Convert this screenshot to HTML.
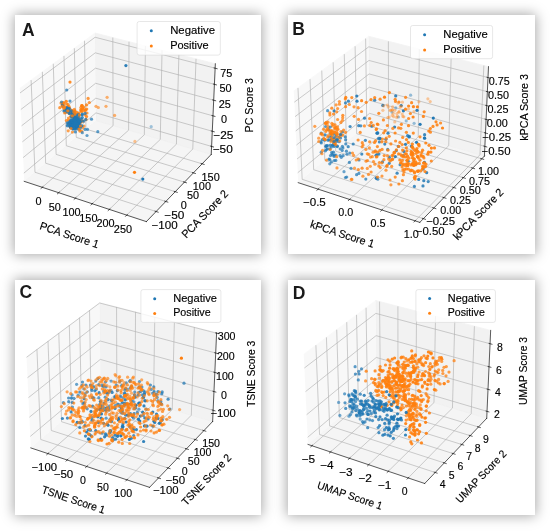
<!DOCTYPE html>
<html><head><meta charset="utf-8"><title>Figure</title><style>
html,body{margin:0;padding:0;background:#fff;width:550px;height:531px;overflow:hidden;font-family:"Liberation Sans",sans-serif}
.panel{position:absolute;background:#fff;box-shadow:0 0 12px 1px rgba(0,0,0,0.35);overflow:hidden}
.panel svg{position:absolute;left:0;top:0;filter:blur(0.3px)}
.lbl{position:absolute;font-weight:bold;font-size:17.5px;line-height:1;color:#1a1a1a;filter:blur(0.3px)}
</style></head><body>
<div class="panel" style="left:15px;top:15px;width:246px;height:239px"><svg width="246" height="239" viewBox="0 0 246 239" font-family="Liberation Sans, sans-serif"><g transform="translate(-91.40 -33.20) scale(0.81694 0.82472)"><g><g><path d="M 0 345.6  L 460.8 345.6  L 460.8 0  L 0 0  z " style="fill: #ffffff"/> </g> <g><path d="M 103.10 307.58  L 369.21 307.58  L 369.21 41.47  L 103.10 41.47  z " style="fill: #ffffff"/> </g> <g><g><path d="M 123.19 241.96  L 211.07 168.30  L 209.85 62.07  L 117.77 129.27  " style="fill: #f2f2f2; opacity: 0.5; stroke: #f2f2f2; stroke-linejoin: miter"/> </g> </g> <g><g><path d="M 211.07 168.30  L 352.09 209.29  L 357.12 99.40  L 209.85 62.07  " style="fill: #e6e6e6; opacity: 0.5; stroke: #e6e6e6; stroke-linejoin: miter"/> </g> </g> <g><g><path d="M 123.19 241.96  L 272.67 290.79  L 352.09 209.29  L 211.07 168.30  " style="fill: #ececec; opacity: 0.5; stroke: #ececec; stroke-linejoin: miter"/> </g> </g> <g><g><path d="M 145.26 249.17  L 231.97 174.38  L 231.63 67.59  " style="fill: none; stroke: #b0b0b0; stroke-width: 0.8"/> <path d="M 165.34 255.73  L 250.96 179.90  L 251.44 72.61  " style="fill: none; stroke: #b0b0b0; stroke-width: 0.8"/> <path d="M 185.71 262.38  L 270.20 185.49  L 271.52 77.70  " style="fill: none; stroke: #b0b0b0; stroke-width: 0.8"/> <path d="M 206.38 269.13  L 289.70 191.16  L 291.88 82.86  " style="fill: none; stroke: #b0b0b0; stroke-width: 0.8"/> <path d="M 227.35 275.98  L 309.46 196.90  L 312.53 88.10  " style="fill: none; stroke: #b0b0b0; stroke-width: 0.8"/> <path d="M 248.63 282.93  L 329.49 202.72  L 333.48 93.40  " style="fill: none; stroke: #b0b0b0; stroke-width: 0.8"/> </g> </g> <g><g><path d="M 131.59 119.18  L 136.34 230.94  L 284.60 278.54  " style="fill: none; stroke: #b0b0b0; stroke-width: 0.8"/> <path d="M 145.34 109.15  L 149.44 219.97  L 296.46 266.37  " style="fill: none; stroke: #b0b0b0; stroke-width: 0.8"/> <path d="M 158.74 99.37  L 162.21 209.26  L 308.02 254.51  " style="fill: none; stroke: #b0b0b0; stroke-width: 0.8"/> <path d="M 171.80 89.84  L 174.68 198.81  L 319.28 242.95  " style="fill: none; stroke: #b0b0b0; stroke-width: 0.8"/> <path d="M 184.53 80.54  L 186.85 188.61  L 330.26 231.68  " style="fill: none; stroke: #b0b0b0; stroke-width: 0.8"/> <path d="M 196.96 71.48  L 198.73 178.65  L 340.98 220.69  " style="fill: none; stroke: #b0b0b0; stroke-width: 0.8"/> </g> </g> <g><g><path d="M 352.53 199.61  L 210.96 158.93  L 122.72 232.05  " style="fill: none; stroke: #b0b0b0; stroke-width: 0.8"/> <path d="M 353.37 181.21  L 210.76 141.11  L 121.81 213.20  " style="fill: none; stroke: #b0b0b0; stroke-width: 0.8"/> <path d="M 354.23 162.53  L 210.55 123.04  L 120.89 194.06  " style="fill: none; stroke: #b0b0b0; stroke-width: 0.8"/> <path d="M 355.10 143.57  L 210.34 104.71  L 119.95 174.61  " style="fill: none; stroke: #b0b0b0; stroke-width: 0.8"/> <path d="M 355.98 124.32  L 210.13 86.12  L 119.00 154.86  " style="fill: none; stroke: #b0b0b0; stroke-width: 0.8"/> <path d="M 356.87 104.77  L 209.91 67.25  L 118.03 134.78  " style="fill: none; stroke: #b0b0b0; stroke-width: 0.8"/> </g> </g> <g><g><path d="M 123.19 241.96  L 272.67 290.79  " style="fill: none; stroke: #000000; stroke-width: 0.8; stroke-linecap: square"/> </g> <g><g><path d="M 146.02 248.52  L 143.75 250.48  " style="fill: none; stroke: #000000; stroke-width: 0.8; stroke-linecap: square"/> </g> </g> <g><g><path d="M 166.09 255.07  L 163.84 257.05  " style="fill: none; stroke: #000000; stroke-width: 0.8; stroke-linecap: square"/> </g> </g> <g><g><path d="M 186.45 261.71  L 184.23 263.73  " style="fill: none; stroke: #000000; stroke-width: 0.8; stroke-linecap: square"/> </g> </g> <g><g><path d="M 207.10 268.45  L 204.92 270.50  " style="fill: none; stroke: #000000; stroke-width: 0.8; stroke-linecap: square"/> </g> </g> <g><g><path d="M 228.06 275.29  L 225.91 277.37  " style="fill: none; stroke: #000000; stroke-width: 0.8; stroke-linecap: square"/> </g> </g> <g><g><path d="M 249.34 282.23  L 247.22 284.34  " style="fill: none; stroke: #000000; stroke-width: 0.8; stroke-linecap: square"/> </g> </g> </g> <g><g><path d="M 352.09 209.29  L 272.67 290.79  " style="fill: none; stroke: #000000; stroke-width: 0.8; stroke-linecap: square"/> </g> <g><g><path d="M 283.35 278.14  L 287.10 279.35  " style="fill: none; stroke: #000000; stroke-width: 0.8; stroke-linecap: square"/> </g> </g> <g><g><path d="M 295.22 265.98  L 298.94 267.15  " style="fill: none; stroke: #000000; stroke-width: 0.8; stroke-linecap: square"/> </g> </g> <g><g><path d="M 306.79 254.13  L 310.47 255.28  " style="fill: none; stroke: #000000; stroke-width: 0.8; stroke-linecap: square"/> </g> </g> <g><g><path d="M 318.07 242.58  L 321.72 243.70  " style="fill: none; stroke: #000000; stroke-width: 0.8; stroke-linecap: square"/> </g> </g> <g><g><path d="M 329.06 231.32  L 332.68 232.41  " style="fill: none; stroke: #000000; stroke-width: 0.8; stroke-linecap: square"/> </g> </g> <g><g><path d="M 339.78 220.34  L 343.37 221.40  " style="fill: none; stroke: #000000; stroke-width: 0.8; stroke-linecap: square"/> </g> </g> </g> <g><g><path d="M 352.09 209.29  L 357.12 99.40  " style="fill: none; stroke: #000000; stroke-width: 0.8; stroke-linecap: square"/> </g> <g><g><path d="M 351.34 199.27  L 354.91 200.29  " style="fill: none; stroke: #000000; stroke-width: 0.8; stroke-linecap: square"/> </g> </g> <g><g><path d="M 352.17 180.87  L 355.77 181.88  " style="fill: none; stroke: #000000; stroke-width: 0.8; stroke-linecap: square"/> </g> </g> <g><g><path d="M 353.02 162.20  L 356.64 163.19  " style="fill: none; stroke: #000000; stroke-width: 0.8; stroke-linecap: square"/> </g> </g> <g><g><path d="M 353.88 143.24  L 357.53 144.22  " style="fill: none; stroke: #000000; stroke-width: 0.8; stroke-linecap: square"/> </g> </g> <g><g><path d="M 354.75 123.99  L 358.43 124.96  " style="fill: none; stroke: #000000; stroke-width: 0.8; stroke-linecap: square"/> </g> </g> <g><g><path d="M 355.64 104.45  L 359.35 105.40  " style="fill: none; stroke: #000000; stroke-width: 0.8; stroke-linecap: square"/> </g> </g> </g> <g/> </g> </g><text x="23.48" y="190.30" font-size="11.17" textLength="6.06" lengthAdjust="spacingAndGlyphs" text-anchor="middle" fill="#000" stroke="#000" stroke-width="0.15">0</text><text x="39.88" y="195.71" font-size="11.17" textLength="12.11" lengthAdjust="spacingAndGlyphs" text-anchor="middle" fill="#000" stroke="#000" stroke-width="0.15">50</text><text x="56.52" y="201.19" font-size="11.17" textLength="18.17" lengthAdjust="spacingAndGlyphs" text-anchor="middle" fill="#000" stroke="#000" stroke-width="0.15">100</text><text x="73.41" y="206.76" font-size="11.17" textLength="18.17" lengthAdjust="spacingAndGlyphs" text-anchor="middle" fill="#000" stroke="#000" stroke-width="0.15">150</text><text x="90.54" y="212.41" font-size="11.17" textLength="18.17" lengthAdjust="spacingAndGlyphs" text-anchor="middle" fill="#000" stroke="#000" stroke-width="0.15">200</text><text x="107.93" y="218.14" font-size="11.17" textLength="18.17" lengthAdjust="spacingAndGlyphs" text-anchor="middle" fill="#000" stroke="#000" stroke-width="0.15">250</text><text x="149.61" y="213.84" font-size="11.17" textLength="26.15" lengthAdjust="spacingAndGlyphs" text-anchor="middle" fill="#000" stroke="#000" stroke-width="0.15">−100</text><text x="159.30" y="203.80" font-size="11.17" textLength="20.09" lengthAdjust="spacingAndGlyphs" text-anchor="middle" fill="#000" stroke="#000" stroke-width="0.15">−50</text><text x="168.74" y="194.02" font-size="11.17" textLength="6.06" lengthAdjust="spacingAndGlyphs" text-anchor="middle" fill="#000" stroke="#000" stroke-width="0.15">0</text><text x="177.94" y="184.49" font-size="11.17" textLength="12.11" lengthAdjust="spacingAndGlyphs" text-anchor="middle" fill="#000" stroke="#000" stroke-width="0.15">50</text><text x="186.91" y="175.19" font-size="11.17" textLength="18.17" lengthAdjust="spacingAndGlyphs" text-anchor="middle" fill="#000" stroke="#000" stroke-width="0.15">100</text><text x="195.66" y="166.13" font-size="11.17" textLength="18.17" lengthAdjust="spacingAndGlyphs" text-anchor="middle" fill="#000" stroke="#000" stroke-width="0.15">150</text><text x="207.70" y="138.49" font-size="11.17" textLength="20.09" lengthAdjust="spacingAndGlyphs" text-anchor="middle" fill="#000" stroke="#000" stroke-width="0.15">−50</text><text x="208.39" y="123.59" font-size="11.17" textLength="20.09" lengthAdjust="spacingAndGlyphs" text-anchor="middle" fill="#000" stroke="#000" stroke-width="0.15">−25</text><text x="209.09" y="108.46" font-size="11.17" textLength="6.06" lengthAdjust="spacingAndGlyphs" text-anchor="middle" fill="#000" stroke="#000" stroke-width="0.15">0</text><text x="209.80" y="93.09" font-size="11.17" textLength="12.11" lengthAdjust="spacingAndGlyphs" text-anchor="middle" fill="#000" stroke="#000" stroke-width="0.15">25</text><text x="210.52" y="77.49" font-size="11.17" textLength="12.11" lengthAdjust="spacingAndGlyphs" text-anchor="middle" fill="#000" stroke="#000" stroke-width="0.15">50</text><text x="211.25" y="61.65" font-size="11.17" textLength="12.11" lengthAdjust="spacingAndGlyphs" text-anchor="middle" fill="#000" stroke="#000" stroke-width="0.15">75</text><text x="53.14" y="223.73" font-size="11.17" textLength="61.47" lengthAdjust="spacingAndGlyphs" text-anchor="middle" fill="#000" stroke="#000" stroke-width="0.15" transform="rotate(18.2 53.14 223.73)">PCA Score 1</text><text x="192.57" y="201.68" font-size="11.17" textLength="61.47" lengthAdjust="spacingAndGlyphs" text-anchor="middle" fill="#000" stroke="#000" stroke-width="0.15" transform="rotate(-46.0 192.57 201.68)">PCA Score 2</text><text x="238.31" y="90.20" font-size="11.17" textLength="54.53" lengthAdjust="spacingAndGlyphs" text-anchor="middle" fill="#000" stroke="#000" stroke-width="0.15" transform="rotate(-90.0 238.31 90.20)">PC Score 3</text><circle cx="119.9" cy="126.4" r="1.6" fill="#ff7f0e" fill-opacity="0.45"/><circle cx="136.2" cy="111.7" r="1.6" fill="#1f77b4" fill-opacity="0.40"/><circle cx="99.6" cy="100.4" r="1.6" fill="#ff7f0e" fill-opacity="0.60"/><circle cx="81.0" cy="91.3" r="1.6" fill="#ff7f0e" fill-opacity="0.60"/><circle cx="83.3" cy="92.5" r="1.6" fill="#ff7f0e" fill-opacity="0.60"/><circle cx="91.0" cy="91.3" r="1.6" fill="#ff7f0e" fill-opacity="0.60"/><circle cx="92.1" cy="82.3" r="1.6" fill="#ff7f0e" fill-opacity="0.60"/><circle cx="57.4" cy="117.1" r="1.6" fill="#ff7f0e" fill-opacity="0.69"/><circle cx="65.0" cy="115.0" r="1.6" fill="#ff7f0e" fill-opacity="0.69"/><circle cx="66.8" cy="116.3" r="1.6" fill="#ff7f0e" fill-opacity="0.69"/><circle cx="47.2" cy="89.9" r="1.6" fill="#ff7f0e" fill-opacity="0.69"/><circle cx="57.5" cy="97.5" r="1.6" fill="#ff7f0e" fill-opacity="0.70"/><circle cx="46.0" cy="88.0" r="1.6" fill="#ff7f0e" fill-opacity="0.70"/><circle cx="48.0" cy="90.0" r="1.6" fill="#ff7f0e" fill-opacity="0.70"/><circle cx="68.0" cy="113.0" r="1.6" fill="#ff7f0e" fill-opacity="0.70"/><circle cx="48.6" cy="90.3" r="1.6" fill="#ff7f0e" fill-opacity="0.70"/><circle cx="69.0" cy="111.0" r="1.6" fill="#ff7f0e" fill-opacity="0.71"/><circle cx="57.0" cy="95.5" r="1.6" fill="#ff7f0e" fill-opacity="0.71"/><circle cx="53.2" cy="115.8" r="1.6" fill="#ff7f0e" fill-opacity="0.72"/><circle cx="59.8" cy="96.4" r="1.6" fill="#ff7f0e" fill-opacity="0.72"/><circle cx="54.4" cy="110.9" r="1.6" fill="#ff7f0e" fill-opacity="0.72"/><circle cx="53.1" cy="89.7" r="1.6" fill="#ff7f0e" fill-opacity="0.72"/><circle cx="57.0" cy="96.8" r="1.6" fill="#ff7f0e" fill-opacity="0.72"/><circle cx="47.6" cy="89.6" r="1.6" fill="#ff7f0e" fill-opacity="0.73"/><circle cx="54.4" cy="98.5" r="1.6" fill="#ff7f0e" fill-opacity="0.73"/><circle cx="57.2" cy="102.0" r="1.6" fill="#ff7f0e" fill-opacity="0.73"/><circle cx="59.1" cy="98.1" r="1.6" fill="#ff7f0e" fill-opacity="0.73"/><circle cx="56.6" cy="97.0" r="1.6" fill="#ff7f0e" fill-opacity="0.73"/><circle cx="71.1" cy="104.5" r="1.6" fill="#ff7f0e" fill-opacity="0.73"/><circle cx="56.4" cy="95.2" r="1.6" fill="#ff7f0e" fill-opacity="0.74"/><circle cx="57.2" cy="97.3" r="1.6" fill="#ff7f0e" fill-opacity="0.74"/><circle cx="64.8" cy="116.1" r="1.6" fill="#ff7f0e" fill-opacity="0.74"/><circle cx="55.3" cy="98.0" r="1.6" fill="#ff7f0e" fill-opacity="0.74"/><circle cx="54.1" cy="91.5" r="1.6" fill="#ff7f0e" fill-opacity="0.74"/><circle cx="52.1" cy="97.3" r="1.6" fill="#ff7f0e" fill-opacity="0.75"/><circle cx="65.9" cy="92.5" r="1.6" fill="#ff7f0e" fill-opacity="0.75"/><circle cx="52.0" cy="94.5" r="1.6" fill="#ff7f0e" fill-opacity="0.75"/><circle cx="66.0" cy="94.7" r="1.6" fill="#ff7f0e" fill-opacity="0.75"/><circle cx="69.0" cy="96.0" r="1.6" fill="#ff7f0e" fill-opacity="0.75"/><circle cx="56.1" cy="96.7" r="1.6" fill="#ff7f0e" fill-opacity="0.75"/><circle cx="72.0" cy="98.0" r="1.6" fill="#ff7f0e" fill-opacity="0.75"/><circle cx="62.5" cy="111.5" r="1.6" fill="#ff7f0e" fill-opacity="0.75"/><circle cx="66.0" cy="94.9" r="1.6" fill="#ff7f0e" fill-opacity="0.76"/><circle cx="59.4" cy="94.4" r="1.6" fill="#ff7f0e" fill-opacity="0.76"/><circle cx="55.6" cy="97.7" r="1.6" fill="#ff7f0e" fill-opacity="0.76"/><circle cx="48.3" cy="87.5" r="1.6" fill="#ff7f0e" fill-opacity="0.76"/><circle cx="54.5" cy="93.0" r="1.6" fill="#ff7f0e" fill-opacity="0.76"/><circle cx="62.9" cy="108.5" r="1.6" fill="#ff7f0e" fill-opacity="0.76"/><circle cx="62.5" cy="102.8" r="1.6" fill="#ff7f0e" fill-opacity="0.76"/><circle cx="53.5" cy="105.1" r="1.6" fill="#ff7f0e" fill-opacity="0.76"/><circle cx="52.4" cy="95.6" r="1.6" fill="#ff7f0e" fill-opacity="0.76"/><circle cx="55.2" cy="106.0" r="1.6" fill="#ff7f0e" fill-opacity="0.76"/><circle cx="58.7" cy="109.4" r="1.6" fill="#ff7f0e" fill-opacity="0.76"/><circle cx="62.3" cy="104.1" r="1.6" fill="#ff7f0e" fill-opacity="0.77"/><circle cx="70.1" cy="99.9" r="1.6" fill="#ff7f0e" fill-opacity="0.77"/><circle cx="53.7" cy="93.2" r="1.6" fill="#ff7f0e" fill-opacity="0.77"/><circle cx="53.4" cy="108.6" r="1.6" fill="#ff7f0e" fill-opacity="0.77"/><circle cx="70.2" cy="95.2" r="1.6" fill="#ff7f0e" fill-opacity="0.77"/><circle cx="58.6" cy="99.8" r="1.6" fill="#ff7f0e" fill-opacity="0.77"/><circle cx="51.4" cy="105.6" r="1.6" fill="#ff7f0e" fill-opacity="0.77"/><circle cx="68.7" cy="92.1" r="1.6" fill="#ff7f0e" fill-opacity="0.77"/><circle cx="66.6" cy="90.7" r="1.6" fill="#ff7f0e" fill-opacity="0.78"/><circle cx="54.9" cy="96.5" r="1.6" fill="#ff7f0e" fill-opacity="0.78"/><circle cx="59.7" cy="99.9" r="1.6" fill="#ff7f0e" fill-opacity="0.78"/><circle cx="67.1" cy="91.0" r="1.6" fill="#ff7f0e" fill-opacity="0.79"/><circle cx="57.5" cy="102.0" r="1.6" fill="#ff7f0e" fill-opacity="0.79"/><circle cx="74.3" cy="87.5" r="1.6" fill="#ff7f0e" fill-opacity="0.79"/><circle cx="62.0" cy="107.0" r="1.6" fill="#ff7f0e" fill-opacity="0.79"/><circle cx="55.7" cy="101.3" r="1.6" fill="#ff7f0e" fill-opacity="0.79"/><circle cx="63.9" cy="102.5" r="1.6" fill="#ff7f0e" fill-opacity="0.79"/><circle cx="66.1" cy="105.4" r="1.6" fill="#ff7f0e" fill-opacity="0.79"/><circle cx="60.0" cy="102.9" r="1.6" fill="#ff7f0e" fill-opacity="0.79"/><circle cx="67.5" cy="93.5" r="1.6" fill="#ff7f0e" fill-opacity="0.79"/><circle cx="70.7" cy="95.0" r="1.6" fill="#ff7f0e" fill-opacity="0.79"/><circle cx="73.1" cy="83.4" r="1.6" fill="#ff7f0e" fill-opacity="0.79"/><circle cx="66.4" cy="95.6" r="1.6" fill="#ff7f0e" fill-opacity="0.80"/><circle cx="50.8" cy="93.2" r="1.6" fill="#ff7f0e" fill-opacity="0.80"/><circle cx="52.9" cy="91.5" r="1.6" fill="#ff7f0e" fill-opacity="0.80"/><circle cx="57.7" cy="100.8" r="1.6" fill="#ff7f0e" fill-opacity="0.80"/><circle cx="63.8" cy="109.0" r="1.6" fill="#ff7f0e" fill-opacity="0.80"/><circle cx="63.7" cy="98.0" r="1.6" fill="#ff7f0e" fill-opacity="0.80"/><circle cx="59.4" cy="95.9" r="1.6" fill="#ff7f0e" fill-opacity="0.81"/><circle cx="61.1" cy="109.2" r="1.6" fill="#ff7f0e" fill-opacity="0.81"/><circle cx="62.1" cy="112.0" r="1.6" fill="#ff7f0e" fill-opacity="0.81"/><circle cx="58.3" cy="105.5" r="1.6" fill="#ff7f0e" fill-opacity="0.81"/><circle cx="68.1" cy="93.8" r="1.6" fill="#ff7f0e" fill-opacity="0.81"/><circle cx="62.6" cy="106.5" r="1.6" fill="#ff7f0e" fill-opacity="0.81"/><circle cx="63.3" cy="107.4" r="1.6" fill="#ff7f0e" fill-opacity="0.82"/><circle cx="58.5" cy="108.1" r="1.6" fill="#ff7f0e" fill-opacity="0.82"/><circle cx="71.5" cy="89.9" r="1.6" fill="#ff7f0e" fill-opacity="0.82"/><circle cx="71.7" cy="94.1" r="1.6" fill="#ff7f0e" fill-opacity="0.82"/><circle cx="65.1" cy="107.7" r="1.6" fill="#ff7f0e" fill-opacity="0.83"/><circle cx="58.8" cy="105.1" r="1.6" fill="#ff7f0e" fill-opacity="0.83"/><circle cx="71.6" cy="101.5" r="1.6" fill="#ff7f0e" fill-opacity="0.84"/><circle cx="65.7" cy="106.9" r="1.6" fill="#ff7f0e" fill-opacity="0.84"/><circle cx="67.1" cy="90.7" r="1.6" fill="#ff7f0e" fill-opacity="0.85"/><circle cx="57.3" cy="106.7" r="1.6" fill="#ff7f0e" fill-opacity="0.85"/><circle cx="66.5" cy="96.8" r="1.6" fill="#ff7f0e" fill-opacity="0.85"/><circle cx="55.0" cy="67.1" r="1.6" fill="#ff7f0e" fill-opacity="0.87"/><circle cx="67.6" cy="106.2" r="1.6" fill="#ff7f0e" fill-opacity="0.87"/><circle cx="119.5" cy="157.3" r="1.6" fill="#ff7f0e"/><circle cx="67.3" cy="117.7" r="1.6" fill="#1f77b4" fill-opacity="0.68"/><circle cx="72.0" cy="120.5" r="1.6" fill="#1f77b4" fill-opacity="0.69"/><circle cx="54.7" cy="107.1" r="1.6" fill="#1f77b4" fill-opacity="0.69"/><circle cx="70.1" cy="114.4" r="1.6" fill="#1f77b4" fill-opacity="0.70"/><circle cx="46.6" cy="87.0" r="1.6" fill="#1f77b4" fill-opacity="0.70"/><circle cx="72.5" cy="114.4" r="1.6" fill="#1f77b4" fill-opacity="0.70"/><circle cx="53.6" cy="108.2" r="1.6" fill="#1f77b4" fill-opacity="0.71"/><circle cx="59.7" cy="105.1" r="1.6" fill="#1f77b4" fill-opacity="0.71"/><circle cx="59.8" cy="110.9" r="1.6" fill="#1f77b4" fill-opacity="0.71"/><circle cx="60.8" cy="110.0" r="1.6" fill="#1f77b4" fill-opacity="0.71"/><circle cx="55.1" cy="106.0" r="1.6" fill="#1f77b4" fill-opacity="0.71"/><circle cx="56.1" cy="110.1" r="1.6" fill="#1f77b4" fill-opacity="0.71"/><circle cx="55.2" cy="111.5" r="1.6" fill="#1f77b4" fill-opacity="0.71"/><circle cx="57.6" cy="109.9" r="1.6" fill="#1f77b4" fill-opacity="0.71"/><circle cx="58.7" cy="109.0" r="1.6" fill="#1f77b4" fill-opacity="0.71"/><circle cx="47.3" cy="90.1" r="1.6" fill="#1f77b4" fill-opacity="0.71"/><circle cx="59.5" cy="111.7" r="1.6" fill="#1f77b4" fill-opacity="0.71"/><circle cx="55.2" cy="108.8" r="1.6" fill="#1f77b4" fill-opacity="0.72"/><circle cx="57.1" cy="108.4" r="1.6" fill="#1f77b4" fill-opacity="0.72"/><circle cx="60.6" cy="110.5" r="1.6" fill="#1f77b4" fill-opacity="0.72"/><circle cx="60.8" cy="110.3" r="1.6" fill="#1f77b4" fill-opacity="0.72"/><circle cx="57.9" cy="99.6" r="1.6" fill="#1f77b4" fill-opacity="0.72"/><circle cx="60.4" cy="116.9" r="1.6" fill="#1f77b4" fill-opacity="0.72"/><circle cx="55.0" cy="86.1" r="1.6" fill="#1f77b4" fill-opacity="0.72"/><circle cx="56.0" cy="106.6" r="1.6" fill="#1f77b4" fill-opacity="0.72"/><circle cx="50.1" cy="97.1" r="1.6" fill="#1f77b4" fill-opacity="0.72"/><circle cx="57.9" cy="110.4" r="1.6" fill="#1f77b4" fill-opacity="0.72"/><circle cx="59.5" cy="113.6" r="1.6" fill="#1f77b4" fill-opacity="0.72"/><circle cx="65.3" cy="113.1" r="1.6" fill="#1f77b4" fill-opacity="0.72"/><circle cx="58.3" cy="109.7" r="1.6" fill="#1f77b4" fill-opacity="0.72"/><circle cx="82.8" cy="116.7" r="1.6" fill="#1f77b4" fill-opacity="0.72"/><circle cx="62.1" cy="108.4" r="1.6" fill="#1f77b4" fill-opacity="0.72"/><circle cx="61.1" cy="107.1" r="1.6" fill="#1f77b4" fill-opacity="0.73"/><circle cx="48.1" cy="91.6" r="1.6" fill="#1f77b4" fill-opacity="0.73"/><circle cx="63.0" cy="111.2" r="1.6" fill="#1f77b4" fill-opacity="0.73"/><circle cx="58.5" cy="107.6" r="1.6" fill="#1f77b4" fill-opacity="0.73"/><circle cx="59.2" cy="111.8" r="1.6" fill="#1f77b4" fill-opacity="0.73"/><circle cx="57.6" cy="109.6" r="1.6" fill="#1f77b4" fill-opacity="0.73"/><circle cx="61.9" cy="111.9" r="1.6" fill="#1f77b4" fill-opacity="0.73"/><circle cx="61.9" cy="111.5" r="1.6" fill="#1f77b4" fill-opacity="0.73"/><circle cx="60.2" cy="107.9" r="1.6" fill="#1f77b4" fill-opacity="0.73"/><circle cx="57.7" cy="109.1" r="1.6" fill="#1f77b4" fill-opacity="0.73"/><circle cx="58.1" cy="113.4" r="1.6" fill="#1f77b4" fill-opacity="0.73"/><circle cx="70.1" cy="98.4" r="1.6" fill="#1f77b4" fill-opacity="0.73"/><circle cx="61.4" cy="113.7" r="1.6" fill="#1f77b4" fill-opacity="0.73"/><circle cx="64.1" cy="106.0" r="1.6" fill="#1f77b4" fill-opacity="0.73"/><circle cx="52.3" cy="110.8" r="1.6" fill="#1f77b4" fill-opacity="0.73"/><circle cx="59.7" cy="111.2" r="1.6" fill="#1f77b4" fill-opacity="0.73"/><circle cx="76.5" cy="104.2" r="1.6" fill="#1f77b4" fill-opacity="0.73"/><circle cx="55.5" cy="112.7" r="1.6" fill="#1f77b4" fill-opacity="0.74"/><circle cx="51.7" cy="75.0" r="1.6" fill="#1f77b4" fill-opacity="0.74"/><circle cx="57.7" cy="109.3" r="1.6" fill="#1f77b4" fill-opacity="0.74"/><circle cx="58.8" cy="111.5" r="1.6" fill="#1f77b4" fill-opacity="0.74"/><circle cx="55.1" cy="107.8" r="1.6" fill="#1f77b4" fill-opacity="0.74"/><circle cx="52.0" cy="92.7" r="1.6" fill="#1f77b4" fill-opacity="0.74"/><circle cx="61.7" cy="107.9" r="1.6" fill="#1f77b4" fill-opacity="0.74"/><circle cx="59.9" cy="110.0" r="1.6" fill="#1f77b4" fill-opacity="0.74"/><circle cx="51.9" cy="96.7" r="1.6" fill="#1f77b4" fill-opacity="0.74"/><circle cx="62.8" cy="107.2" r="1.6" fill="#1f77b4" fill-opacity="0.74"/><circle cx="57.6" cy="108.9" r="1.6" fill="#1f77b4" fill-opacity="0.74"/><circle cx="63.3" cy="110.8" r="1.6" fill="#1f77b4" fill-opacity="0.74"/><circle cx="58.0" cy="114.1" r="1.6" fill="#1f77b4" fill-opacity="0.74"/><circle cx="56.3" cy="110.4" r="1.6" fill="#1f77b4" fill-opacity="0.74"/><circle cx="67.4" cy="99.2" r="1.6" fill="#1f77b4" fill-opacity="0.74"/><circle cx="58.3" cy="107.9" r="1.6" fill="#1f77b4" fill-opacity="0.74"/><circle cx="56.2" cy="104.5" r="1.6" fill="#1f77b4" fill-opacity="0.74"/><circle cx="63.4" cy="109.2" r="1.6" fill="#1f77b4" fill-opacity="0.74"/><circle cx="61.2" cy="108.4" r="1.6" fill="#1f77b4" fill-opacity="0.74"/><circle cx="57.4" cy="106.7" r="1.6" fill="#1f77b4" fill-opacity="0.74"/><circle cx="52.4" cy="107.8" r="1.6" fill="#1f77b4" fill-opacity="0.74"/><circle cx="55.4" cy="108.4" r="1.6" fill="#1f77b4" fill-opacity="0.74"/><circle cx="58.6" cy="110.9" r="1.6" fill="#1f77b4" fill-opacity="0.74"/><circle cx="54.0" cy="98.1" r="1.6" fill="#1f77b4" fill-opacity="0.74"/><circle cx="60.2" cy="108.2" r="1.6" fill="#1f77b4" fill-opacity="0.74"/><circle cx="56.4" cy="109.8" r="1.6" fill="#1f77b4" fill-opacity="0.74"/><circle cx="58.1" cy="109.0" r="1.6" fill="#1f77b4" fill-opacity="0.74"/><circle cx="54.8" cy="110.9" r="1.6" fill="#1f77b4" fill-opacity="0.75"/><circle cx="61.5" cy="108.6" r="1.6" fill="#1f77b4" fill-opacity="0.75"/><circle cx="55.6" cy="109.0" r="1.6" fill="#1f77b4" fill-opacity="0.75"/><circle cx="56.3" cy="110.0" r="1.6" fill="#1f77b4" fill-opacity="0.75"/><circle cx="58.8" cy="109.3" r="1.6" fill="#1f77b4" fill-opacity="0.75"/><circle cx="51.6" cy="93.0" r="1.6" fill="#1f77b4" fill-opacity="0.75"/><circle cx="65.0" cy="107.2" r="1.6" fill="#1f77b4" fill-opacity="0.75"/><circle cx="59.3" cy="99.0" r="1.6" fill="#1f77b4" fill-opacity="0.75"/><circle cx="63.7" cy="110.2" r="1.6" fill="#1f77b4" fill-opacity="0.75"/><circle cx="59.7" cy="110.1" r="1.6" fill="#1f77b4" fill-opacity="0.75"/><circle cx="57.5" cy="97.4" r="1.6" fill="#1f77b4" fill-opacity="0.75"/><circle cx="63.6" cy="99.6" r="1.6" fill="#1f77b4" fill-opacity="0.75"/><circle cx="57.2" cy="110.1" r="1.6" fill="#1f77b4" fill-opacity="0.75"/><circle cx="58.5" cy="102.4" r="1.6" fill="#1f77b4" fill-opacity="0.75"/><circle cx="61.1" cy="109.7" r="1.6" fill="#1f77b4" fill-opacity="0.75"/><circle cx="54.6" cy="98.5" r="1.6" fill="#1f77b4" fill-opacity="0.75"/><circle cx="61.1" cy="109.7" r="1.6" fill="#1f77b4" fill-opacity="0.75"/><circle cx="60.8" cy="107.5" r="1.6" fill="#1f77b4" fill-opacity="0.75"/><circle cx="62.1" cy="99.4" r="1.6" fill="#1f77b4" fill-opacity="0.75"/><circle cx="48.9" cy="96.0" r="1.6" fill="#1f77b4" fill-opacity="0.75"/><circle cx="60.3" cy="111.8" r="1.6" fill="#1f77b4" fill-opacity="0.75"/><circle cx="62.5" cy="109.1" r="1.6" fill="#1f77b4" fill-opacity="0.75"/><circle cx="61.7" cy="109.0" r="1.6" fill="#1f77b4" fill-opacity="0.75"/><circle cx="62.7" cy="108.1" r="1.6" fill="#1f77b4" fill-opacity="0.75"/><circle cx="62.8" cy="112.6" r="1.6" fill="#1f77b4" fill-opacity="0.75"/><circle cx="58.7" cy="111.7" r="1.6" fill="#1f77b4" fill-opacity="0.76"/><circle cx="54.1" cy="95.9" r="1.6" fill="#1f77b4" fill-opacity="0.76"/><circle cx="61.0" cy="106.7" r="1.6" fill="#1f77b4" fill-opacity="0.76"/><circle cx="60.7" cy="106.1" r="1.6" fill="#1f77b4" fill-opacity="0.76"/><circle cx="57.7" cy="113.4" r="1.6" fill="#1f77b4" fill-opacity="0.76"/><circle cx="60.2" cy="111.9" r="1.6" fill="#1f77b4" fill-opacity="0.76"/><circle cx="63.9" cy="109.2" r="1.6" fill="#1f77b4" fill-opacity="0.76"/><circle cx="67.0" cy="110.8" r="1.6" fill="#1f77b4" fill-opacity="0.76"/><circle cx="57.3" cy="99.2" r="1.6" fill="#1f77b4" fill-opacity="0.76"/><circle cx="61.3" cy="106.7" r="1.6" fill="#1f77b4" fill-opacity="0.76"/><circle cx="56.9" cy="109.5" r="1.6" fill="#1f77b4" fill-opacity="0.76"/><circle cx="58.4" cy="105.5" r="1.6" fill="#1f77b4" fill-opacity="0.76"/><circle cx="58.9" cy="108.1" r="1.6" fill="#1f77b4" fill-opacity="0.76"/><circle cx="63.8" cy="107.0" r="1.6" fill="#1f77b4" fill-opacity="0.76"/><circle cx="56.3" cy="111.9" r="1.6" fill="#1f77b4" fill-opacity="0.76"/><circle cx="58.2" cy="113.2" r="1.6" fill="#1f77b4" fill-opacity="0.76"/><circle cx="51.7" cy="94.1" r="1.6" fill="#1f77b4" fill-opacity="0.76"/><circle cx="59.2" cy="105.9" r="1.6" fill="#1f77b4" fill-opacity="0.76"/><circle cx="61.4" cy="105.1" r="1.6" fill="#1f77b4" fill-opacity="0.76"/><circle cx="51.1" cy="94.0" r="1.6" fill="#1f77b4" fill-opacity="0.76"/><circle cx="56.7" cy="105.3" r="1.6" fill="#1f77b4" fill-opacity="0.76"/><circle cx="52.7" cy="109.9" r="1.6" fill="#1f77b4" fill-opacity="0.76"/><circle cx="49.6" cy="95.3" r="1.6" fill="#1f77b4" fill-opacity="0.76"/><circle cx="59.0" cy="103.6" r="1.6" fill="#1f77b4" fill-opacity="0.76"/><circle cx="59.7" cy="113.7" r="1.6" fill="#1f77b4" fill-opacity="0.76"/><circle cx="61.6" cy="108.1" r="1.6" fill="#1f77b4" fill-opacity="0.76"/><circle cx="63.0" cy="104.2" r="1.6" fill="#1f77b4" fill-opacity="0.76"/><circle cx="70.7" cy="104.4" r="1.6" fill="#1f77b4" fill-opacity="0.76"/><circle cx="57.3" cy="109.6" r="1.6" fill="#1f77b4" fill-opacity="0.76"/><circle cx="57.3" cy="98.5" r="1.6" fill="#1f77b4" fill-opacity="0.77"/><circle cx="56.1" cy="95.8" r="1.6" fill="#1f77b4" fill-opacity="0.77"/><circle cx="57.5" cy="110.2" r="1.6" fill="#1f77b4" fill-opacity="0.77"/><circle cx="58.5" cy="97.6" r="1.6" fill="#1f77b4" fill-opacity="0.77"/><circle cx="56.9" cy="105.6" r="1.6" fill="#1f77b4" fill-opacity="0.77"/><circle cx="65.9" cy="111.1" r="1.6" fill="#1f77b4" fill-opacity="0.77"/><circle cx="63.6" cy="109.7" r="1.6" fill="#1f77b4" fill-opacity="0.77"/><circle cx="59.3" cy="104.1" r="1.6" fill="#1f77b4" fill-opacity="0.77"/><circle cx="59.8" cy="104.7" r="1.6" fill="#1f77b4" fill-opacity="0.77"/><circle cx="62.9" cy="110.3" r="1.6" fill="#1f77b4" fill-opacity="0.77"/><circle cx="60.6" cy="103.5" r="1.6" fill="#1f77b4" fill-opacity="0.77"/><circle cx="59.4" cy="109.5" r="1.6" fill="#1f77b4" fill-opacity="0.77"/><circle cx="60.2" cy="109.4" r="1.6" fill="#1f77b4" fill-opacity="0.77"/><circle cx="53.5" cy="93.7" r="1.6" fill="#1f77b4" fill-opacity="0.77"/><circle cx="63.5" cy="109.6" r="1.6" fill="#1f77b4" fill-opacity="0.77"/><circle cx="61.6" cy="112.6" r="1.6" fill="#1f77b4" fill-opacity="0.77"/><circle cx="61.5" cy="102.5" r="1.6" fill="#1f77b4" fill-opacity="0.77"/><circle cx="58.0" cy="107.5" r="1.6" fill="#1f77b4" fill-opacity="0.78"/><circle cx="59.6" cy="111.0" r="1.6" fill="#1f77b4" fill-opacity="0.78"/><circle cx="66.3" cy="103.8" r="1.6" fill="#1f77b4" fill-opacity="0.78"/><circle cx="64.1" cy="100.5" r="1.6" fill="#1f77b4" fill-opacity="0.78"/><circle cx="59.4" cy="105.7" r="1.6" fill="#1f77b4" fill-opacity="0.78"/><circle cx="61.3" cy="106.1" r="1.6" fill="#1f77b4" fill-opacity="0.78"/><circle cx="59.2" cy="112.3" r="1.6" fill="#1f77b4" fill-opacity="0.78"/><circle cx="54.3" cy="93.6" r="1.6" fill="#1f77b4" fill-opacity="0.78"/><circle cx="63.2" cy="109.1" r="1.6" fill="#1f77b4" fill-opacity="0.78"/><circle cx="60.6" cy="106.4" r="1.6" fill="#1f77b4" fill-opacity="0.78"/><circle cx="58.2" cy="109.9" r="1.6" fill="#1f77b4" fill-opacity="0.78"/><circle cx="58.7" cy="112.6" r="1.6" fill="#1f77b4" fill-opacity="0.78"/><circle cx="65.3" cy="106.3" r="1.6" fill="#1f77b4" fill-opacity="0.78"/><circle cx="60.1" cy="102.5" r="1.6" fill="#1f77b4" fill-opacity="0.78"/><circle cx="59.1" cy="107.8" r="1.6" fill="#1f77b4" fill-opacity="0.78"/><circle cx="59.7" cy="107.8" r="1.6" fill="#1f77b4" fill-opacity="0.78"/><circle cx="60.6" cy="107.9" r="1.6" fill="#1f77b4" fill-opacity="0.78"/><circle cx="64.5" cy="109.6" r="1.6" fill="#1f77b4" fill-opacity="0.78"/><circle cx="60.1" cy="102.3" r="1.6" fill="#1f77b4" fill-opacity="0.79"/><circle cx="58.6" cy="104.5" r="1.6" fill="#1f77b4" fill-opacity="0.79"/><circle cx="60.8" cy="107.0" r="1.6" fill="#1f77b4" fill-opacity="0.79"/><circle cx="59.7" cy="109.6" r="1.6" fill="#1f77b4" fill-opacity="0.79"/><circle cx="56.3" cy="101.5" r="1.6" fill="#1f77b4" fill-opacity="0.79"/><circle cx="60.8" cy="107.6" r="1.6" fill="#1f77b4" fill-opacity="0.79"/><circle cx="63.0" cy="113.9" r="1.6" fill="#1f77b4" fill-opacity="0.79"/><circle cx="57.7" cy="101.5" r="1.6" fill="#1f77b4" fill-opacity="0.79"/><circle cx="62.2" cy="103.3" r="1.6" fill="#1f77b4" fill-opacity="0.79"/><circle cx="63.8" cy="106.9" r="1.6" fill="#1f77b4" fill-opacity="0.79"/><circle cx="62.6" cy="108.9" r="1.6" fill="#1f77b4" fill-opacity="0.79"/><circle cx="60.4" cy="102.7" r="1.6" fill="#1f77b4" fill-opacity="0.79"/><circle cx="62.0" cy="111.0" r="1.6" fill="#1f77b4" fill-opacity="0.80"/><circle cx="62.2" cy="104.5" r="1.6" fill="#1f77b4" fill-opacity="0.80"/><circle cx="60.5" cy="103.7" r="1.6" fill="#1f77b4" fill-opacity="0.80"/><circle cx="58.7" cy="107.5" r="1.6" fill="#1f77b4" fill-opacity="0.80"/><circle cx="62.0" cy="100.6" r="1.6" fill="#1f77b4" fill-opacity="0.80"/><circle cx="65.6" cy="111.5" r="1.6" fill="#1f77b4" fill-opacity="0.80"/><circle cx="64.0" cy="103.7" r="1.6" fill="#1f77b4" fill-opacity="0.80"/><circle cx="60.2" cy="106.1" r="1.6" fill="#1f77b4" fill-opacity="0.81"/><circle cx="63.0" cy="104.5" r="1.6" fill="#1f77b4" fill-opacity="0.81"/><circle cx="61.9" cy="110.8" r="1.6" fill="#1f77b4" fill-opacity="0.81"/><circle cx="68.5" cy="106.1" r="1.6" fill="#1f77b4" fill-opacity="0.81"/><circle cx="60.4" cy="108.3" r="1.6" fill="#1f77b4" fill-opacity="0.81"/><circle cx="67.3" cy="102.6" r="1.6" fill="#1f77b4" fill-opacity="0.82"/><circle cx="64.7" cy="106.2" r="1.6" fill="#1f77b4" fill-opacity="0.83"/><circle cx="67.0" cy="99.8" r="1.6" fill="#1f77b4" fill-opacity="0.84"/><circle cx="110.9" cy="50.6" r="1.6" fill="#1f77b4" fill-opacity="0.94"/><circle cx="127.8" cy="164.1" r="1.6" fill="#1f77b4"/><circle cx="56.0" cy="113.5" r="1.6" fill="#ff7f0e" fill-opacity="0.75"/><circle cx="49.6" cy="92.0" r="1.6" fill="#ff7f0e" fill-opacity="0.77"/><circle cx="49.7" cy="98.0" r="1.6" fill="#ff7f0e" fill-opacity="0.77"/><circle cx="53.5" cy="103.0" r="1.6" fill="#ff7f0e" fill-opacity="0.77"/><circle cx="52.8" cy="95.8" r="1.6" fill="#ff7f0e" fill-opacity="0.77"/><circle cx="64.0" cy="114.0" r="1.6" fill="#ff7f0e" fill-opacity="0.77"/><circle cx="47.3" cy="91.4" r="1.6" fill="#ff7f0e" fill-opacity="0.77"/><circle cx="44.8" cy="92.7" r="1.6" fill="#ff7f0e" fill-opacity="0.78"/><circle cx="65.5" cy="111.0" r="1.6" fill="#ff7f0e" fill-opacity="0.78"/><circle cx="58.8" cy="97.1" r="1.6" fill="#ff7f0e" fill-opacity="0.79"/><circle cx="60.0" cy="98.8" r="1.6" fill="#ff7f0e" fill-opacity="0.79"/><circle cx="57.4" cy="100.8" r="1.6" fill="#ff7f0e" fill-opacity="0.80"/><circle cx="64.5" cy="99.9" r="1.6" fill="#ff7f0e" fill-opacity="0.80"/><circle cx="49.1" cy="88.0" r="1.6" fill="#ff7f0e" fill-opacity="0.81"/><circle cx="48.9" cy="93.2" r="1.6" fill="#ff7f0e" fill-opacity="0.81"/><circle cx="61.5" cy="97.2" r="1.6" fill="#ff7f0e" fill-opacity="0.82"/><circle cx="51.8" cy="89.0" r="1.6" fill="#ff7f0e" fill-opacity="0.83"/><circle cx="51.3" cy="86.3" r="1.6" fill="#ff7f0e" fill-opacity="0.86"/><rect x="122.1" y="6.5" width="83.2" height="33.6" rx="2.2" fill="#fff" fill-opacity="0.8" stroke="#d6d6d6" stroke-width="0.6"/><circle cx="136.3" cy="15.8" r="1.5" fill="#1f77b4"/><circle cx="136.3" cy="31.1" r="1.5" fill="#ff7f0e"/><text x="177.58" y="18.90" font-size="11.17" textLength="44.84" lengthAdjust="spacingAndGlyphs" text-anchor="middle" fill="#000" stroke="#000" stroke-width="0.15">Negative</text><text x="174.41" y="33.78" font-size="11.17" textLength="38.51" lengthAdjust="spacingAndGlyphs" text-anchor="middle" fill="#000" stroke="#000" stroke-width="0.15">Positive</text></svg><div class="lbl" style="left:7px;top:6.5px">A</div></div>
<div class="panel" style="left:288px;top:15px;width:247px;height:239px"><svg width="247" height="239" viewBox="0 0 247 239" font-family="Liberation Sans, sans-serif"><g transform="translate(-90.00 -29.20) scale(0.81347 0.81361)"><g><g><path d="M 0 345.6  L 460.8 345.6  L 460.8 0  L 0 0  z " style="fill: #ffffff"/> </g> <g><path d="M 103.10 307.58  L 369.21 307.58  L 369.21 41.47  L 103.10 41.47  z " style="fill: #ffffff"/> </g> <g><g><path d="M 123.19 241.96  L 211.07 168.30  L 209.85 62.07  L 117.77 129.27  " style="fill: #f2f2f2; opacity: 0.5; stroke: #f2f2f2; stroke-linejoin: miter"/> </g> </g> <g><g><path d="M 211.07 168.30  L 352.09 209.29  L 357.12 99.40  L 209.85 62.07  " style="fill: #e6e6e6; opacity: 0.5; stroke: #e6e6e6; stroke-linejoin: miter"/> </g> </g> <g><g><path d="M 123.19 241.96  L 272.67 290.79  L 352.09 209.29  L 211.07 168.30  " style="fill: #ececec; opacity: 0.5; stroke: #ececec; stroke-linejoin: miter"/> </g> </g> <g><g><path d="M 147.67 249.96  L 234.24 175.04  L 234.01 68.19  " style="fill: none; stroke: #b0b0b0; stroke-width: 0.8"/> <path d="M 186.30 262.57  L 270.75 185.65  L 272.10 77.85  " style="fill: none; stroke: #b0b0b0; stroke-width: 0.8"/> <path d="M 226.01 275.55  L 308.20 196.53  L 311.22 87.76  " style="fill: none; stroke: #b0b0b0; stroke-width: 0.8"/> <path d="M 266.86 288.89  L 346.63 207.70  L 351.40 97.95  " style="fill: none; stroke: #b0b0b0; stroke-width: 0.8"/> </g> </g> <g><g><path d="M 122.90 125.52  L 128.07 237.87  L 277.10 286.24  " style="fill: none; stroke: #b0b0b0; stroke-width: 0.8"/> <path d="M 137.72 114.71  L 142.18 226.05  L 289.89 273.12  " style="fill: none; stroke: #b0b0b0; stroke-width: 0.8"/> <path d="M 152.13 104.19  L 155.91 214.54  L 302.32 260.36  " style="fill: none; stroke: #b0b0b0; stroke-width: 0.8"/> <path d="M 166.16 93.95  L 169.29 203.32  L 314.42 247.94  " style="fill: none; stroke: #b0b0b0; stroke-width: 0.8"/> <path d="M 179.82 83.98  L 182.34 192.39  L 326.20 235.86  " style="fill: none; stroke: #b0b0b0; stroke-width: 0.8"/> <path d="M 193.12 74.28  L 195.06 181.73  L 337.66 224.09  " style="fill: none; stroke: #b0b0b0; stroke-width: 0.8"/> <path d="M 206.08 64.82  L 207.46 171.33  L 348.83 212.63  " style="fill: none; stroke: #b0b0b0; stroke-width: 0.8"/> </g> </g> <g><g><path d="M 352.63 197.37  L 210.94 156.76  L 122.60 229.76  " style="fill: none; stroke: #b0b0b0; stroke-width: 0.8"/> <path d="M 353.39 180.90  L 210.76 140.82  L 121.79 212.89  " style="fill: none; stroke: #b0b0b0; stroke-width: 0.8"/> <path d="M 354.15 164.21  L 210.57 124.67  L 120.97 195.78  " style="fill: none; stroke: #b0b0b0; stroke-width: 0.8"/> <path d="M 354.92 147.30  L 210.38 108.32  L 120.13 178.44  " style="fill: none; stroke: #b0b0b0; stroke-width: 0.8"/> <path d="M 355.71 130.15  L 210.19 91.75  L 119.29 160.84  " style="fill: none; stroke: #b0b0b0; stroke-width: 0.8"/> <path d="M 356.51 112.77  L 210.00 74.97  L 118.43 143.00  " style="fill: none; stroke: #b0b0b0; stroke-width: 0.8"/> </g> </g> <g><g><path d="M 123.19 241.96  L 272.67 290.79  " style="fill: none; stroke: #000000; stroke-width: 0.8; stroke-linecap: square"/> </g> <g><g><path d="M 148.42 249.30  L 146.15 251.27  " style="fill: none; stroke: #000000; stroke-width: 0.8; stroke-linecap: square"/> </g> </g> <g><g><path d="M 187.03 261.90  L 184.82 263.92  " style="fill: none; stroke: #000000; stroke-width: 0.8; stroke-linecap: square"/> </g> </g> <g><g><path d="M 226.73 274.86  L 224.57 276.93  " style="fill: none; stroke: #000000; stroke-width: 0.8; stroke-linecap: square"/> </g> </g> <g><g><path d="M 267.56 288.18  L 265.46 290.31  " style="fill: none; stroke: #000000; stroke-width: 0.8; stroke-linecap: square"/> </g> </g> </g> <g><g><path d="M 352.09 209.29  L 272.67 290.79  " style="fill: none; stroke: #000000; stroke-width: 0.8; stroke-linecap: square"/> </g> <g><g><path d="M 275.85 285.83  L 279.62 287.06  " style="fill: none; stroke: #000000; stroke-width: 0.8; stroke-linecap: square"/> </g> </g> <g><g><path d="M 288.64 272.72  L 292.38 273.91  " style="fill: none; stroke: #000000; stroke-width: 0.8; stroke-linecap: square"/> </g> </g> <g><g><path d="M 301.09 259.97  L 304.79 261.13  " style="fill: none; stroke: #000000; stroke-width: 0.8; stroke-linecap: square"/> </g> </g> <g><g><path d="M 313.20 247.57  L 316.87 248.69  " style="fill: none; stroke: #000000; stroke-width: 0.8; stroke-linecap: square"/> </g> </g> <g><g><path d="M 324.99 235.49  L 328.62 236.59  " style="fill: none; stroke: #000000; stroke-width: 0.8; stroke-linecap: square"/> </g> </g> <g><g><path d="M 336.47 223.73  L 340.06 224.80  " style="fill: none; stroke: #000000; stroke-width: 0.8; stroke-linecap: square"/> </g> </g> <g><g><path d="M 347.65 212.28  L 351.21 213.32  " style="fill: none; stroke: #000000; stroke-width: 0.8; stroke-linecap: square"/> </g> </g> </g> <g><g><path d="M 352.09 209.29  L 357.12 99.40  " style="fill: none; stroke: #000000; stroke-width: 0.8; stroke-linecap: square"/> </g> <g><g><path d="M 351.44 197.03  L 355.01 198.06  " style="fill: none; stroke: #000000; stroke-width: 0.8; stroke-linecap: square"/> </g> </g> <g><g><path d="M 352.19 180.57  L 355.78 181.58  " style="fill: none; stroke: #000000; stroke-width: 0.8; stroke-linecap: square"/> </g> </g> <g><g><path d="M 352.94 163.88  L 356.56 164.88  " style="fill: none; stroke: #000000; stroke-width: 0.8; stroke-linecap: square"/> </g> </g> <g><g><path d="M 353.71 146.97  L 357.36 147.95  " style="fill: none; stroke: #000000; stroke-width: 0.8; stroke-linecap: square"/> </g> </g> <g><g><path d="M 354.49 129.83  L 358.16 130.80  " style="fill: none; stroke: #000000; stroke-width: 0.8; stroke-linecap: square"/> </g> </g> <g><g><path d="M 355.27 112.45  L 358.97 113.40  " style="fill: none; stroke: #000000; stroke-width: 0.8; stroke-linecap: square"/> </g> </g> </g> <g/> </g> </g><text x="26.38" y="191.15" font-size="11.07" textLength="22.91" lengthAdjust="spacingAndGlyphs" text-anchor="middle" fill="#000" stroke="#000" stroke-width="0.15">−0.5</text><text x="57.80" y="201.42" font-size="11.07" textLength="15.00" lengthAdjust="spacingAndGlyphs" text-anchor="middle" fill="#000" stroke="#000" stroke-width="0.15">0.0</text><text x="90.11" y="211.97" font-size="11.07" textLength="15.00" lengthAdjust="spacingAndGlyphs" text-anchor="middle" fill="#000" stroke="#000" stroke-width="0.15">0.5</text><text x="123.34" y="222.83" font-size="11.07" textLength="15.00" lengthAdjust="spacingAndGlyphs" text-anchor="middle" fill="#000" stroke="#000" stroke-width="0.15">1.0</text><text x="142.22" y="220.27" font-size="11.07" textLength="28.91" lengthAdjust="spacingAndGlyphs" text-anchor="middle" fill="#000" stroke="#000" stroke-width="0.15">−0.50</text><text x="152.62" y="209.60" font-size="11.07" textLength="28.91" lengthAdjust="spacingAndGlyphs" text-anchor="middle" fill="#000" stroke="#000" stroke-width="0.15">−0.25</text><text x="162.73" y="199.22" font-size="11.07" textLength="21.01" lengthAdjust="spacingAndGlyphs" text-anchor="middle" fill="#000" stroke="#000" stroke-width="0.15">0.00</text><text x="172.58" y="189.11" font-size="11.07" textLength="21.01" lengthAdjust="spacingAndGlyphs" text-anchor="middle" fill="#000" stroke="#000" stroke-width="0.15">0.25</text><text x="182.16" y="179.28" font-size="11.07" textLength="21.01" lengthAdjust="spacingAndGlyphs" text-anchor="middle" fill="#000" stroke="#000" stroke-width="0.15">0.50</text><text x="191.49" y="169.71" font-size="11.07" textLength="21.01" lengthAdjust="spacingAndGlyphs" text-anchor="middle" fill="#000" stroke="#000" stroke-width="0.15">0.75</text><text x="200.57" y="160.38" font-size="11.07" textLength="21.01" lengthAdjust="spacingAndGlyphs" text-anchor="middle" fill="#000" stroke="#000" stroke-width="0.15">1.00</text><text x="208.06" y="139.56" font-size="11.07" textLength="28.91" lengthAdjust="spacingAndGlyphs" text-anchor="middle" fill="#000" stroke="#000" stroke-width="0.15">−0.50</text><text x="208.67" y="126.00" font-size="11.07" textLength="28.91" lengthAdjust="spacingAndGlyphs" text-anchor="middle" fill="#000" stroke="#000" stroke-width="0.15">−0.25</text><text x="209.29" y="112.27" font-size="11.07" textLength="21.01" lengthAdjust="spacingAndGlyphs" text-anchor="middle" fill="#000" stroke="#000" stroke-width="0.15">0.00</text><text x="209.93" y="98.35" font-size="11.07" textLength="21.01" lengthAdjust="spacingAndGlyphs" text-anchor="middle" fill="#000" stroke="#000" stroke-width="0.15">0.25</text><text x="210.56" y="84.25" font-size="11.07" textLength="21.01" lengthAdjust="spacingAndGlyphs" text-anchor="middle" fill="#000" stroke="#000" stroke-width="0.15">0.50</text><text x="211.21" y="69.95" font-size="11.07" textLength="21.01" lengthAdjust="spacingAndGlyphs" text-anchor="middle" fill="#000" stroke="#000" stroke-width="0.15">0.75</text><text x="53.16" y="222.60" font-size="11.07" textLength="66.74" lengthAdjust="spacingAndGlyphs" text-anchor="middle" fill="#000" stroke="#000" stroke-width="0.15" transform="rotate(18.1 53.16 222.60)">kPCA Score 1</text><text x="192.94" y="201.97" font-size="11.07" textLength="66.74" lengthAdjust="spacingAndGlyphs" text-anchor="middle" fill="#000" stroke="#000" stroke-width="0.15" transform="rotate(-45.7 192.94 201.97)">kPCA Score 2</text><text x="239.98" y="92.50" font-size="11.07" textLength="66.74" lengthAdjust="spacingAndGlyphs" text-anchor="middle" fill="#000" stroke="#000" stroke-width="0.15" transform="rotate(-90.0 239.98 92.50)">kPCA Score 3</text><circle cx="33.2" cy="137.2" r="1.6" fill="#1f77b4" fill-opacity="0.65"/><circle cx="47.9" cy="140.0" r="1.6" fill="#1f77b4" fill-opacity="0.66"/><circle cx="56.0" cy="156.7" r="1.6" fill="#1f77b4" fill-opacity="0.66"/><circle cx="44.8" cy="140.1" r="1.6" fill="#1f77b4" fill-opacity="0.67"/><circle cx="41.8" cy="148.8" r="1.6" fill="#1f77b4" fill-opacity="0.68"/><circle cx="63.0" cy="153.3" r="1.6" fill="#1f77b4" fill-opacity="0.68"/><circle cx="43.4" cy="146.9" r="1.6" fill="#1f77b4" fill-opacity="0.68"/><circle cx="41.8" cy="144.6" r="1.6" fill="#1f77b4" fill-opacity="0.68"/><circle cx="38.4" cy="134.5" r="1.6" fill="#1f77b4" fill-opacity="0.68"/><circle cx="46.2" cy="141.4" r="1.6" fill="#1f77b4" fill-opacity="0.69"/><circle cx="36.7" cy="125.2" r="1.6" fill="#1f77b4" fill-opacity="0.69"/><circle cx="33.3" cy="127.9" r="1.6" fill="#1f77b4" fill-opacity="0.70"/><circle cx="58.7" cy="162.0" r="1.6" fill="#1f77b4" fill-opacity="0.70"/><circle cx="43.7" cy="137.3" r="1.6" fill="#1f77b4" fill-opacity="0.70"/><circle cx="47.8" cy="145.4" r="1.6" fill="#1f77b4" fill-opacity="0.71"/><circle cx="42.5" cy="140.6" r="1.6" fill="#1f77b4" fill-opacity="0.71"/><circle cx="59.0" cy="139.2" r="1.6" fill="#1f77b4" fill-opacity="0.71"/><circle cx="53.3" cy="142.3" r="1.6" fill="#1f77b4" fill-opacity="0.71"/><circle cx="41.2" cy="122.0" r="1.6" fill="#1f77b4" fill-opacity="0.71"/><circle cx="43.9" cy="139.0" r="1.6" fill="#1f77b4" fill-opacity="0.71"/><circle cx="68.6" cy="159.7" r="1.6" fill="#1f77b4" fill-opacity="0.72"/><circle cx="49.2" cy="124.8" r="1.6" fill="#1f77b4" fill-opacity="0.72"/><circle cx="52.1" cy="140.6" r="1.6" fill="#1f77b4" fill-opacity="0.72"/><circle cx="42.8" cy="118.7" r="1.6" fill="#1f77b4" fill-opacity="0.72"/><circle cx="46.1" cy="127.8" r="1.6" fill="#1f77b4" fill-opacity="0.72"/><circle cx="33.2" cy="118.1" r="1.6" fill="#1f77b4" fill-opacity="0.72"/><circle cx="52.2" cy="133.8" r="1.6" fill="#1f77b4" fill-opacity="0.72"/><circle cx="54.9" cy="133.0" r="1.6" fill="#1f77b4" fill-opacity="0.72"/><circle cx="39.6" cy="95.7" r="1.6" fill="#1f77b4" fill-opacity="0.72"/><circle cx="77.8" cy="164.1" r="1.6" fill="#1f77b4" fill-opacity="0.73"/><circle cx="49.4" cy="131.1" r="1.6" fill="#1f77b4" fill-opacity="0.73"/><circle cx="37.6" cy="111.5" r="1.6" fill="#1f77b4" fill-opacity="0.73"/><circle cx="46.0" cy="126.4" r="1.6" fill="#1f77b4" fill-opacity="0.73"/><circle cx="37.5" cy="135.8" r="1.6" fill="#1f77b4" fill-opacity="0.73"/><circle cx="58.4" cy="136.2" r="1.6" fill="#1f77b4" fill-opacity="0.73"/><circle cx="51.1" cy="126.7" r="1.6" fill="#1f77b4" fill-opacity="0.73"/><circle cx="70.9" cy="158.4" r="1.6" fill="#1f77b4" fill-opacity="0.73"/><circle cx="61.8" cy="138.1" r="1.6" fill="#1f77b4" fill-opacity="0.73"/><circle cx="40.7" cy="114.7" r="1.6" fill="#1f77b4" fill-opacity="0.73"/><circle cx="57.5" cy="162.5" r="1.6" fill="#1f77b4" fill-opacity="0.73"/><circle cx="89.8" cy="164.2" r="1.6" fill="#1f77b4" fill-opacity="0.73"/><circle cx="55.1" cy="140.7" r="1.6" fill="#1f77b4" fill-opacity="0.73"/><circle cx="52.6" cy="123.0" r="1.6" fill="#1f77b4" fill-opacity="0.73"/><circle cx="46.2" cy="145.5" r="1.6" fill="#1f77b4" fill-opacity="0.73"/><circle cx="46.7" cy="126.8" r="1.6" fill="#1f77b4" fill-opacity="0.73"/><circle cx="32.9" cy="126.9" r="1.6" fill="#1f77b4" fill-opacity="0.74"/><circle cx="46.4" cy="140.1" r="1.6" fill="#1f77b4" fill-opacity="0.74"/><circle cx="44.7" cy="130.2" r="1.6" fill="#1f77b4" fill-opacity="0.74"/><circle cx="61.4" cy="147.4" r="1.6" fill="#1f77b4" fill-opacity="0.74"/><circle cx="48.6" cy="126.5" r="1.6" fill="#1f77b4" fill-opacity="0.74"/><circle cx="39.7" cy="130.5" r="1.6" fill="#1f77b4" fill-opacity="0.74"/><circle cx="49.2" cy="131.6" r="1.6" fill="#1f77b4" fill-opacity="0.74"/><circle cx="46.1" cy="119.2" r="1.6" fill="#1f77b4" fill-opacity="0.74"/><circle cx="38.0" cy="131.2" r="1.6" fill="#1f77b4" fill-opacity="0.74"/><circle cx="72.8" cy="110.8" r="1.6" fill="#1f77b4" fill-opacity="0.74"/><circle cx="42.0" cy="133.9" r="1.6" fill="#1f77b4" fill-opacity="0.74"/><circle cx="38.1" cy="131.5" r="1.6" fill="#1f77b4" fill-opacity="0.74"/><circle cx="39.9" cy="125.2" r="1.6" fill="#1f77b4" fill-opacity="0.74"/><circle cx="71.0" cy="145.0" r="1.6" fill="#1f77b4" fill-opacity="0.75"/><circle cx="42.4" cy="130.2" r="1.6" fill="#1f77b4" fill-opacity="0.75"/><circle cx="54.2" cy="135.5" r="1.6" fill="#1f77b4" fill-opacity="0.75"/><circle cx="38.4" cy="130.6" r="1.6" fill="#1f77b4" fill-opacity="0.75"/><circle cx="45.3" cy="129.9" r="1.6" fill="#1f77b4" fill-opacity="0.75"/><circle cx="57.8" cy="128.9" r="1.6" fill="#1f77b4" fill-opacity="0.75"/><circle cx="34.5" cy="124.7" r="1.6" fill="#1f77b4" fill-opacity="0.76"/><circle cx="45.5" cy="137.2" r="1.6" fill="#1f77b4" fill-opacity="0.76"/><circle cx="42.9" cy="125.3" r="1.6" fill="#1f77b4" fill-opacity="0.76"/><circle cx="40.9" cy="124.8" r="1.6" fill="#1f77b4" fill-opacity="0.76"/><circle cx="39.4" cy="134.0" r="1.6" fill="#1f77b4" fill-opacity="0.77"/><circle cx="48.3" cy="121.1" r="1.6" fill="#1f77b4" fill-opacity="0.77"/><circle cx="43.5" cy="124.2" r="1.6" fill="#1f77b4" fill-opacity="0.77"/><circle cx="43.2" cy="121.5" r="1.6" fill="#1f77b4" fill-opacity="0.77"/><circle cx="47.0" cy="129.1" r="1.6" fill="#1f77b4" fill-opacity="0.77"/><circle cx="88.3" cy="162.8" r="1.6" fill="#1f77b4" fill-opacity="0.77"/><circle cx="46.1" cy="131.4" r="1.6" fill="#1f77b4" fill-opacity="0.77"/><circle cx="37.1" cy="119.8" r="1.6" fill="#1f77b4" fill-opacity="0.78"/><circle cx="57.5" cy="87.9" r="1.6" fill="#1f77b4" fill-opacity="0.78"/><circle cx="112.1" cy="149.7" r="1.6" fill="#1f77b4" fill-opacity="0.78"/><circle cx="54.5" cy="116.9" r="1.6" fill="#1f77b4" fill-opacity="0.78"/><circle cx="89.8" cy="117.9" r="1.6" fill="#1f77b4" fill-opacity="0.78"/><circle cx="41.0" cy="144.2" r="1.6" fill="#1f77b4" fill-opacity="0.78"/><circle cx="101.2" cy="148.3" r="1.6" fill="#1f77b4" fill-opacity="0.79"/><circle cx="60.2" cy="131.7" r="1.6" fill="#1f77b4" fill-opacity="0.79"/><circle cx="99.7" cy="134.4" r="1.6" fill="#1f77b4" fill-opacity="0.79"/><circle cx="65.2" cy="129.0" r="1.6" fill="#1f77b4" fill-opacity="0.79"/><circle cx="89.1" cy="118.0" r="1.6" fill="#1f77b4" fill-opacity="0.79"/><circle cx="88.0" cy="140.3" r="1.6" fill="#1f77b4" fill-opacity="0.79"/><circle cx="94.5" cy="146.9" r="1.6" fill="#1f77b4" fill-opacity="0.80"/><circle cx="51.1" cy="122.0" r="1.6" fill="#1f77b4" fill-opacity="0.80"/><circle cx="77.4" cy="125.3" r="1.6" fill="#1f77b4" fill-opacity="0.80"/><circle cx="91.4" cy="127.0" r="1.6" fill="#1f77b4" fill-opacity="0.80"/><circle cx="90.9" cy="139.1" r="1.6" fill="#1f77b4" fill-opacity="0.81"/><circle cx="73.8" cy="139.1" r="1.6" fill="#1f77b4" fill-opacity="0.81"/><circle cx="140.2" cy="166.6" r="1.6" fill="#1f77b4" fill-opacity="0.81"/><circle cx="110.3" cy="131.4" r="1.6" fill="#1f77b4" fill-opacity="0.81"/><circle cx="70.7" cy="110.7" r="1.6" fill="#1f77b4" fill-opacity="0.82"/><circle cx="62.1" cy="111.5" r="1.6" fill="#1f77b4" fill-opacity="0.82"/><circle cx="115.2" cy="140.5" r="1.6" fill="#1f77b4" fill-opacity="0.82"/><circle cx="90.5" cy="123.5" r="1.6" fill="#1f77b4" fill-opacity="0.82"/><circle cx="120.2" cy="146.1" r="1.6" fill="#1f77b4" fill-opacity="0.82"/><circle cx="89.0" cy="139.7" r="1.6" fill="#1f77b4" fill-opacity="0.82"/><circle cx="76.5" cy="103.2" r="1.6" fill="#1f77b4" fill-opacity="0.83"/><circle cx="92.1" cy="123.3" r="1.6" fill="#1f77b4" fill-opacity="0.83"/><circle cx="126.4" cy="171.4" r="1.6" fill="#1f77b4" fill-opacity="0.83"/><circle cx="97.9" cy="124.3" r="1.6" fill="#1f77b4" fill-opacity="0.83"/><circle cx="86.7" cy="85.2" r="1.6" fill="#1f77b4" fill-opacity="0.83"/><circle cx="135.1" cy="154.0" r="1.6" fill="#1f77b4" fill-opacity="0.83"/><circle cx="108.2" cy="135.7" r="1.6" fill="#1f77b4" fill-opacity="0.83"/><circle cx="109.1" cy="158.2" r="1.6" fill="#1f77b4" fill-opacity="0.83"/><circle cx="121.4" cy="121.4" r="1.6" fill="#1f77b4" fill-opacity="0.84"/><circle cx="101.4" cy="142.4" r="1.6" fill="#1f77b4" fill-opacity="0.84"/><circle cx="96.8" cy="129.1" r="1.6" fill="#1f77b4" fill-opacity="0.84"/><circle cx="60.4" cy="86.2" r="1.6" fill="#1f77b4" fill-opacity="0.84"/><circle cx="119.6" cy="120.5" r="1.6" fill="#1f77b4" fill-opacity="0.84"/><circle cx="135.0" cy="170.9" r="1.6" fill="#1f77b4" fill-opacity="0.84"/><circle cx="135.8" cy="165.7" r="1.6" fill="#1f77b4" fill-opacity="0.85"/><circle cx="46.1" cy="95.9" r="1.6" fill="#1f77b4" fill-opacity="0.86"/><circle cx="138.7" cy="157.7" r="1.6" fill="#1f77b4" fill-opacity="0.86"/><circle cx="88.3" cy="163.3" r="1.6" fill="#1f77b4" fill-opacity="0.86"/><circle cx="116.0" cy="136.7" r="1.6" fill="#1f77b4" fill-opacity="0.86"/><circle cx="91.9" cy="123.5" r="1.6" fill="#1f77b4" fill-opacity="0.87"/><circle cx="83.7" cy="111.2" r="1.6" fill="#1f77b4" fill-opacity="0.87"/><circle cx="136.6" cy="119.7" r="1.6" fill="#1f77b4" fill-opacity="0.87"/><circle cx="130.7" cy="164.4" r="1.6" fill="#1f77b4" fill-opacity="0.87"/><circle cx="100.0" cy="118.2" r="1.6" fill="#1f77b4" fill-opacity="0.88"/><circle cx="107.3" cy="141.6" r="1.6" fill="#1f77b4" fill-opacity="0.89"/><circle cx="94.8" cy="90.4" r="1.6" fill="#1f77b4" fill-opacity="0.89"/><circle cx="107.7" cy="80.9" r="1.6" fill="#1f77b4" fill-opacity="0.89"/><circle cx="106.6" cy="112.0" r="1.6" fill="#1f77b4" fill-opacity="0.89"/><circle cx="117.5" cy="129.3" r="1.6" fill="#1f77b4" fill-opacity="0.90"/><circle cx="68.8" cy="81.0" r="1.6" fill="#1f77b4" fill-opacity="0.90"/><circle cx="123.5" cy="131.2" r="1.6" fill="#1f77b4" fill-opacity="0.90"/><circle cx="69.0" cy="86.2" r="1.6" fill="#1f77b4" fill-opacity="0.91"/><circle cx="136.7" cy="123.2" r="1.6" fill="#1f77b4" fill-opacity="0.91"/><circle cx="89.1" cy="118.2" r="1.6" fill="#1f77b4" fill-opacity="0.92"/><circle cx="136.4" cy="123.0" r="1.6" fill="#1f77b4" fill-opacity="0.92"/><circle cx="136.4" cy="147.3" r="1.6" fill="#1f77b4" fill-opacity="0.93"/><circle cx="121.0" cy="122.0" r="1.6" fill="#1f77b4" fill-opacity="0.93"/><circle cx="113.2" cy="90.5" r="1.6" fill="#1f77b4" fill-opacity="0.94"/><circle cx="115.4" cy="95.8" r="1.6" fill="#1f77b4" fill-opacity="0.95"/><circle cx="129.0" cy="95.3" r="1.6" fill="#1f77b4" fill-opacity="0.95"/><circle cx="128.5" cy="127.3" r="1.6" fill="#1f77b4" fill-opacity="0.95"/><circle cx="132.1" cy="109.3" r="1.6" fill="#1f77b4" fill-opacity="0.97"/><circle cx="145.3" cy="103.1" r="1.6" fill="#1f77b4"/><circle cx="118.2" cy="105.9" r="1.6" fill="#1f77b4" fill-opacity="0.45"/><circle cx="126.1" cy="108.3" r="1.6" fill="#1f77b4" fill-opacity="0.45"/><circle cx="104.0" cy="97.1" r="1.6" fill="#1f77b4" fill-opacity="0.45"/><circle cx="107.8" cy="92.9" r="1.6" fill="#1f77b4" fill-opacity="0.45"/><circle cx="110.4" cy="102.0" r="1.6" fill="#1f77b4" fill-opacity="0.45"/><circle cx="122.6" cy="80.2" r="1.6" fill="#1f77b4" fill-opacity="0.45"/><circle cx="101.1" cy="102.1" r="1.6" fill="#ff7f0e" fill-opacity="0.40"/><circle cx="99.8" cy="102.6" r="1.6" fill="#ff7f0e" fill-opacity="0.40"/><circle cx="108.7" cy="102.4" r="1.6" fill="#ff7f0e" fill-opacity="0.40"/><circle cx="105.4" cy="98.3" r="1.6" fill="#ff7f0e" fill-opacity="0.40"/><circle cx="105.7" cy="101.7" r="1.6" fill="#ff7f0e" fill-opacity="0.40"/><circle cx="94.9" cy="95.3" r="1.6" fill="#ff7f0e" fill-opacity="0.40"/><circle cx="100.2" cy="92.1" r="1.6" fill="#ff7f0e" fill-opacity="0.40"/><circle cx="109.3" cy="101.1" r="1.6" fill="#ff7f0e" fill-opacity="0.40"/><circle cx="106.8" cy="106.9" r="1.6" fill="#ff7f0e" fill-opacity="0.40"/><circle cx="102.1" cy="95.5" r="1.6" fill="#ff7f0e" fill-opacity="0.40"/><circle cx="114.2" cy="99.1" r="1.6" fill="#ff7f0e" fill-opacity="0.40"/><circle cx="106.8" cy="95.3" r="1.6" fill="#ff7f0e" fill-opacity="0.40"/><circle cx="102.8" cy="95.0" r="1.6" fill="#ff7f0e" fill-opacity="0.40"/><circle cx="104.6" cy="91.8" r="1.6" fill="#ff7f0e" fill-opacity="0.40"/><circle cx="104.6" cy="94.6" r="1.6" fill="#ff7f0e" fill-opacity="0.40"/><circle cx="115.8" cy="101.8" r="1.6" fill="#ff7f0e" fill-opacity="0.40"/><circle cx="95.6" cy="90.9" r="1.6" fill="#ff7f0e" fill-opacity="0.40"/><circle cx="104.3" cy="95.3" r="1.6" fill="#ff7f0e" fill-opacity="0.40"/><circle cx="108.9" cy="98.5" r="1.6" fill="#ff7f0e" fill-opacity="0.40"/><circle cx="104.2" cy="100.4" r="1.6" fill="#ff7f0e" fill-opacity="0.40"/><circle cx="111.1" cy="96.7" r="1.6" fill="#ff7f0e" fill-opacity="0.40"/><circle cx="114.9" cy="101.4" r="1.6" fill="#ff7f0e" fill-opacity="0.40"/><circle cx="110.2" cy="88.2" r="1.6" fill="#ff7f0e" fill-opacity="0.40"/><circle cx="120.5" cy="93.9" r="1.6" fill="#ff7f0e" fill-opacity="0.40"/><circle cx="126.0" cy="96.6" r="1.6" fill="#ff7f0e" fill-opacity="0.40"/><circle cx="99.3" cy="90.0" r="1.6" fill="#ff7f0e" fill-opacity="0.40"/><circle cx="110.8" cy="97.2" r="1.6" fill="#ff7f0e" fill-opacity="0.40"/><circle cx="113.3" cy="91.3" r="1.6" fill="#ff7f0e" fill-opacity="0.40"/><circle cx="114.4" cy="87.2" r="1.6" fill="#ff7f0e" fill-opacity="0.40"/><circle cx="112.2" cy="92.0" r="1.6" fill="#ff7f0e" fill-opacity="0.40"/><circle cx="130.9" cy="86.8" r="1.6" fill="#ff7f0e" fill-opacity="0.40"/><circle cx="139.9" cy="83.8" r="1.6" fill="#ff7f0e" fill-opacity="0.40"/><circle cx="142.2" cy="86.6" r="1.6" fill="#ff7f0e" fill-opacity="0.40"/><circle cx="63.9" cy="164.4" r="1.6" fill="#ff7f0e" fill-opacity="0.68"/><circle cx="63.4" cy="164.3" r="1.6" fill="#ff7f0e" fill-opacity="0.68"/><circle cx="66.5" cy="153.2" r="1.6" fill="#ff7f0e" fill-opacity="0.69"/><circle cx="30.7" cy="123.2" r="1.6" fill="#ff7f0e" fill-opacity="0.70"/><circle cx="49.0" cy="152.9" r="1.6" fill="#ff7f0e" fill-opacity="0.70"/><circle cx="32.8" cy="119.0" r="1.6" fill="#ff7f0e" fill-opacity="0.70"/><circle cx="46.3" cy="127.8" r="1.6" fill="#ff7f0e" fill-opacity="0.70"/><circle cx="48.0" cy="122.3" r="1.6" fill="#ff7f0e" fill-opacity="0.70"/><circle cx="33.9" cy="138.7" r="1.6" fill="#ff7f0e" fill-opacity="0.70"/><circle cx="51.8" cy="125.9" r="1.6" fill="#ff7f0e" fill-opacity="0.70"/><circle cx="38.6" cy="114.8" r="1.6" fill="#ff7f0e" fill-opacity="0.71"/><circle cx="43.0" cy="118.5" r="1.6" fill="#ff7f0e" fill-opacity="0.71"/><circle cx="38.5" cy="145.1" r="1.6" fill="#ff7f0e" fill-opacity="0.71"/><circle cx="42.2" cy="134.4" r="1.6" fill="#ff7f0e" fill-opacity="0.71"/><circle cx="47.5" cy="125.9" r="1.6" fill="#ff7f0e" fill-opacity="0.71"/><circle cx="45.9" cy="116.9" r="1.6" fill="#ff7f0e" fill-opacity="0.71"/><circle cx="34.5" cy="135.4" r="1.6" fill="#ff7f0e" fill-opacity="0.72"/><circle cx="47.8" cy="129.7" r="1.6" fill="#ff7f0e" fill-opacity="0.72"/><circle cx="40.6" cy="120.5" r="1.6" fill="#ff7f0e" fill-opacity="0.72"/><circle cx="50.0" cy="114.2" r="1.6" fill="#ff7f0e" fill-opacity="0.72"/><circle cx="26.8" cy="111.3" r="1.6" fill="#ff7f0e" fill-opacity="0.72"/><circle cx="37.0" cy="124.6" r="1.6" fill="#ff7f0e" fill-opacity="0.72"/><circle cx="50.9" cy="122.6" r="1.6" fill="#ff7f0e" fill-opacity="0.72"/><circle cx="35.7" cy="123.4" r="1.6" fill="#ff7f0e" fill-opacity="0.72"/><circle cx="65.6" cy="140.3" r="1.6" fill="#ff7f0e" fill-opacity="0.72"/><circle cx="53.1" cy="120.1" r="1.6" fill="#ff7f0e" fill-opacity="0.72"/><circle cx="41.9" cy="116.7" r="1.6" fill="#ff7f0e" fill-opacity="0.72"/><circle cx="39.4" cy="113.5" r="1.6" fill="#ff7f0e" fill-opacity="0.72"/><circle cx="45.7" cy="127.1" r="1.6" fill="#ff7f0e" fill-opacity="0.72"/><circle cx="48.5" cy="116.6" r="1.6" fill="#ff7f0e" fill-opacity="0.72"/><circle cx="45.5" cy="125.9" r="1.6" fill="#ff7f0e" fill-opacity="0.72"/><circle cx="42.9" cy="126.5" r="1.6" fill="#ff7f0e" fill-opacity="0.72"/><circle cx="37.5" cy="108.6" r="1.6" fill="#ff7f0e" fill-opacity="0.72"/><circle cx="46.3" cy="127.9" r="1.6" fill="#ff7f0e" fill-opacity="0.72"/><circle cx="30.7" cy="126.5" r="1.6" fill="#ff7f0e" fill-opacity="0.72"/><circle cx="102.0" cy="165.0" r="1.6" fill="#ff7f0e" fill-opacity="0.72"/><circle cx="33.6" cy="118.5" r="1.6" fill="#ff7f0e" fill-opacity="0.73"/><circle cx="37.2" cy="124.4" r="1.6" fill="#ff7f0e" fill-opacity="0.73"/><circle cx="44.5" cy="117.6" r="1.6" fill="#ff7f0e" fill-opacity="0.73"/><circle cx="44.1" cy="124.1" r="1.6" fill="#ff7f0e" fill-opacity="0.73"/><circle cx="48.0" cy="112.4" r="1.6" fill="#ff7f0e" fill-opacity="0.73"/><circle cx="82.3" cy="151.3" r="1.6" fill="#ff7f0e" fill-opacity="0.73"/><circle cx="48.1" cy="89.9" r="1.6" fill="#ff7f0e" fill-opacity="0.73"/><circle cx="43.0" cy="115.9" r="1.6" fill="#ff7f0e" fill-opacity="0.73"/><circle cx="44.2" cy="115.8" r="1.6" fill="#ff7f0e" fill-opacity="0.73"/><circle cx="47.1" cy="113.7" r="1.6" fill="#ff7f0e" fill-opacity="0.73"/><circle cx="64.5" cy="138.0" r="1.6" fill="#ff7f0e" fill-opacity="0.73"/><circle cx="43.8" cy="108.4" r="1.6" fill="#ff7f0e" fill-opacity="0.73"/><circle cx="46.8" cy="127.9" r="1.6" fill="#ff7f0e" fill-opacity="0.73"/><circle cx="52.3" cy="119.8" r="1.6" fill="#ff7f0e" fill-opacity="0.73"/><circle cx="45.6" cy="123.8" r="1.6" fill="#ff7f0e" fill-opacity="0.73"/><circle cx="80.5" cy="159.4" r="1.6" fill="#ff7f0e" fill-opacity="0.74"/><circle cx="38.4" cy="107.3" r="1.6" fill="#ff7f0e" fill-opacity="0.74"/><circle cx="43.1" cy="119.0" r="1.6" fill="#ff7f0e" fill-opacity="0.74"/><circle cx="40.3" cy="111.6" r="1.6" fill="#ff7f0e" fill-opacity="0.74"/><circle cx="80.8" cy="139.4" r="1.6" fill="#ff7f0e" fill-opacity="0.74"/><circle cx="94.0" cy="161.1" r="1.6" fill="#ff7f0e" fill-opacity="0.74"/><circle cx="53.0" cy="116.5" r="1.6" fill="#ff7f0e" fill-opacity="0.74"/><circle cx="43.3" cy="118.3" r="1.6" fill="#ff7f0e" fill-opacity="0.74"/><circle cx="79.3" cy="153.4" r="1.6" fill="#ff7f0e" fill-opacity="0.74"/><circle cx="43.3" cy="123.0" r="1.6" fill="#ff7f0e" fill-opacity="0.74"/><circle cx="81.4" cy="132.8" r="1.6" fill="#ff7f0e" fill-opacity="0.74"/><circle cx="51.4" cy="86.5" r="1.6" fill="#ff7f0e" fill-opacity="0.74"/><circle cx="39.0" cy="109.3" r="1.6" fill="#ff7f0e" fill-opacity="0.74"/><circle cx="89.0" cy="141.5" r="1.6" fill="#ff7f0e" fill-opacity="0.75"/><circle cx="90.0" cy="109.5" r="1.6" fill="#ff7f0e" fill-opacity="0.75"/><circle cx="40.0" cy="107.2" r="1.6" fill="#ff7f0e" fill-opacity="0.75"/><circle cx="44.3" cy="120.3" r="1.6" fill="#ff7f0e" fill-opacity="0.75"/><circle cx="35.5" cy="114.2" r="1.6" fill="#ff7f0e" fill-opacity="0.75"/><circle cx="84.3" cy="141.7" r="1.6" fill="#ff7f0e" fill-opacity="0.75"/><circle cx="46.6" cy="112.6" r="1.6" fill="#ff7f0e" fill-opacity="0.75"/><circle cx="48.7" cy="141.7" r="1.6" fill="#ff7f0e" fill-opacity="0.75"/><circle cx="74.9" cy="161.2" r="1.6" fill="#ff7f0e" fill-opacity="0.75"/><circle cx="82.6" cy="142.1" r="1.6" fill="#ff7f0e" fill-opacity="0.75"/><circle cx="79.3" cy="138.8" r="1.6" fill="#ff7f0e" fill-opacity="0.75"/><circle cx="34.5" cy="119.9" r="1.6" fill="#ff7f0e" fill-opacity="0.75"/><circle cx="40.3" cy="114.8" r="1.6" fill="#ff7f0e" fill-opacity="0.75"/><circle cx="48.7" cy="96.8" r="1.6" fill="#ff7f0e" fill-opacity="0.75"/><circle cx="39.6" cy="121.8" r="1.6" fill="#ff7f0e" fill-opacity="0.75"/><circle cx="57.5" cy="117.3" r="1.6" fill="#ff7f0e" fill-opacity="0.75"/><circle cx="49.3" cy="114.3" r="1.6" fill="#ff7f0e" fill-opacity="0.75"/><circle cx="85.1" cy="137.2" r="1.6" fill="#ff7f0e" fill-opacity="0.75"/><circle cx="48.7" cy="119.2" r="1.6" fill="#ff7f0e" fill-opacity="0.75"/><circle cx="46.6" cy="117.4" r="1.6" fill="#ff7f0e" fill-opacity="0.75"/><circle cx="78.1" cy="146.2" r="1.6" fill="#ff7f0e" fill-opacity="0.75"/><circle cx="68.2" cy="145.0" r="1.6" fill="#ff7f0e" fill-opacity="0.75"/><circle cx="79.5" cy="145.5" r="1.6" fill="#ff7f0e" fill-opacity="0.75"/><circle cx="66.0" cy="91.8" r="1.6" fill="#ff7f0e" fill-opacity="0.75"/><circle cx="70.2" cy="144.0" r="1.6" fill="#ff7f0e" fill-opacity="0.76"/><circle cx="49.5" cy="111.8" r="1.6" fill="#ff7f0e" fill-opacity="0.76"/><circle cx="47.1" cy="109.9" r="1.6" fill="#ff7f0e" fill-opacity="0.76"/><circle cx="44.3" cy="111.0" r="1.6" fill="#ff7f0e" fill-opacity="0.76"/><circle cx="87.4" cy="135.9" r="1.6" fill="#ff7f0e" fill-opacity="0.76"/><circle cx="102.9" cy="169.8" r="1.6" fill="#ff7f0e" fill-opacity="0.76"/><circle cx="49.1" cy="118.1" r="1.6" fill="#ff7f0e" fill-opacity="0.76"/><circle cx="54.5" cy="105.3" r="1.6" fill="#ff7f0e" fill-opacity="0.76"/><circle cx="49.6" cy="104.5" r="1.6" fill="#ff7f0e" fill-opacity="0.76"/><circle cx="54.7" cy="120.2" r="1.6" fill="#ff7f0e" fill-opacity="0.76"/><circle cx="37.8" cy="116.4" r="1.6" fill="#ff7f0e" fill-opacity="0.76"/><circle cx="45.1" cy="109.4" r="1.6" fill="#ff7f0e" fill-opacity="0.76"/><circle cx="49.4" cy="119.6" r="1.6" fill="#ff7f0e" fill-opacity="0.76"/><circle cx="43.0" cy="115.8" r="1.6" fill="#ff7f0e" fill-opacity="0.76"/><circle cx="86.9" cy="149.2" r="1.6" fill="#ff7f0e" fill-opacity="0.76"/><circle cx="98.0" cy="155.2" r="1.6" fill="#ff7f0e" fill-opacity="0.76"/><circle cx="100.6" cy="144.1" r="1.6" fill="#ff7f0e" fill-opacity="0.76"/><circle cx="37.4" cy="108.0" r="1.6" fill="#ff7f0e" fill-opacity="0.77"/><circle cx="54.7" cy="102.7" r="1.6" fill="#ff7f0e" fill-opacity="0.77"/><circle cx="49.6" cy="93.6" r="1.6" fill="#ff7f0e" fill-opacity="0.77"/><circle cx="87.1" cy="136.8" r="1.6" fill="#ff7f0e" fill-opacity="0.77"/><circle cx="99.5" cy="140.8" r="1.6" fill="#ff7f0e" fill-opacity="0.77"/><circle cx="102.8" cy="145.0" r="1.6" fill="#ff7f0e" fill-opacity="0.77"/><circle cx="74.1" cy="131.8" r="1.6" fill="#ff7f0e" fill-opacity="0.77"/><circle cx="41.8" cy="97.8" r="1.6" fill="#ff7f0e" fill-opacity="0.77"/><circle cx="51.4" cy="89.2" r="1.6" fill="#ff7f0e" fill-opacity="0.77"/><circle cx="85.5" cy="146.6" r="1.6" fill="#ff7f0e" fill-opacity="0.77"/><circle cx="41.9" cy="99.9" r="1.6" fill="#ff7f0e" fill-opacity="0.77"/><circle cx="92.2" cy="152.6" r="1.6" fill="#ff7f0e" fill-opacity="0.77"/><circle cx="55.6" cy="115.1" r="1.6" fill="#ff7f0e" fill-opacity="0.78"/><circle cx="81.7" cy="126.8" r="1.6" fill="#ff7f0e" fill-opacity="0.78"/><circle cx="94.5" cy="124.0" r="1.6" fill="#ff7f0e" fill-opacity="0.78"/><circle cx="116.0" cy="156.9" r="1.6" fill="#ff7f0e" fill-opacity="0.78"/><circle cx="113.8" cy="141.1" r="1.6" fill="#ff7f0e" fill-opacity="0.78"/><circle cx="76.4" cy="110.9" r="1.6" fill="#ff7f0e" fill-opacity="0.78"/><circle cx="52.9" cy="107.4" r="1.6" fill="#ff7f0e" fill-opacity="0.78"/><circle cx="73.5" cy="96.5" r="1.6" fill="#ff7f0e" fill-opacity="0.78"/><circle cx="102.0" cy="146.0" r="1.6" fill="#ff7f0e" fill-opacity="0.78"/><circle cx="70.3" cy="154.6" r="1.6" fill="#ff7f0e" fill-opacity="0.78"/><circle cx="81.6" cy="103.5" r="1.6" fill="#ff7f0e" fill-opacity="0.78"/><circle cx="83.1" cy="157.0" r="1.6" fill="#ff7f0e" fill-opacity="0.78"/><circle cx="61.4" cy="89.5" r="1.6" fill="#ff7f0e" fill-opacity="0.78"/><circle cx="126.5" cy="162.3" r="1.6" fill="#ff7f0e" fill-opacity="0.78"/><circle cx="106.6" cy="137.7" r="1.6" fill="#ff7f0e" fill-opacity="0.78"/><circle cx="57.6" cy="91.7" r="1.6" fill="#ff7f0e" fill-opacity="0.79"/><circle cx="115.1" cy="140.9" r="1.6" fill="#ff7f0e" fill-opacity="0.79"/><circle cx="95.9" cy="144.7" r="1.6" fill="#ff7f0e" fill-opacity="0.79"/><circle cx="124.2" cy="149.1" r="1.6" fill="#ff7f0e" fill-opacity="0.79"/><circle cx="66.2" cy="101.3" r="1.6" fill="#ff7f0e" fill-opacity="0.79"/><circle cx="97.8" cy="126.6" r="1.6" fill="#ff7f0e" fill-opacity="0.79"/><circle cx="103.7" cy="151.4" r="1.6" fill="#ff7f0e" fill-opacity="0.79"/><circle cx="89.5" cy="162.1" r="1.6" fill="#ff7f0e" fill-opacity="0.79"/><circle cx="81.8" cy="110.4" r="1.6" fill="#ff7f0e" fill-opacity="0.79"/><circle cx="77.9" cy="134.5" r="1.6" fill="#ff7f0e" fill-opacity="0.79"/><circle cx="72.2" cy="117.4" r="1.6" fill="#ff7f0e" fill-opacity="0.79"/><circle cx="85.3" cy="110.4" r="1.6" fill="#ff7f0e" fill-opacity="0.79"/><circle cx="90.8" cy="151.0" r="1.6" fill="#ff7f0e" fill-opacity="0.80"/><circle cx="104.8" cy="113.4" r="1.6" fill="#ff7f0e" fill-opacity="0.80"/><circle cx="89.6" cy="137.0" r="1.6" fill="#ff7f0e" fill-opacity="0.80"/><circle cx="74.3" cy="127.7" r="1.6" fill="#ff7f0e" fill-opacity="0.80"/><circle cx="57.3" cy="83.9" r="1.6" fill="#ff7f0e" fill-opacity="0.80"/><circle cx="87.6" cy="125.9" r="1.6" fill="#ff7f0e" fill-opacity="0.80"/><circle cx="75.0" cy="130.0" r="1.6" fill="#ff7f0e" fill-opacity="0.80"/><circle cx="91.4" cy="147.5" r="1.6" fill="#ff7f0e" fill-opacity="0.80"/><circle cx="101.2" cy="121.3" r="1.6" fill="#ff7f0e" fill-opacity="0.80"/><circle cx="70.1" cy="92.7" r="1.6" fill="#ff7f0e" fill-opacity="0.80"/><circle cx="114.4" cy="165.7" r="1.6" fill="#ff7f0e" fill-opacity="0.80"/><circle cx="70.5" cy="104.4" r="1.6" fill="#ff7f0e" fill-opacity="0.80"/><circle cx="93.9" cy="147.8" r="1.6" fill="#ff7f0e" fill-opacity="0.80"/><circle cx="107.6" cy="126.0" r="1.6" fill="#ff7f0e" fill-opacity="0.80"/><circle cx="94.1" cy="134.4" r="1.6" fill="#ff7f0e" fill-opacity="0.80"/><circle cx="96.2" cy="140.6" r="1.6" fill="#ff7f0e" fill-opacity="0.81"/><circle cx="95.7" cy="117.8" r="1.6" fill="#ff7f0e" fill-opacity="0.81"/><circle cx="99.1" cy="150.3" r="1.6" fill="#ff7f0e" fill-opacity="0.81"/><circle cx="104.5" cy="144.6" r="1.6" fill="#ff7f0e" fill-opacity="0.81"/><circle cx="110.6" cy="112.9" r="1.6" fill="#ff7f0e" fill-opacity="0.81"/><circle cx="122.5" cy="155.8" r="1.6" fill="#ff7f0e" fill-opacity="0.81"/><circle cx="111.9" cy="127.4" r="1.6" fill="#ff7f0e" fill-opacity="0.81"/><circle cx="88.5" cy="113.8" r="1.6" fill="#ff7f0e" fill-opacity="0.81"/><circle cx="63.8" cy="82.6" r="1.6" fill="#ff7f0e" fill-opacity="0.81"/><circle cx="54.8" cy="100.3" r="1.6" fill="#ff7f0e" fill-opacity="0.81"/><circle cx="70.1" cy="125.0" r="1.6" fill="#ff7f0e" fill-opacity="0.81"/><circle cx="115.4" cy="159.7" r="1.6" fill="#ff7f0e" fill-opacity="0.81"/><circle cx="112.8" cy="113.3" r="1.6" fill="#ff7f0e" fill-opacity="0.81"/><circle cx="74.1" cy="153.2" r="1.6" fill="#ff7f0e" fill-opacity="0.81"/><circle cx="45.5" cy="99.0" r="1.6" fill="#ff7f0e" fill-opacity="0.81"/><circle cx="104.4" cy="143.8" r="1.6" fill="#ff7f0e" fill-opacity="0.81"/><circle cx="88.2" cy="114.6" r="1.6" fill="#ff7f0e" fill-opacity="0.81"/><circle cx="114.7" cy="122.4" r="1.6" fill="#ff7f0e" fill-opacity="0.82"/><circle cx="135.1" cy="152.4" r="1.6" fill="#ff7f0e" fill-opacity="0.82"/><circle cx="113.1" cy="147.6" r="1.6" fill="#ff7f0e" fill-opacity="0.82"/><circle cx="124.9" cy="140.3" r="1.6" fill="#ff7f0e" fill-opacity="0.82"/><circle cx="107.2" cy="162.1" r="1.6" fill="#ff7f0e" fill-opacity="0.82"/><circle cx="120.4" cy="154.1" r="1.6" fill="#ff7f0e" fill-opacity="0.82"/><circle cx="115.7" cy="141.9" r="1.6" fill="#ff7f0e" fill-opacity="0.82"/><circle cx="98.7" cy="151.3" r="1.6" fill="#ff7f0e" fill-opacity="0.82"/><circle cx="120.6" cy="148.5" r="1.6" fill="#ff7f0e" fill-opacity="0.82"/><circle cx="132.0" cy="121.8" r="1.6" fill="#ff7f0e" fill-opacity="0.82"/><circle cx="97.1" cy="115.7" r="1.6" fill="#ff7f0e" fill-opacity="0.82"/><circle cx="123.1" cy="155.1" r="1.6" fill="#ff7f0e" fill-opacity="0.82"/><circle cx="114.1" cy="151.9" r="1.6" fill="#ff7f0e" fill-opacity="0.82"/><circle cx="99.4" cy="110.5" r="1.6" fill="#ff7f0e" fill-opacity="0.82"/><circle cx="91.9" cy="135.4" r="1.6" fill="#ff7f0e" fill-opacity="0.82"/><circle cx="43.8" cy="93.2" r="1.6" fill="#ff7f0e" fill-opacity="0.82"/><circle cx="99.9" cy="135.2" r="1.6" fill="#ff7f0e" fill-opacity="0.82"/><circle cx="119.5" cy="148.4" r="1.6" fill="#ff7f0e" fill-opacity="0.82"/><circle cx="116.5" cy="154.4" r="1.6" fill="#ff7f0e" fill-opacity="0.83"/><circle cx="93.8" cy="126.8" r="1.6" fill="#ff7f0e" fill-opacity="0.83"/><circle cx="110.9" cy="87.0" r="1.6" fill="#ff7f0e" fill-opacity="0.83"/><circle cx="127.2" cy="164.1" r="1.6" fill="#ff7f0e" fill-opacity="0.83"/><circle cx="110.9" cy="169.0" r="1.6" fill="#ff7f0e" fill-opacity="0.83"/><circle cx="98.2" cy="123.2" r="1.6" fill="#ff7f0e" fill-opacity="0.83"/><circle cx="135.9" cy="142.9" r="1.6" fill="#ff7f0e" fill-opacity="0.83"/><circle cx="152.6" cy="108.0" r="1.6" fill="#ff7f0e" fill-opacity="0.83"/><circle cx="129.4" cy="136.2" r="1.6" fill="#ff7f0e" fill-opacity="0.83"/><circle cx="131.3" cy="148.3" r="1.6" fill="#ff7f0e" fill-opacity="0.83"/><circle cx="104.2" cy="140.6" r="1.6" fill="#ff7f0e" fill-opacity="0.83"/><circle cx="123.0" cy="149.9" r="1.6" fill="#ff7f0e" fill-opacity="0.83"/><circle cx="126.4" cy="156.9" r="1.6" fill="#ff7f0e" fill-opacity="0.83"/><circle cx="126.6" cy="163.1" r="1.6" fill="#ff7f0e" fill-opacity="0.83"/><circle cx="126.1" cy="147.0" r="1.6" fill="#ff7f0e" fill-opacity="0.83"/><circle cx="117.2" cy="138.8" r="1.6" fill="#ff7f0e" fill-opacity="0.83"/><circle cx="124.5" cy="155.7" r="1.6" fill="#ff7f0e" fill-opacity="0.83"/><circle cx="132.7" cy="155.8" r="1.6" fill="#ff7f0e" fill-opacity="0.83"/><circle cx="114.4" cy="145.4" r="1.6" fill="#ff7f0e" fill-opacity="0.83"/><circle cx="117.6" cy="82.3" r="1.6" fill="#ff7f0e" fill-opacity="0.83"/><circle cx="115.4" cy="149.1" r="1.6" fill="#ff7f0e" fill-opacity="0.83"/><circle cx="119.7" cy="150.4" r="1.6" fill="#ff7f0e" fill-opacity="0.83"/><circle cx="118.4" cy="117.3" r="1.6" fill="#ff7f0e" fill-opacity="0.83"/><circle cx="114.1" cy="129.5" r="1.6" fill="#ff7f0e" fill-opacity="0.83"/><circle cx="92.1" cy="84.2" r="1.6" fill="#ff7f0e" fill-opacity="0.83"/><circle cx="78.2" cy="87.3" r="1.6" fill="#ff7f0e" fill-opacity="0.83"/><circle cx="102.9" cy="128.9" r="1.6" fill="#ff7f0e" fill-opacity="0.84"/><circle cx="105.1" cy="139.8" r="1.6" fill="#ff7f0e" fill-opacity="0.84"/><circle cx="123.5" cy="140.0" r="1.6" fill="#ff7f0e" fill-opacity="0.84"/><circle cx="142.4" cy="117.2" r="1.6" fill="#ff7f0e" fill-opacity="0.84"/><circle cx="126.1" cy="150.1" r="1.6" fill="#ff7f0e" fill-opacity="0.84"/><circle cx="89.4" cy="131.6" r="1.6" fill="#ff7f0e" fill-opacity="0.84"/><circle cx="112.7" cy="148.0" r="1.6" fill="#ff7f0e" fill-opacity="0.84"/><circle cx="127.0" cy="149.4" r="1.6" fill="#ff7f0e" fill-opacity="0.84"/><circle cx="120.8" cy="143.2" r="1.6" fill="#ff7f0e" fill-opacity="0.84"/><circle cx="129.0" cy="148.5" r="1.6" fill="#ff7f0e" fill-opacity="0.84"/><circle cx="95.4" cy="104.9" r="1.6" fill="#ff7f0e" fill-opacity="0.84"/><circle cx="107.2" cy="84.3" r="1.6" fill="#ff7f0e" fill-opacity="0.84"/><circle cx="88.4" cy="142.0" r="1.6" fill="#ff7f0e" fill-opacity="0.84"/><circle cx="118.3" cy="132.8" r="1.6" fill="#ff7f0e" fill-opacity="0.84"/><circle cx="123.6" cy="137.6" r="1.6" fill="#ff7f0e" fill-opacity="0.84"/><circle cx="136.5" cy="151.8" r="1.6" fill="#ff7f0e" fill-opacity="0.84"/><circle cx="114.9" cy="150.0" r="1.6" fill="#ff7f0e" fill-opacity="0.85"/><circle cx="127.8" cy="149.8" r="1.6" fill="#ff7f0e" fill-opacity="0.85"/><circle cx="126.8" cy="135.4" r="1.6" fill="#ff7f0e" fill-opacity="0.85"/><circle cx="125.3" cy="118.1" r="1.6" fill="#ff7f0e" fill-opacity="0.85"/><circle cx="128.2" cy="138.3" r="1.6" fill="#ff7f0e" fill-opacity="0.85"/><circle cx="83.2" cy="107.5" r="1.6" fill="#ff7f0e" fill-opacity="0.85"/><circle cx="106.1" cy="137.3" r="1.6" fill="#ff7f0e" fill-opacity="0.85"/><circle cx="118.9" cy="135.8" r="1.6" fill="#ff7f0e" fill-opacity="0.85"/><circle cx="124.3" cy="142.7" r="1.6" fill="#ff7f0e" fill-opacity="0.85"/><circle cx="111.8" cy="145.0" r="1.6" fill="#ff7f0e" fill-opacity="0.85"/><circle cx="86.7" cy="82.7" r="1.6" fill="#ff7f0e" fill-opacity="0.85"/><circle cx="143.3" cy="146.0" r="1.6" fill="#ff7f0e" fill-opacity="0.85"/><circle cx="114.9" cy="154.9" r="1.6" fill="#ff7f0e" fill-opacity="0.85"/><circle cx="129.3" cy="156.1" r="1.6" fill="#ff7f0e" fill-opacity="0.85"/><circle cx="107.5" cy="86.4" r="1.6" fill="#ff7f0e" fill-opacity="0.85"/><circle cx="120.6" cy="103.5" r="1.6" fill="#ff7f0e" fill-opacity="0.85"/><circle cx="117.6" cy="150.7" r="1.6" fill="#ff7f0e" fill-opacity="0.85"/><circle cx="126.6" cy="157.8" r="1.6" fill="#ff7f0e" fill-opacity="0.85"/><circle cx="124.0" cy="132.0" r="1.6" fill="#ff7f0e" fill-opacity="0.85"/><circle cx="118.9" cy="145.6" r="1.6" fill="#ff7f0e" fill-opacity="0.85"/><circle cx="125.5" cy="145.6" r="1.6" fill="#ff7f0e" fill-opacity="0.85"/><circle cx="130.0" cy="156.4" r="1.6" fill="#ff7f0e" fill-opacity="0.85"/><circle cx="113.4" cy="109.3" r="1.6" fill="#ff7f0e" fill-opacity="0.86"/><circle cx="110.6" cy="131.4" r="1.6" fill="#ff7f0e" fill-opacity="0.86"/><circle cx="119.3" cy="145.2" r="1.6" fill="#ff7f0e" fill-opacity="0.86"/><circle cx="132.0" cy="145.2" r="1.6" fill="#ff7f0e" fill-opacity="0.86"/><circle cx="142.4" cy="113.5" r="1.6" fill="#ff7f0e" fill-opacity="0.86"/><circle cx="133.8" cy="137.1" r="1.6" fill="#ff7f0e" fill-opacity="0.86"/><circle cx="137.0" cy="156.5" r="1.6" fill="#ff7f0e" fill-opacity="0.86"/><circle cx="118.4" cy="139.0" r="1.6" fill="#ff7f0e" fill-opacity="0.86"/><circle cx="130.7" cy="155.8" r="1.6" fill="#ff7f0e" fill-opacity="0.86"/><circle cx="90.8" cy="98.3" r="1.6" fill="#ff7f0e" fill-opacity="0.86"/><circle cx="86.5" cy="127.5" r="1.6" fill="#ff7f0e" fill-opacity="0.86"/><circle cx="125.6" cy="143.7" r="1.6" fill="#ff7f0e" fill-opacity="0.86"/><circle cx="118.3" cy="153.9" r="1.6" fill="#ff7f0e" fill-opacity="0.86"/><circle cx="125.2" cy="138.8" r="1.6" fill="#ff7f0e" fill-opacity="0.86"/><circle cx="133.0" cy="141.1" r="1.6" fill="#ff7f0e" fill-opacity="0.86"/><circle cx="127.4" cy="161.3" r="1.6" fill="#ff7f0e" fill-opacity="0.86"/><circle cx="134.6" cy="135.2" r="1.6" fill="#ff7f0e" fill-opacity="0.87"/><circle cx="133.1" cy="139.7" r="1.6" fill="#ff7f0e" fill-opacity="0.87"/><circle cx="128.5" cy="135.2" r="1.6" fill="#ff7f0e" fill-opacity="0.87"/><circle cx="73.6" cy="85.7" r="1.6" fill="#ff7f0e" fill-opacity="0.87"/><circle cx="137.9" cy="149.2" r="1.6" fill="#ff7f0e" fill-opacity="0.87"/><circle cx="137.5" cy="151.4" r="1.6" fill="#ff7f0e" fill-opacity="0.87"/><circle cx="134.4" cy="154.0" r="1.6" fill="#ff7f0e" fill-opacity="0.87"/><circle cx="119.7" cy="150.6" r="1.6" fill="#ff7f0e" fill-opacity="0.87"/><circle cx="89.3" cy="109.1" r="1.6" fill="#ff7f0e" fill-opacity="0.87"/><circle cx="107.1" cy="118.0" r="1.6" fill="#ff7f0e" fill-opacity="0.87"/><circle cx="123.1" cy="136.4" r="1.6" fill="#ff7f0e" fill-opacity="0.87"/><circle cx="117.9" cy="149.0" r="1.6" fill="#ff7f0e" fill-opacity="0.87"/><circle cx="122.4" cy="98.5" r="1.6" fill="#ff7f0e" fill-opacity="0.87"/><circle cx="124.5" cy="137.8" r="1.6" fill="#ff7f0e" fill-opacity="0.87"/><circle cx="108.4" cy="134.9" r="1.6" fill="#ff7f0e" fill-opacity="0.87"/><circle cx="120.3" cy="127.4" r="1.6" fill="#ff7f0e" fill-opacity="0.87"/><circle cx="136.2" cy="96.8" r="1.6" fill="#ff7f0e" fill-opacity="0.87"/><circle cx="141.0" cy="130.3" r="1.6" fill="#ff7f0e" fill-opacity="0.87"/><circle cx="145.0" cy="111.4" r="1.6" fill="#ff7f0e" fill-opacity="0.87"/><circle cx="134.7" cy="151.3" r="1.6" fill="#ff7f0e" fill-opacity="0.87"/><circle cx="110.6" cy="138.8" r="1.6" fill="#ff7f0e" fill-opacity="0.87"/><circle cx="123.6" cy="87.7" r="1.6" fill="#ff7f0e" fill-opacity="0.87"/><circle cx="83.0" cy="84.5" r="1.6" fill="#ff7f0e" fill-opacity="0.88"/><circle cx="120.5" cy="110.7" r="1.6" fill="#ff7f0e" fill-opacity="0.88"/><circle cx="149.1" cy="109.9" r="1.6" fill="#ff7f0e" fill-opacity="0.88"/><circle cx="124.4" cy="129.1" r="1.6" fill="#ff7f0e" fill-opacity="0.88"/><circle cx="125.6" cy="150.4" r="1.6" fill="#ff7f0e" fill-opacity="0.88"/><circle cx="124.7" cy="148.5" r="1.6" fill="#ff7f0e" fill-opacity="0.88"/><circle cx="114.6" cy="135.1" r="1.6" fill="#ff7f0e" fill-opacity="0.88"/><circle cx="130.4" cy="137.1" r="1.6" fill="#ff7f0e" fill-opacity="0.88"/><circle cx="118.0" cy="142.0" r="1.6" fill="#ff7f0e" fill-opacity="0.88"/><circle cx="124.4" cy="131.8" r="1.6" fill="#ff7f0e" fill-opacity="0.88"/><circle cx="127.8" cy="146.9" r="1.6" fill="#ff7f0e" fill-opacity="0.88"/><circle cx="57.8" cy="82.4" r="1.6" fill="#ff7f0e" fill-opacity="0.88"/><circle cx="118.5" cy="124.6" r="1.6" fill="#ff7f0e" fill-opacity="0.88"/><circle cx="128.9" cy="133.5" r="1.6" fill="#ff7f0e" fill-opacity="0.88"/><circle cx="148.0" cy="106.8" r="1.6" fill="#ff7f0e" fill-opacity="0.88"/><circle cx="136.2" cy="147.9" r="1.6" fill="#ff7f0e" fill-opacity="0.89"/><circle cx="126.4" cy="144.1" r="1.6" fill="#ff7f0e" fill-opacity="0.89"/><circle cx="140.8" cy="116.0" r="1.6" fill="#ff7f0e" fill-opacity="0.89"/><circle cx="129.8" cy="141.3" r="1.6" fill="#ff7f0e" fill-opacity="0.89"/><circle cx="130.9" cy="129.5" r="1.6" fill="#ff7f0e" fill-opacity="0.89"/><circle cx="129.3" cy="141.7" r="1.6" fill="#ff7f0e" fill-opacity="0.89"/><circle cx="130.5" cy="143.1" r="1.6" fill="#ff7f0e" fill-opacity="0.89"/><circle cx="125.2" cy="133.3" r="1.6" fill="#ff7f0e" fill-opacity="0.89"/><circle cx="137.8" cy="128.0" r="1.6" fill="#ff7f0e" fill-opacity="0.89"/><circle cx="112.9" cy="139.8" r="1.6" fill="#ff7f0e" fill-opacity="0.89"/><circle cx="120.6" cy="91.0" r="1.6" fill="#ff7f0e" fill-opacity="0.90"/><circle cx="123.0" cy="139.0" r="1.6" fill="#ff7f0e" fill-opacity="0.90"/><circle cx="101.4" cy="77.6" r="1.6" fill="#ff7f0e" fill-opacity="0.90"/><circle cx="119.6" cy="141.2" r="1.6" fill="#ff7f0e" fill-opacity="0.90"/><circle cx="146.5" cy="132.9" r="1.6" fill="#ff7f0e" fill-opacity="0.90"/><circle cx="135.4" cy="101.4" r="1.6" fill="#ff7f0e" fill-opacity="0.90"/><circle cx="130.4" cy="129.3" r="1.6" fill="#ff7f0e" fill-opacity="0.90"/><circle cx="139.8" cy="139.2" r="1.6" fill="#ff7f0e" fill-opacity="0.90"/><circle cx="135.1" cy="141.4" r="1.6" fill="#ff7f0e" fill-opacity="0.91"/><circle cx="135.6" cy="148.1" r="1.6" fill="#ff7f0e" fill-opacity="0.91"/><circle cx="131.1" cy="131.0" r="1.6" fill="#ff7f0e" fill-opacity="0.91"/><circle cx="142.9" cy="137.1" r="1.6" fill="#ff7f0e" fill-opacity="0.91"/><circle cx="117.5" cy="94.2" r="1.6" fill="#ff7f0e" fill-opacity="0.91"/><circle cx="125.4" cy="91.7" r="1.6" fill="#ff7f0e" fill-opacity="0.92"/><circle cx="140.5" cy="137.2" r="1.6" fill="#ff7f0e" fill-opacity="0.93"/><circle cx="125.1" cy="102.0" r="1.6" fill="#ff7f0e" fill-opacity="0.93"/><circle cx="143.4" cy="133.1" r="1.6" fill="#ff7f0e" fill-opacity="0.94"/><circle cx="154.5" cy="113.0" r="1.6" fill="#ff7f0e" fill-opacity="0.94"/><circle cx="96.5" cy="82.2" r="1.6" fill="#ff7f0e" fill-opacity="0.95"/><circle cx="129.4" cy="91.8" r="1.6" fill="#ff7f0e" fill-opacity="0.95"/><circle cx="42.2" cy="112.1" r="1.6" fill="#1f77b4" fill-opacity="0.71"/><circle cx="43.4" cy="132.0" r="1.6" fill="#1f77b4" fill-opacity="0.73"/><circle cx="54.4" cy="131.3" r="1.6" fill="#1f77b4" fill-opacity="0.73"/><circle cx="46.1" cy="122.7" r="1.6" fill="#1f77b4" fill-opacity="0.74"/><circle cx="48.4" cy="125.0" r="1.6" fill="#1f77b4" fill-opacity="0.76"/><circle cx="57.6" cy="124.8" r="1.6" fill="#1f77b4" fill-opacity="0.76"/><circle cx="46.0" cy="126.5" r="1.6" fill="#1f77b4" fill-opacity="0.76"/><circle cx="49.2" cy="124.5" r="1.6" fill="#1f77b4" fill-opacity="0.78"/><circle cx="57.3" cy="121.9" r="1.6" fill="#1f77b4" fill-opacity="0.78"/><circle cx="52.6" cy="119.4" r="1.6" fill="#1f77b4" fill-opacity="0.80"/><rect x="122.5" y="10.5" width="82.1" height="33.2" rx="2.2" fill="#fff" fill-opacity="0.8" stroke="#d6d6d6" stroke-width="0.6"/><circle cx="136.6" cy="19.7" r="1.5" fill="#1f77b4"/><circle cx="136.6" cy="34.9" r="1.5" fill="#ff7f0e"/><text x="177.49" y="22.79" font-size="11.07" textLength="44.44" lengthAdjust="spacingAndGlyphs" text-anchor="middle" fill="#000" stroke="#000" stroke-width="0.15">Negative</text><text x="174.35" y="37.53" font-size="11.07" textLength="38.16" lengthAdjust="spacingAndGlyphs" text-anchor="middle" fill="#000" stroke="#000" stroke-width="0.15">Positive</text></svg><div class="lbl" style="left:4.300000000000011px;top:6.100000000000001px">B</div></div>
<div class="panel" style="left:15px;top:280px;width:246px;height:235px"><svg width="246" height="235" viewBox="0 0 246 235" font-family="Liberation Sans, sans-serif"><g transform="translate(-82.00 -27.50) scale(0.79417 0.80764)"><g><g><path d="M 0 345.6  L 460.8 345.6  L 460.8 0  L 0 0  z " style="fill: #ffffff"/> </g> <g><path d="M 103.10 307.58  L 369.21 307.58  L 369.21 41.47  L 103.10 41.47  z " style="fill: #ffffff"/> </g> <g><g><path d="M 123.19 241.96  L 211.07 168.30  L 209.85 62.07  L 117.77 129.27  " style="fill: #f2f2f2; opacity: 0.5; stroke: #f2f2f2; stroke-linejoin: miter"/> </g> </g> <g><g><path d="M 211.07 168.30  L 352.09 209.29  L 357.12 99.40  L 209.85 62.07  " style="fill: #e6e6e6; opacity: 0.5; stroke: #e6e6e6; stroke-linejoin: miter"/> </g> </g> <g><g><path d="M 123.19 241.96  L 272.67 290.79  L 352.09 209.29  L 211.07 168.30  " style="fill: #ececec; opacity: 0.5; stroke: #ececec; stroke-linejoin: miter"/> </g> </g> <g><g><path d="M 144.76 249.01  L 231.49 174.24  L 231.14 67.46  " style="fill: none; stroke: #b0b0b0; stroke-width: 0.8"/> <path d="M 168.95 256.91  L 254.37 180.89  L 255.01 73.51  " style="fill: none; stroke: #b0b0b0; stroke-width: 0.8"/> <path d="M 193.58 264.95  L 277.62 187.65  L 279.28 79.67  " style="fill: none; stroke: #b0b0b0; stroke-width: 0.8"/> <path d="M 218.63 273.14  L 301.25 194.51  L 303.96 85.92  " style="fill: none; stroke: #b0b0b0; stroke-width: 0.8"/> <path d="M 244.14 281.47  L 325.26 201.49  L 329.06 92.28  " style="fill: none; stroke: #b0b0b0; stroke-width: 0.8"/> </g> </g> <g><g><path d="M 130.86 119.71  L 135.65 231.52  L 283.98 279.19  " style="fill: none; stroke: #b0b0b0; stroke-width: 0.8"/> <path d="M 144.81 109.54  L 148.93 220.39  L 296.00 266.84  " style="fill: none; stroke: #b0b0b0; stroke-width: 0.8"/> <path d="M 158.39 99.62  L 161.88 209.54  L 307.72 254.82  " style="fill: none; stroke: #b0b0b0; stroke-width: 0.8"/> <path d="M 171.63 89.96  L 174.51 198.95  L 319.13 243.11  " style="fill: none; stroke: #b0b0b0; stroke-width: 0.8"/> <path d="M 184.53 80.55  L 186.84 188.61  L 330.26 231.69  " style="fill: none; stroke: #b0b0b0; stroke-width: 0.8"/> <path d="M 197.11 71.36  L 198.88 178.52  L 341.11 220.56  " style="fill: none; stroke: #b0b0b0; stroke-width: 0.8"/> </g> </g> <g><g><path d="M 352.72 195.35  L 210.92 154.81  L 122.51 227.69  " style="fill: none; stroke: #b0b0b0; stroke-width: 0.8"/> <path d="M 353.79 172.16  L 210.66 132.36  L 121.36 203.93  " style="fill: none; stroke: #b0b0b0; stroke-width: 0.8"/> <path d="M 354.87 148.53  L 210.40 109.51  L 120.19 179.70  " style="fill: none; stroke: #b0b0b0; stroke-width: 0.8"/> <path d="M 355.97 124.44  L 210.13 86.24  L 119.00 154.99  " style="fill: none; stroke: #b0b0b0; stroke-width: 0.8"/> <path d="M 357.09 99.89  L 209.86 62.55  L 117.79 129.78  " style="fill: none; stroke: #b0b0b0; stroke-width: 0.8"/> </g> </g> <g><g><path d="M 123.19 241.96  L 272.67 290.79  " style="fill: none; stroke: #000000; stroke-width: 0.8; stroke-linecap: square"/> </g> <g><g><path d="M 145.51 248.36  L 143.24 250.31  " style="fill: none; stroke: #000000; stroke-width: 0.8; stroke-linecap: square"/> </g> </g> <g><g><path d="M 169.70 256.25  L 167.46 258.24  " style="fill: none; stroke: #000000; stroke-width: 0.8; stroke-linecap: square"/> </g> </g> <g><g><path d="M 194.31 264.28  L 192.11 266.30  " style="fill: none; stroke: #000000; stroke-width: 0.8; stroke-linecap: square"/> </g> </g> <g><g><path d="M 219.36 272.45  L 217.19 274.51  " style="fill: none; stroke: #000000; stroke-width: 0.8; stroke-linecap: square"/> </g> </g> <g><g><path d="M 244.85 280.77  L 242.72 282.87  " style="fill: none; stroke: #000000; stroke-width: 0.8; stroke-linecap: square"/> </g> </g> </g> <g><g><path d="M 352.09 209.29  L 272.67 290.79  " style="fill: none; stroke: #000000; stroke-width: 0.8; stroke-linecap: square"/> </g> <g><g><path d="M 282.73 278.79  L 286.48 279.99  " style="fill: none; stroke: #000000; stroke-width: 0.8; stroke-linecap: square"/> </g> </g> <g><g><path d="M 294.77 266.45  L 298.48 267.63  " style="fill: none; stroke: #000000; stroke-width: 0.8; stroke-linecap: square"/> </g> </g> <g><g><path d="M 306.49 254.44  L 310.18 255.58  " style="fill: none; stroke: #000000; stroke-width: 0.8; stroke-linecap: square"/> </g> </g> <g><g><path d="M 317.92 242.74  L 321.57 243.85  " style="fill: none; stroke: #000000; stroke-width: 0.8; stroke-linecap: square"/> </g> </g> <g><g><path d="M 329.05 231.33  L 332.67 232.41  " style="fill: none; stroke: #000000; stroke-width: 0.8; stroke-linecap: square"/> </g> </g> <g><g><path d="M 339.91 220.20  L 343.50 221.26  " style="fill: none; stroke: #000000; stroke-width: 0.8; stroke-linecap: square"/> </g> </g> </g> <g><g><path d="M 352.09 209.29  L 357.12 99.40  " style="fill: none; stroke: #000000; stroke-width: 0.8; stroke-linecap: square"/> </g> <g><g><path d="M 351.53 195.01  L 355.11 196.04  " style="fill: none; stroke: #000000; stroke-width: 0.8; stroke-linecap: square"/> </g> </g> <g><g><path d="M 352.58 171.83  L 356.19 172.83  " style="fill: none; stroke: #000000; stroke-width: 0.8; stroke-linecap: square"/> </g> </g> <g><g><path d="M 353.65 148.20  L 357.30 149.19  " style="fill: none; stroke: #000000; stroke-width: 0.8; stroke-linecap: square"/> </g> </g> <g><g><path d="M 354.74 124.12  L 358.43 125.09  " style="fill: none; stroke: #000000; stroke-width: 0.8; stroke-linecap: square"/> </g> </g> <g><g><path d="M 355.86 99.58  L 359.57 100.52  " style="fill: none; stroke: #000000; stroke-width: 0.8; stroke-linecap: square"/> </g> </g> </g> <g/> </g> </g><text x="29.26" y="191.17" font-size="10.90" textLength="25.51" lengthAdjust="spacingAndGlyphs" text-anchor="middle" fill="#000" stroke="#000" stroke-width="0.15">−100</text><text x="48.48" y="197.55" font-size="10.90" textLength="19.60" lengthAdjust="spacingAndGlyphs" text-anchor="middle" fill="#000" stroke="#000" stroke-width="0.15">−50</text><text x="68.03" y="204.05" font-size="10.90" textLength="5.91" lengthAdjust="spacingAndGlyphs" text-anchor="middle" fill="#000" stroke="#000" stroke-width="0.15">0</text><text x="87.93" y="210.66" font-size="10.90" textLength="11.82" lengthAdjust="spacingAndGlyphs" text-anchor="middle" fill="#000" stroke="#000" stroke-width="0.15">50</text><text x="108.19" y="217.39" font-size="10.90" textLength="17.73" lengthAdjust="spacingAndGlyphs" text-anchor="middle" fill="#000" stroke="#000" stroke-width="0.15">100</text><text x="150.76" y="214.31" font-size="10.90" textLength="25.51" lengthAdjust="spacingAndGlyphs" text-anchor="middle" fill="#000" stroke="#000" stroke-width="0.15">−100</text><text x="160.31" y="204.34" font-size="10.90" textLength="19.60" lengthAdjust="spacingAndGlyphs" text-anchor="middle" fill="#000" stroke="#000" stroke-width="0.15">−50</text><text x="169.61" y="194.63" font-size="10.90" textLength="5.91" lengthAdjust="spacingAndGlyphs" text-anchor="middle" fill="#000" stroke="#000" stroke-width="0.15">0</text><text x="178.68" y="185.17" font-size="10.90" textLength="11.82" lengthAdjust="spacingAndGlyphs" text-anchor="middle" fill="#000" stroke="#000" stroke-width="0.15">50</text><text x="187.52" y="175.95" font-size="10.90" textLength="17.73" lengthAdjust="spacingAndGlyphs" text-anchor="middle" fill="#000" stroke="#000" stroke-width="0.15">100</text><text x="196.13" y="166.96" font-size="10.90" textLength="17.73" lengthAdjust="spacingAndGlyphs" text-anchor="middle" fill="#000" stroke="#000" stroke-width="0.15">150</text><text x="208.16" y="137.31" font-size="10.90" textLength="25.51" lengthAdjust="spacingAndGlyphs" text-anchor="middle" fill="#000" stroke="#000" stroke-width="0.15">−100</text><text x="209.01" y="118.58" font-size="10.90" textLength="5.91" lengthAdjust="spacingAndGlyphs" text-anchor="middle" fill="#000" stroke="#000" stroke-width="0.15">0</text><text x="209.87" y="99.50" font-size="10.90" textLength="17.73" lengthAdjust="spacingAndGlyphs" text-anchor="middle" fill="#000" stroke="#000" stroke-width="0.15">100</text><text x="210.74" y="80.04" font-size="10.90" textLength="17.73" lengthAdjust="spacingAndGlyphs" text-anchor="middle" fill="#000" stroke="#000" stroke-width="0.15">200</text><text x="211.63" y="60.22" font-size="10.90" textLength="17.73" lengthAdjust="spacingAndGlyphs" text-anchor="middle" fill="#000" stroke="#000" stroke-width="0.15">300</text><text x="57.36" y="223.34" font-size="10.90" textLength="66.31" lengthAdjust="spacingAndGlyphs" text-anchor="middle" fill="#000" stroke="#000" stroke-width="0.15" transform="rotate(18.4 57.36 223.34)">TSNE Score 1</text><text x="194.12" y="202.21" font-size="10.90" textLength="66.31" lengthAdjust="spacingAndGlyphs" text-anchor="middle" fill="#000" stroke="#000" stroke-width="0.15" transform="rotate(-46.2 194.12 202.21)">TSNE Score 2</text><text x="240.32" y="93.80" font-size="10.90" textLength="66.31" lengthAdjust="spacingAndGlyphs" text-anchor="middle" fill="#000" stroke="#000" stroke-width="0.15" transform="rotate(-90.0 240.32 93.80)">TSNE Score 3</text><circle cx="112.8" cy="109.4" r="1.6" fill="#1f77b4" fill-opacity="0.58"/><circle cx="109.2" cy="114.4" r="1.6" fill="#1f77b4" fill-opacity="0.58"/><circle cx="93.4" cy="113.0" r="1.6" fill="#1f77b4" fill-opacity="0.59"/><circle cx="88.6" cy="111.2" r="1.6" fill="#1f77b4" fill-opacity="0.60"/><circle cx="96.1" cy="101.1" r="1.6" fill="#1f77b4" fill-opacity="0.60"/><circle cx="88.8" cy="106.2" r="1.6" fill="#1f77b4" fill-opacity="0.60"/><circle cx="77.2" cy="106.0" r="1.6" fill="#1f77b4" fill-opacity="0.61"/><circle cx="87.8" cy="125.9" r="1.6" fill="#1f77b4" fill-opacity="0.61"/><circle cx="105.1" cy="124.7" r="1.6" fill="#1f77b4" fill-opacity="0.61"/><circle cx="93.9" cy="126.1" r="1.6" fill="#1f77b4" fill-opacity="0.62"/><circle cx="106.1" cy="130.0" r="1.6" fill="#1f77b4" fill-opacity="0.62"/><circle cx="86.7" cy="128.6" r="1.6" fill="#1f77b4" fill-opacity="0.63"/><circle cx="84.5" cy="124.5" r="1.6" fill="#1f77b4" fill-opacity="0.63"/><circle cx="105.2" cy="115.8" r="1.6" fill="#1f77b4" fill-opacity="0.63"/><circle cx="118.9" cy="121.8" r="1.6" fill="#1f77b4" fill-opacity="0.63"/><circle cx="69.9" cy="116.1" r="1.6" fill="#1f77b4" fill-opacity="0.63"/><circle cx="105.8" cy="116.9" r="1.6" fill="#1f77b4" fill-opacity="0.63"/><circle cx="88.2" cy="130.3" r="1.6" fill="#1f77b4" fill-opacity="0.63"/><circle cx="108.3" cy="117.6" r="1.6" fill="#1f77b4" fill-opacity="0.64"/><circle cx="85.7" cy="126.9" r="1.6" fill="#1f77b4" fill-opacity="0.64"/><circle cx="78.8" cy="117.9" r="1.6" fill="#1f77b4" fill-opacity="0.64"/><circle cx="90.8" cy="112.8" r="1.6" fill="#1f77b4" fill-opacity="0.64"/><circle cx="96.1" cy="110.5" r="1.6" fill="#1f77b4" fill-opacity="0.65"/><circle cx="123.9" cy="129.2" r="1.6" fill="#1f77b4" fill-opacity="0.65"/><circle cx="119.7" cy="112.0" r="1.6" fill="#1f77b4" fill-opacity="0.65"/><circle cx="129.0" cy="114.7" r="1.6" fill="#1f77b4" fill-opacity="0.65"/><circle cx="115.3" cy="100.3" r="1.6" fill="#1f77b4" fill-opacity="0.65"/><circle cx="137.7" cy="113.3" r="1.6" fill="#1f77b4" fill-opacity="0.65"/><circle cx="93.7" cy="127.8" r="1.6" fill="#1f77b4" fill-opacity="0.65"/><circle cx="141.3" cy="114.1" r="1.6" fill="#1f77b4" fill-opacity="0.65"/><circle cx="101.2" cy="105.1" r="1.6" fill="#1f77b4" fill-opacity="0.66"/><circle cx="119.4" cy="128.4" r="1.6" fill="#1f77b4" fill-opacity="0.66"/><circle cx="106.0" cy="132.8" r="1.6" fill="#1f77b4" fill-opacity="0.66"/><circle cx="76.7" cy="108.9" r="1.6" fill="#1f77b4" fill-opacity="0.66"/><circle cx="96.7" cy="120.4" r="1.6" fill="#1f77b4" fill-opacity="0.66"/><circle cx="85.4" cy="124.9" r="1.6" fill="#1f77b4" fill-opacity="0.66"/><circle cx="110.5" cy="119.8" r="1.6" fill="#1f77b4" fill-opacity="0.66"/><circle cx="127.2" cy="114.8" r="1.6" fill="#1f77b4" fill-opacity="0.67"/><circle cx="80.8" cy="101.1" r="1.6" fill="#1f77b4" fill-opacity="0.67"/><circle cx="142.8" cy="120.6" r="1.6" fill="#1f77b4" fill-opacity="0.67"/><circle cx="128.5" cy="110.8" r="1.6" fill="#1f77b4" fill-opacity="0.67"/><circle cx="57.1" cy="114.9" r="1.6" fill="#1f77b4" fill-opacity="0.67"/><circle cx="118.6" cy="138.2" r="1.6" fill="#1f77b4" fill-opacity="0.67"/><circle cx="81.2" cy="109.4" r="1.6" fill="#1f77b4" fill-opacity="0.67"/><circle cx="111.3" cy="114.7" r="1.6" fill="#1f77b4" fill-opacity="0.67"/><circle cx="68.8" cy="108.9" r="1.6" fill="#1f77b4" fill-opacity="0.67"/><circle cx="110.0" cy="110.2" r="1.6" fill="#1f77b4" fill-opacity="0.67"/><circle cx="124.0" cy="112.3" r="1.6" fill="#1f77b4" fill-opacity="0.67"/><circle cx="95.1" cy="139.2" r="1.6" fill="#1f77b4" fill-opacity="0.68"/><circle cx="141.0" cy="114.8" r="1.6" fill="#1f77b4" fill-opacity="0.68"/><circle cx="124.5" cy="101.6" r="1.6" fill="#1f77b4" fill-opacity="0.68"/><circle cx="136.3" cy="109.4" r="1.6" fill="#1f77b4" fill-opacity="0.68"/><circle cx="83.0" cy="98.6" r="1.6" fill="#1f77b4" fill-opacity="0.68"/><circle cx="100.3" cy="125.6" r="1.6" fill="#1f77b4" fill-opacity="0.68"/><circle cx="63.1" cy="115.2" r="1.6" fill="#1f77b4" fill-opacity="0.68"/><circle cx="61.6" cy="104.3" r="1.6" fill="#1f77b4" fill-opacity="0.68"/><circle cx="109.9" cy="119.9" r="1.6" fill="#1f77b4" fill-opacity="0.68"/><circle cx="96.6" cy="120.3" r="1.6" fill="#1f77b4" fill-opacity="0.69"/><circle cx="87.1" cy="105.2" r="1.6" fill="#1f77b4" fill-opacity="0.69"/><circle cx="90.5" cy="101.9" r="1.6" fill="#1f77b4" fill-opacity="0.69"/><circle cx="70.2" cy="113.6" r="1.6" fill="#1f77b4" fill-opacity="0.69"/><circle cx="131.3" cy="129.2" r="1.6" fill="#1f77b4" fill-opacity="0.69"/><circle cx="70.0" cy="127.2" r="1.6" fill="#1f77b4" fill-opacity="0.69"/><circle cx="57.5" cy="127.0" r="1.6" fill="#1f77b4" fill-opacity="0.69"/><circle cx="111.2" cy="102.9" r="1.6" fill="#1f77b4" fill-opacity="0.69"/><circle cx="146.4" cy="124.1" r="1.6" fill="#1f77b4" fill-opacity="0.69"/><circle cx="115.3" cy="107.8" r="1.6" fill="#1f77b4" fill-opacity="0.70"/><circle cx="59.0" cy="118.4" r="1.6" fill="#1f77b4" fill-opacity="0.70"/><circle cx="115.1" cy="124.2" r="1.6" fill="#1f77b4" fill-opacity="0.70"/><circle cx="123.6" cy="139.1" r="1.6" fill="#1f77b4" fill-opacity="0.70"/><circle cx="67.0" cy="105.4" r="1.6" fill="#1f77b4" fill-opacity="0.70"/><circle cx="104.8" cy="126.5" r="1.6" fill="#1f77b4" fill-opacity="0.70"/><circle cx="116.6" cy="106.5" r="1.6" fill="#1f77b4" fill-opacity="0.70"/><circle cx="83.8" cy="117.7" r="1.6" fill="#1f77b4" fill-opacity="0.70"/><circle cx="77.0" cy="137.6" r="1.6" fill="#1f77b4" fill-opacity="0.70"/><circle cx="142.2" cy="117.4" r="1.6" fill="#1f77b4" fill-opacity="0.70"/><circle cx="90.2" cy="117.2" r="1.6" fill="#1f77b4" fill-opacity="0.70"/><circle cx="125.8" cy="111.5" r="1.6" fill="#1f77b4" fill-opacity="0.70"/><circle cx="91.1" cy="138.2" r="1.6" fill="#1f77b4" fill-opacity="0.70"/><circle cx="129.5" cy="114.0" r="1.6" fill="#1f77b4" fill-opacity="0.70"/><circle cx="89.5" cy="128.2" r="1.6" fill="#1f77b4" fill-opacity="0.71"/><circle cx="126.9" cy="107.1" r="1.6" fill="#1f77b4" fill-opacity="0.71"/><circle cx="72.2" cy="128.8" r="1.6" fill="#1f77b4" fill-opacity="0.71"/><circle cx="96.5" cy="141.7" r="1.6" fill="#1f77b4" fill-opacity="0.71"/><circle cx="113.3" cy="135.2" r="1.6" fill="#1f77b4" fill-opacity="0.71"/><circle cx="81.8" cy="129.5" r="1.6" fill="#1f77b4" fill-opacity="0.72"/><circle cx="128.2" cy="135.5" r="1.6" fill="#1f77b4" fill-opacity="0.72"/><circle cx="117.0" cy="120.9" r="1.6" fill="#1f77b4" fill-opacity="0.72"/><circle cx="141.3" cy="138.1" r="1.6" fill="#1f77b4" fill-opacity="0.72"/><circle cx="67.5" cy="102.1" r="1.6" fill="#1f77b4" fill-opacity="0.72"/><circle cx="48.4" cy="122.7" r="1.6" fill="#1f77b4" fill-opacity="0.72"/><circle cx="135.4" cy="105.0" r="1.6" fill="#1f77b4" fill-opacity="0.72"/><circle cx="76.9" cy="110.4" r="1.6" fill="#1f77b4" fill-opacity="0.73"/><circle cx="53.6" cy="118.0" r="1.6" fill="#1f77b4" fill-opacity="0.73"/><circle cx="129.7" cy="120.7" r="1.6" fill="#1f77b4" fill-opacity="0.73"/><circle cx="70.9" cy="105.0" r="1.6" fill="#1f77b4" fill-opacity="0.73"/><circle cx="68.2" cy="123.4" r="1.6" fill="#1f77b4" fill-opacity="0.73"/><circle cx="138.8" cy="106.9" r="1.6" fill="#1f77b4" fill-opacity="0.74"/><circle cx="95.8" cy="150.5" r="1.6" fill="#1f77b4" fill-opacity="0.74"/><circle cx="169.0" cy="103.2" r="1.6" fill="#1f77b4" fill-opacity="0.74"/><circle cx="124.1" cy="106.9" r="1.6" fill="#1f77b4" fill-opacity="0.74"/><circle cx="147.2" cy="111.9" r="1.6" fill="#1f77b4" fill-opacity="0.74"/><circle cx="123.0" cy="115.2" r="1.6" fill="#1f77b4" fill-opacity="0.74"/><circle cx="91.0" cy="106.9" r="1.6" fill="#1f77b4" fill-opacity="0.74"/><circle cx="104.9" cy="101.3" r="1.6" fill="#1f77b4" fill-opacity="0.74"/><circle cx="53.7" cy="121.7" r="1.6" fill="#1f77b4" fill-opacity="0.75"/><circle cx="107.8" cy="133.2" r="1.6" fill="#1f77b4" fill-opacity="0.75"/><circle cx="128.5" cy="117.4" r="1.6" fill="#1f77b4" fill-opacity="0.75"/><circle cx="145.8" cy="121.6" r="1.6" fill="#1f77b4" fill-opacity="0.75"/><circle cx="64.8" cy="112.1" r="1.6" fill="#1f77b4" fill-opacity="0.75"/><circle cx="120.8" cy="125.0" r="1.6" fill="#1f77b4" fill-opacity="0.75"/><circle cx="87.1" cy="153.0" r="1.6" fill="#1f77b4" fill-opacity="0.76"/><circle cx="72.3" cy="111.8" r="1.6" fill="#1f77b4" fill-opacity="0.76"/><circle cx="122.3" cy="132.4" r="1.6" fill="#1f77b4" fill-opacity="0.76"/><circle cx="88.1" cy="106.2" r="1.6" fill="#1f77b4" fill-opacity="0.76"/><circle cx="83.8" cy="104.6" r="1.6" fill="#1f77b4" fill-opacity="0.76"/><circle cx="146.8" cy="113.7" r="1.6" fill="#1f77b4" fill-opacity="0.76"/><circle cx="118.0" cy="148.5" r="1.6" fill="#1f77b4" fill-opacity="0.77"/><circle cx="75.4" cy="105.1" r="1.6" fill="#1f77b4" fill-opacity="0.77"/><circle cx="86.5" cy="134.0" r="1.6" fill="#1f77b4" fill-opacity="0.77"/><circle cx="85.5" cy="126.8" r="1.6" fill="#1f77b4" fill-opacity="0.77"/><circle cx="153.1" cy="119.2" r="1.6" fill="#1f77b4" fill-opacity="0.78"/><circle cx="107.3" cy="130.9" r="1.6" fill="#1f77b4" fill-opacity="0.78"/><circle cx="154.9" cy="129.0" r="1.6" fill="#1f77b4" fill-opacity="0.78"/><circle cx="102.4" cy="110.6" r="1.6" fill="#1f77b4" fill-opacity="0.78"/><circle cx="118.7" cy="155.5" r="1.6" fill="#1f77b4" fill-opacity="0.78"/><circle cx="114.8" cy="101.3" r="1.6" fill="#1f77b4" fill-opacity="0.78"/><circle cx="143.0" cy="111.5" r="1.6" fill="#1f77b4" fill-opacity="0.78"/><circle cx="79.0" cy="106.9" r="1.6" fill="#1f77b4" fill-opacity="0.79"/><circle cx="77.5" cy="117.7" r="1.6" fill="#1f77b4" fill-opacity="0.79"/><circle cx="129.7" cy="112.4" r="1.6" fill="#1f77b4" fill-opacity="0.79"/><circle cx="91.4" cy="155.2" r="1.6" fill="#1f77b4" fill-opacity="0.79"/><circle cx="86.1" cy="133.6" r="1.6" fill="#1f77b4" fill-opacity="0.79"/><circle cx="93.1" cy="145.3" r="1.6" fill="#1f77b4" fill-opacity="0.79"/><circle cx="57.4" cy="122.5" r="1.6" fill="#1f77b4" fill-opacity="0.79"/><circle cx="106.7" cy="105.7" r="1.6" fill="#1f77b4" fill-opacity="0.80"/><circle cx="99.9" cy="116.7" r="1.6" fill="#1f77b4" fill-opacity="0.80"/><circle cx="52.4" cy="138.1" r="1.6" fill="#1f77b4" fill-opacity="0.80"/><circle cx="124.1" cy="123.0" r="1.6" fill="#1f77b4" fill-opacity="0.80"/><circle cx="79.9" cy="110.8" r="1.6" fill="#1f77b4" fill-opacity="0.80"/><circle cx="145.4" cy="142.9" r="1.6" fill="#1f77b4" fill-opacity="0.80"/><circle cx="141.2" cy="138.1" r="1.6" fill="#1f77b4" fill-opacity="0.80"/><circle cx="74.7" cy="154.7" r="1.6" fill="#1f77b4" fill-opacity="0.80"/><circle cx="92.4" cy="144.4" r="1.6" fill="#1f77b4" fill-opacity="0.81"/><circle cx="139.1" cy="111.7" r="1.6" fill="#1f77b4" fill-opacity="0.81"/><circle cx="77.6" cy="126.2" r="1.6" fill="#1f77b4" fill-opacity="0.81"/><circle cx="120.7" cy="127.9" r="1.6" fill="#1f77b4" fill-opacity="0.81"/><circle cx="76.3" cy="155.8" r="1.6" fill="#1f77b4" fill-opacity="0.81"/><circle cx="110.8" cy="135.2" r="1.6" fill="#1f77b4" fill-opacity="0.81"/><circle cx="88.6" cy="143.3" r="1.6" fill="#1f77b4" fill-opacity="0.81"/><circle cx="115.5" cy="133.6" r="1.6" fill="#1f77b4" fill-opacity="0.81"/><circle cx="56.1" cy="131.9" r="1.6" fill="#1f77b4" fill-opacity="0.81"/><circle cx="110.6" cy="108.6" r="1.6" fill="#1f77b4" fill-opacity="0.81"/><circle cx="96.0" cy="141.1" r="1.6" fill="#1f77b4" fill-opacity="0.82"/><circle cx="114.8" cy="146.4" r="1.6" fill="#1f77b4" fill-opacity="0.82"/><circle cx="100.5" cy="159.2" r="1.6" fill="#1f77b4" fill-opacity="0.82"/><circle cx="75.4" cy="150.2" r="1.6" fill="#1f77b4" fill-opacity="0.82"/><circle cx="89.0" cy="123.0" r="1.6" fill="#1f77b4" fill-opacity="0.82"/><circle cx="128.2" cy="117.6" r="1.6" fill="#1f77b4" fill-opacity="0.82"/><circle cx="133.1" cy="138.9" r="1.6" fill="#1f77b4" fill-opacity="0.82"/><circle cx="124.6" cy="123.2" r="1.6" fill="#1f77b4" fill-opacity="0.83"/><circle cx="109.1" cy="125.2" r="1.6" fill="#1f77b4" fill-opacity="0.83"/><circle cx="113.1" cy="135.0" r="1.6" fill="#1f77b4" fill-opacity="0.83"/><circle cx="64.8" cy="147.5" r="1.6" fill="#1f77b4" fill-opacity="0.83"/><circle cx="56.5" cy="118.1" r="1.6" fill="#1f77b4" fill-opacity="0.83"/><circle cx="147.3" cy="139.8" r="1.6" fill="#1f77b4" fill-opacity="0.83"/><circle cx="69.1" cy="122.9" r="1.6" fill="#1f77b4" fill-opacity="0.83"/><circle cx="102.8" cy="124.1" r="1.6" fill="#1f77b4" fill-opacity="0.83"/><circle cx="111.3" cy="123.9" r="1.6" fill="#1f77b4" fill-opacity="0.83"/><circle cx="73.4" cy="149.8" r="1.6" fill="#1f77b4" fill-opacity="0.84"/><circle cx="97.1" cy="112.4" r="1.6" fill="#1f77b4" fill-opacity="0.84"/><circle cx="94.0" cy="129.9" r="1.6" fill="#1f77b4" fill-opacity="0.84"/><circle cx="70.5" cy="156.1" r="1.6" fill="#1f77b4" fill-opacity="0.84"/><circle cx="90.5" cy="153.9" r="1.6" fill="#1f77b4" fill-opacity="0.84"/><circle cx="84.1" cy="112.7" r="1.6" fill="#1f77b4" fill-opacity="0.85"/><circle cx="94.4" cy="111.0" r="1.6" fill="#1f77b4" fill-opacity="0.85"/><circle cx="97.7" cy="157.5" r="1.6" fill="#1f77b4" fill-opacity="0.85"/><circle cx="100.0" cy="128.4" r="1.6" fill="#1f77b4" fill-opacity="0.85"/><circle cx="107.9" cy="144.0" r="1.6" fill="#1f77b4" fill-opacity="0.85"/><circle cx="47.4" cy="138.5" r="1.6" fill="#1f77b4" fill-opacity="0.85"/><circle cx="69.1" cy="118.8" r="1.6" fill="#1f77b4" fill-opacity="0.86"/><circle cx="146.0" cy="123.8" r="1.6" fill="#1f77b4" fill-opacity="0.86"/><circle cx="119.4" cy="114.8" r="1.6" fill="#1f77b4" fill-opacity="0.86"/><circle cx="77.1" cy="140.2" r="1.6" fill="#1f77b4" fill-opacity="0.86"/><circle cx="93.1" cy="119.5" r="1.6" fill="#1f77b4" fill-opacity="0.86"/><circle cx="102.8" cy="154.4" r="1.6" fill="#1f77b4" fill-opacity="0.86"/><circle cx="92.3" cy="113.1" r="1.6" fill="#1f77b4" fill-opacity="0.86"/><circle cx="100.0" cy="155.2" r="1.6" fill="#1f77b4" fill-opacity="0.86"/><circle cx="97.9" cy="160.0" r="1.6" fill="#1f77b4" fill-opacity="0.87"/><circle cx="123.8" cy="123.4" r="1.6" fill="#1f77b4" fill-opacity="0.87"/><circle cx="116.3" cy="158.3" r="1.6" fill="#1f77b4" fill-opacity="0.87"/><circle cx="109.6" cy="113.1" r="1.6" fill="#1f77b4" fill-opacity="0.87"/><circle cx="123.4" cy="139.3" r="1.6" fill="#1f77b4" fill-opacity="0.87"/><circle cx="94.9" cy="150.8" r="1.6" fill="#1f77b4" fill-opacity="0.87"/><circle cx="130.4" cy="120.8" r="1.6" fill="#1f77b4" fill-opacity="0.87"/><circle cx="143.0" cy="138.6" r="1.6" fill="#1f77b4" fill-opacity="0.87"/><circle cx="95.4" cy="151.4" r="1.6" fill="#1f77b4" fill-opacity="0.87"/><circle cx="119.1" cy="133.7" r="1.6" fill="#1f77b4" fill-opacity="0.87"/><circle cx="85.3" cy="129.1" r="1.6" fill="#1f77b4" fill-opacity="0.87"/><circle cx="73.3" cy="158.9" r="1.6" fill="#1f77b4" fill-opacity="0.87"/><circle cx="109.7" cy="138.5" r="1.6" fill="#1f77b4" fill-opacity="0.87"/><circle cx="83.3" cy="142.5" r="1.6" fill="#1f77b4" fill-opacity="0.88"/><circle cx="107.4" cy="122.5" r="1.6" fill="#1f77b4" fill-opacity="0.88"/><circle cx="69.9" cy="145.7" r="1.6" fill="#1f77b4" fill-opacity="0.88"/><circle cx="120.1" cy="117.2" r="1.6" fill="#1f77b4" fill-opacity="0.88"/><circle cx="121.4" cy="149.6" r="1.6" fill="#1f77b4" fill-opacity="0.88"/><circle cx="141.5" cy="134.0" r="1.6" fill="#1f77b4" fill-opacity="0.88"/><circle cx="100.1" cy="117.5" r="1.6" fill="#1f77b4" fill-opacity="0.88"/><circle cx="120.9" cy="125.3" r="1.6" fill="#1f77b4" fill-opacity="0.88"/><circle cx="67.3" cy="141.7" r="1.6" fill="#1f77b4" fill-opacity="0.88"/><circle cx="129.8" cy="137.9" r="1.6" fill="#1f77b4" fill-opacity="0.89"/><circle cx="89.6" cy="156.8" r="1.6" fill="#1f77b4" fill-opacity="0.89"/><circle cx="85.4" cy="121.6" r="1.6" fill="#1f77b4" fill-opacity="0.89"/><circle cx="139.7" cy="142.4" r="1.6" fill="#1f77b4" fill-opacity="0.89"/><circle cx="144.3" cy="143.3" r="1.6" fill="#1f77b4" fill-opacity="0.89"/><circle cx="80.7" cy="150.5" r="1.6" fill="#1f77b4" fill-opacity="0.90"/><circle cx="84.8" cy="129.4" r="1.6" fill="#1f77b4" fill-opacity="0.90"/><circle cx="82.9" cy="136.8" r="1.6" fill="#1f77b4" fill-opacity="0.90"/><circle cx="111.1" cy="142.0" r="1.6" fill="#1f77b4" fill-opacity="0.90"/><circle cx="76.0" cy="131.4" r="1.6" fill="#1f77b4" fill-opacity="0.90"/><circle cx="137.8" cy="132.1" r="1.6" fill="#1f77b4" fill-opacity="0.90"/><circle cx="106.5" cy="128.2" r="1.6" fill="#1f77b4" fill-opacity="0.90"/><circle cx="94.8" cy="152.7" r="1.6" fill="#1f77b4" fill-opacity="0.90"/><circle cx="71.6" cy="152.0" r="1.6" fill="#1f77b4" fill-opacity="0.91"/><circle cx="128.6" cy="161.5" r="1.6" fill="#1f77b4" fill-opacity="0.91"/><circle cx="129.0" cy="125.9" r="1.6" fill="#1f77b4" fill-opacity="0.91"/><circle cx="102.5" cy="156.3" r="1.6" fill="#1f77b4" fill-opacity="0.92"/><circle cx="137.8" cy="146.1" r="1.6" fill="#1f77b4" fill-opacity="0.92"/><circle cx="86.2" cy="138.2" r="1.6" fill="#1f77b4" fill-opacity="0.92"/><circle cx="131.9" cy="146.2" r="1.6" fill="#1f77b4" fill-opacity="0.92"/><circle cx="91.7" cy="127.8" r="1.6" fill="#1f77b4" fill-opacity="0.93"/><circle cx="127.7" cy="132.2" r="1.6" fill="#1f77b4" fill-opacity="0.93"/><circle cx="91.0" cy="130.3" r="1.6" fill="#1f77b4" fill-opacity="0.93"/><circle cx="125.3" cy="136.1" r="1.6" fill="#1f77b4" fill-opacity="0.93"/><circle cx="109.7" cy="123.5" r="1.6" fill="#1f77b4" fill-opacity="0.93"/><circle cx="65.0" cy="142.7" r="1.6" fill="#1f77b4" fill-opacity="0.94"/><circle cx="118.4" cy="149.9" r="1.6" fill="#1f77b4" fill-opacity="0.94"/><circle cx="139.0" cy="141.2" r="1.6" fill="#1f77b4" fill-opacity="0.94"/><circle cx="124.8" cy="141.0" r="1.6" fill="#1f77b4" fill-opacity="0.94"/><circle cx="85.7" cy="159.1" r="1.6" fill="#1f77b4" fill-opacity="0.94"/><circle cx="62.2" cy="142.4" r="1.6" fill="#1f77b4" fill-opacity="0.95"/><circle cx="117.5" cy="136.6" r="1.6" fill="#1f77b4" fill-opacity="0.95"/><circle cx="107.5" cy="146.2" r="1.6" fill="#1f77b4" fill-opacity="0.95"/><circle cx="114.4" cy="159.4" r="1.6" fill="#1f77b4" fill-opacity="0.95"/><circle cx="107.1" cy="148.7" r="1.6" fill="#1f77b4" fill-opacity="0.95"/><circle cx="74.1" cy="159.3" r="1.6" fill="#1f77b4" fill-opacity="0.96"/><circle cx="105.9" cy="155.8" r="1.6" fill="#1f77b4" fill-opacity="0.96"/><circle cx="107.9" cy="146.7" r="1.6" fill="#1f77b4" fill-opacity="0.98"/><circle cx="129.5" cy="145.9" r="1.6" fill="#1f77b4" fill-opacity="0.99"/><circle cx="103.8" cy="138.4" r="1.6" fill="#1f77b4" fill-opacity="0.99"/><circle cx="103.4" cy="140.1" r="1.6" fill="#1f77b4"/><circle cx="106.9" cy="106.8" r="1.6" fill="#ff7f0e" fill-opacity="0.58"/><circle cx="94.9" cy="106.8" r="1.6" fill="#ff7f0e" fill-opacity="0.58"/><circle cx="103.3" cy="116.1" r="1.6" fill="#ff7f0e" fill-opacity="0.59"/><circle cx="116.5" cy="113.2" r="1.6" fill="#ff7f0e" fill-opacity="0.59"/><circle cx="101.4" cy="114.9" r="1.6" fill="#ff7f0e" fill-opacity="0.59"/><circle cx="105.8" cy="120.3" r="1.6" fill="#ff7f0e" fill-opacity="0.59"/><circle cx="110.3" cy="116.6" r="1.6" fill="#ff7f0e" fill-opacity="0.59"/><circle cx="116.9" cy="108.1" r="1.6" fill="#ff7f0e" fill-opacity="0.59"/><circle cx="89.5" cy="104.1" r="1.6" fill="#ff7f0e" fill-opacity="0.59"/><circle cx="88.0" cy="99.4" r="1.6" fill="#ff7f0e" fill-opacity="0.60"/><circle cx="88.7" cy="113.1" r="1.6" fill="#ff7f0e" fill-opacity="0.60"/><circle cx="98.8" cy="122.6" r="1.6" fill="#ff7f0e" fill-opacity="0.60"/><circle cx="112.2" cy="116.9" r="1.6" fill="#ff7f0e" fill-opacity="0.60"/><circle cx="89.4" cy="98.4" r="1.6" fill="#ff7f0e" fill-opacity="0.60"/><circle cx="95.2" cy="110.0" r="1.6" fill="#ff7f0e" fill-opacity="0.60"/><circle cx="119.6" cy="114.9" r="1.6" fill="#ff7f0e" fill-opacity="0.60"/><circle cx="109.2" cy="102.7" r="1.6" fill="#ff7f0e" fill-opacity="0.60"/><circle cx="122.2" cy="117.0" r="1.6" fill="#ff7f0e" fill-opacity="0.60"/><circle cx="85.5" cy="120.0" r="1.6" fill="#ff7f0e" fill-opacity="0.60"/><circle cx="67.2" cy="112.7" r="1.6" fill="#ff7f0e" fill-opacity="0.61"/><circle cx="100.6" cy="122.1" r="1.6" fill="#ff7f0e" fill-opacity="0.61"/><circle cx="71.8" cy="112.1" r="1.6" fill="#ff7f0e" fill-opacity="0.61"/><circle cx="78.6" cy="119.4" r="1.6" fill="#ff7f0e" fill-opacity="0.61"/><circle cx="96.7" cy="127.6" r="1.6" fill="#ff7f0e" fill-opacity="0.61"/><circle cx="95.7" cy="125.4" r="1.6" fill="#ff7f0e" fill-opacity="0.61"/><circle cx="77.4" cy="116.8" r="1.6" fill="#ff7f0e" fill-opacity="0.61"/><circle cx="99.8" cy="107.3" r="1.6" fill="#ff7f0e" fill-opacity="0.61"/><circle cx="164.6" cy="129.6" r="1.6" fill="#ff7f0e" fill-opacity="0.61"/><circle cx="103.0" cy="118.4" r="1.6" fill="#ff7f0e" fill-opacity="0.61"/><circle cx="104.6" cy="102.1" r="1.6" fill="#ff7f0e" fill-opacity="0.61"/><circle cx="118.4" cy="97.0" r="1.6" fill="#ff7f0e" fill-opacity="0.62"/><circle cx="90.3" cy="110.7" r="1.6" fill="#ff7f0e" fill-opacity="0.62"/><circle cx="118.5" cy="117.3" r="1.6" fill="#ff7f0e" fill-opacity="0.62"/><circle cx="103.7" cy="125.5" r="1.6" fill="#ff7f0e" fill-opacity="0.62"/><circle cx="96.7" cy="132.6" r="1.6" fill="#ff7f0e" fill-opacity="0.62"/><circle cx="70.3" cy="122.0" r="1.6" fill="#ff7f0e" fill-opacity="0.62"/><circle cx="64.2" cy="108.9" r="1.6" fill="#ff7f0e" fill-opacity="0.62"/><circle cx="100.8" cy="95.8" r="1.6" fill="#ff7f0e" fill-opacity="0.62"/><circle cx="67.1" cy="106.6" r="1.6" fill="#ff7f0e" fill-opacity="0.62"/><circle cx="111.0" cy="131.8" r="1.6" fill="#ff7f0e" fill-opacity="0.62"/><circle cx="100.1" cy="94.5" r="1.6" fill="#ff7f0e" fill-opacity="0.62"/><circle cx="96.9" cy="125.1" r="1.6" fill="#ff7f0e" fill-opacity="0.62"/><circle cx="104.6" cy="96.6" r="1.6" fill="#ff7f0e" fill-opacity="0.62"/><circle cx="97.1" cy="123.3" r="1.6" fill="#ff7f0e" fill-opacity="0.63"/><circle cx="71.2" cy="119.5" r="1.6" fill="#ff7f0e" fill-opacity="0.63"/><circle cx="73.6" cy="100.0" r="1.6" fill="#ff7f0e" fill-opacity="0.63"/><circle cx="126.7" cy="109.7" r="1.6" fill="#ff7f0e" fill-opacity="0.63"/><circle cx="129.3" cy="115.7" r="1.6" fill="#ff7f0e" fill-opacity="0.63"/><circle cx="73.0" cy="100.6" r="1.6" fill="#ff7f0e" fill-opacity="0.63"/><circle cx="116.5" cy="124.2" r="1.6" fill="#ff7f0e" fill-opacity="0.63"/><circle cx="75.3" cy="117.7" r="1.6" fill="#ff7f0e" fill-opacity="0.63"/><circle cx="102.6" cy="126.0" r="1.6" fill="#ff7f0e" fill-opacity="0.63"/><circle cx="122.9" cy="112.9" r="1.6" fill="#ff7f0e" fill-opacity="0.63"/><circle cx="67.0" cy="127.5" r="1.6" fill="#ff7f0e" fill-opacity="0.63"/><circle cx="126.7" cy="99.8" r="1.6" fill="#ff7f0e" fill-opacity="0.63"/><circle cx="115.3" cy="110.5" r="1.6" fill="#ff7f0e" fill-opacity="0.63"/><circle cx="108.1" cy="105.0" r="1.6" fill="#ff7f0e" fill-opacity="0.63"/><circle cx="117.0" cy="126.5" r="1.6" fill="#ff7f0e" fill-opacity="0.63"/><circle cx="121.2" cy="104.7" r="1.6" fill="#ff7f0e" fill-opacity="0.63"/><circle cx="104.0" cy="130.3" r="1.6" fill="#ff7f0e" fill-opacity="0.63"/><circle cx="139.2" cy="113.7" r="1.6" fill="#ff7f0e" fill-opacity="0.63"/><circle cx="125.0" cy="106.7" r="1.6" fill="#ff7f0e" fill-opacity="0.63"/><circle cx="85.2" cy="114.4" r="1.6" fill="#ff7f0e" fill-opacity="0.64"/><circle cx="133.8" cy="113.7" r="1.6" fill="#ff7f0e" fill-opacity="0.64"/><circle cx="134.1" cy="114.6" r="1.6" fill="#ff7f0e" fill-opacity="0.64"/><circle cx="118.8" cy="125.6" r="1.6" fill="#ff7f0e" fill-opacity="0.64"/><circle cx="81.5" cy="105.5" r="1.6" fill="#ff7f0e" fill-opacity="0.64"/><circle cx="105.4" cy="137.0" r="1.6" fill="#ff7f0e" fill-opacity="0.64"/><circle cx="68.4" cy="104.9" r="1.6" fill="#ff7f0e" fill-opacity="0.64"/><circle cx="110.3" cy="115.5" r="1.6" fill="#ff7f0e" fill-opacity="0.64"/><circle cx="86.6" cy="129.9" r="1.6" fill="#ff7f0e" fill-opacity="0.64"/><circle cx="116.7" cy="123.0" r="1.6" fill="#ff7f0e" fill-opacity="0.64"/><circle cx="107.4" cy="106.9" r="1.6" fill="#ff7f0e" fill-opacity="0.64"/><circle cx="107.4" cy="133.2" r="1.6" fill="#ff7f0e" fill-opacity="0.64"/><circle cx="117.7" cy="98.2" r="1.6" fill="#ff7f0e" fill-opacity="0.64"/><circle cx="126.6" cy="135.6" r="1.6" fill="#ff7f0e" fill-opacity="0.64"/><circle cx="71.3" cy="127.3" r="1.6" fill="#ff7f0e" fill-opacity="0.64"/><circle cx="99.7" cy="106.9" r="1.6" fill="#ff7f0e" fill-opacity="0.64"/><circle cx="113.0" cy="131.3" r="1.6" fill="#ff7f0e" fill-opacity="0.64"/><circle cx="126.5" cy="105.0" r="1.6" fill="#ff7f0e" fill-opacity="0.64"/><circle cx="89.3" cy="109.4" r="1.6" fill="#ff7f0e" fill-opacity="0.64"/><circle cx="137.6" cy="124.5" r="1.6" fill="#ff7f0e" fill-opacity="0.64"/><circle cx="124.6" cy="115.1" r="1.6" fill="#ff7f0e" fill-opacity="0.64"/><circle cx="116.6" cy="105.7" r="1.6" fill="#ff7f0e" fill-opacity="0.64"/><circle cx="92.0" cy="105.6" r="1.6" fill="#ff7f0e" fill-opacity="0.64"/><circle cx="132.7" cy="135.9" r="1.6" fill="#ff7f0e" fill-opacity="0.65"/><circle cx="89.2" cy="98.1" r="1.6" fill="#ff7f0e" fill-opacity="0.65"/><circle cx="107.7" cy="108.9" r="1.6" fill="#ff7f0e" fill-opacity="0.65"/><circle cx="104.6" cy="100.1" r="1.6" fill="#ff7f0e" fill-opacity="0.65"/><circle cx="81.4" cy="108.4" r="1.6" fill="#ff7f0e" fill-opacity="0.65"/><circle cx="81.4" cy="113.8" r="1.6" fill="#ff7f0e" fill-opacity="0.65"/><circle cx="109.3" cy="116.4" r="1.6" fill="#ff7f0e" fill-opacity="0.65"/><circle cx="77.8" cy="103.6" r="1.6" fill="#ff7f0e" fill-opacity="0.65"/><circle cx="89.1" cy="105.6" r="1.6" fill="#ff7f0e" fill-opacity="0.65"/><circle cx="141.3" cy="117.5" r="1.6" fill="#ff7f0e" fill-opacity="0.65"/><circle cx="79.1" cy="127.1" r="1.6" fill="#ff7f0e" fill-opacity="0.65"/><circle cx="106.7" cy="126.7" r="1.6" fill="#ff7f0e" fill-opacity="0.65"/><circle cx="138.8" cy="108.6" r="1.6" fill="#ff7f0e" fill-opacity="0.65"/><circle cx="86.7" cy="121.5" r="1.6" fill="#ff7f0e" fill-opacity="0.65"/><circle cx="88.1" cy="127.1" r="1.6" fill="#ff7f0e" fill-opacity="0.66"/><circle cx="76.0" cy="101.1" r="1.6" fill="#ff7f0e" fill-opacity="0.66"/><circle cx="74.1" cy="116.0" r="1.6" fill="#ff7f0e" fill-opacity="0.66"/><circle cx="106.4" cy="126.2" r="1.6" fill="#ff7f0e" fill-opacity="0.66"/><circle cx="82.8" cy="98.1" r="1.6" fill="#ff7f0e" fill-opacity="0.66"/><circle cx="133.8" cy="109.7" r="1.6" fill="#ff7f0e" fill-opacity="0.66"/><circle cx="91.3" cy="129.3" r="1.6" fill="#ff7f0e" fill-opacity="0.66"/><circle cx="127.0" cy="109.6" r="1.6" fill="#ff7f0e" fill-opacity="0.66"/><circle cx="116.6" cy="125.0" r="1.6" fill="#ff7f0e" fill-opacity="0.66"/><circle cx="143.9" cy="125.4" r="1.6" fill="#ff7f0e" fill-opacity="0.66"/><circle cx="65.4" cy="117.7" r="1.6" fill="#ff7f0e" fill-opacity="0.66"/><circle cx="61.7" cy="136.5" r="1.6" fill="#ff7f0e" fill-opacity="0.66"/><circle cx="90.6" cy="134.2" r="1.6" fill="#ff7f0e" fill-opacity="0.66"/><circle cx="90.7" cy="122.2" r="1.6" fill="#ff7f0e" fill-opacity="0.66"/><circle cx="106.9" cy="139.4" r="1.6" fill="#ff7f0e" fill-opacity="0.66"/><circle cx="143.5" cy="122.4" r="1.6" fill="#ff7f0e" fill-opacity="0.66"/><circle cx="102.0" cy="133.2" r="1.6" fill="#ff7f0e" fill-opacity="0.66"/><circle cx="112.6" cy="97.2" r="1.6" fill="#ff7f0e" fill-opacity="0.66"/><circle cx="88.2" cy="143.0" r="1.6" fill="#ff7f0e" fill-opacity="0.66"/><circle cx="134.8" cy="107.6" r="1.6" fill="#ff7f0e" fill-opacity="0.66"/><circle cx="81.0" cy="99.8" r="1.6" fill="#ff7f0e" fill-opacity="0.66"/><circle cx="132.3" cy="102.7" r="1.6" fill="#ff7f0e" fill-opacity="0.66"/><circle cx="100.6" cy="102.3" r="1.6" fill="#ff7f0e" fill-opacity="0.66"/><circle cx="59.2" cy="130.2" r="1.6" fill="#ff7f0e" fill-opacity="0.66"/><circle cx="143.2" cy="130.2" r="1.6" fill="#ff7f0e" fill-opacity="0.66"/><circle cx="114.9" cy="116.3" r="1.6" fill="#ff7f0e" fill-opacity="0.66"/><circle cx="114.5" cy="143.8" r="1.6" fill="#ff7f0e" fill-opacity="0.66"/><circle cx="126.0" cy="110.1" r="1.6" fill="#ff7f0e" fill-opacity="0.66"/><circle cx="89.4" cy="145.8" r="1.6" fill="#ff7f0e" fill-opacity="0.66"/><circle cx="100.8" cy="127.0" r="1.6" fill="#ff7f0e" fill-opacity="0.66"/><circle cx="78.5" cy="140.3" r="1.6" fill="#ff7f0e" fill-opacity="0.67"/><circle cx="103.9" cy="97.5" r="1.6" fill="#ff7f0e" fill-opacity="0.67"/><circle cx="86.7" cy="100.0" r="1.6" fill="#ff7f0e" fill-opacity="0.67"/><circle cx="98.8" cy="101.9" r="1.6" fill="#ff7f0e" fill-opacity="0.67"/><circle cx="105.9" cy="130.4" r="1.6" fill="#ff7f0e" fill-opacity="0.67"/><circle cx="116.6" cy="106.1" r="1.6" fill="#ff7f0e" fill-opacity="0.67"/><circle cx="102.5" cy="144.6" r="1.6" fill="#ff7f0e" fill-opacity="0.67"/><circle cx="84.5" cy="97.3" r="1.6" fill="#ff7f0e" fill-opacity="0.67"/><circle cx="114.1" cy="144.6" r="1.6" fill="#ff7f0e" fill-opacity="0.67"/><circle cx="68.1" cy="127.3" r="1.6" fill="#ff7f0e" fill-opacity="0.67"/><circle cx="103.6" cy="118.4" r="1.6" fill="#ff7f0e" fill-opacity="0.67"/><circle cx="106.1" cy="141.4" r="1.6" fill="#ff7f0e" fill-opacity="0.67"/><circle cx="79.7" cy="145.4" r="1.6" fill="#ff7f0e" fill-opacity="0.67"/><circle cx="142.7" cy="126.5" r="1.6" fill="#ff7f0e" fill-opacity="0.67"/><circle cx="98.3" cy="148.6" r="1.6" fill="#ff7f0e" fill-opacity="0.67"/><circle cx="80.9" cy="134.7" r="1.6" fill="#ff7f0e" fill-opacity="0.67"/><circle cx="123.2" cy="108.2" r="1.6" fill="#ff7f0e" fill-opacity="0.67"/><circle cx="132.3" cy="112.1" r="1.6" fill="#ff7f0e" fill-opacity="0.67"/><circle cx="112.3" cy="118.8" r="1.6" fill="#ff7f0e" fill-opacity="0.67"/><circle cx="52.1" cy="111.8" r="1.6" fill="#ff7f0e" fill-opacity="0.67"/><circle cx="109.4" cy="124.3" r="1.6" fill="#ff7f0e" fill-opacity="0.67"/><circle cx="136.2" cy="133.1" r="1.6" fill="#ff7f0e" fill-opacity="0.67"/><circle cx="115.4" cy="101.7" r="1.6" fill="#ff7f0e" fill-opacity="0.67"/><circle cx="120.3" cy="127.6" r="1.6" fill="#ff7f0e" fill-opacity="0.67"/><circle cx="55.7" cy="113.7" r="1.6" fill="#ff7f0e" fill-opacity="0.68"/><circle cx="83.3" cy="129.1" r="1.6" fill="#ff7f0e" fill-opacity="0.68"/><circle cx="94.3" cy="112.1" r="1.6" fill="#ff7f0e" fill-opacity="0.68"/><circle cx="99.9" cy="107.3" r="1.6" fill="#ff7f0e" fill-opacity="0.68"/><circle cx="140.3" cy="140.4" r="1.6" fill="#ff7f0e" fill-opacity="0.68"/><circle cx="102.9" cy="110.1" r="1.6" fill="#ff7f0e" fill-opacity="0.68"/><circle cx="130.6" cy="129.2" r="1.6" fill="#ff7f0e" fill-opacity="0.68"/><circle cx="117.4" cy="108.2" r="1.6" fill="#ff7f0e" fill-opacity="0.68"/><circle cx="113.0" cy="127.7" r="1.6" fill="#ff7f0e" fill-opacity="0.68"/><circle cx="109.4" cy="125.8" r="1.6" fill="#ff7f0e" fill-opacity="0.68"/><circle cx="50.8" cy="133.9" r="1.6" fill="#ff7f0e" fill-opacity="0.68"/><circle cx="121.2" cy="136.8" r="1.6" fill="#ff7f0e" fill-opacity="0.68"/><circle cx="110.1" cy="138.7" r="1.6" fill="#ff7f0e" fill-opacity="0.68"/><circle cx="87.0" cy="102.1" r="1.6" fill="#ff7f0e" fill-opacity="0.68"/><circle cx="105.4" cy="131.2" r="1.6" fill="#ff7f0e" fill-opacity="0.68"/><circle cx="136.8" cy="133.4" r="1.6" fill="#ff7f0e" fill-opacity="0.68"/><circle cx="152.7" cy="125.8" r="1.6" fill="#ff7f0e" fill-opacity="0.68"/><circle cx="60.6" cy="111.9" r="1.6" fill="#ff7f0e" fill-opacity="0.68"/><circle cx="100.1" cy="150.0" r="1.6" fill="#ff7f0e" fill-opacity="0.68"/><circle cx="51.5" cy="131.0" r="1.6" fill="#ff7f0e" fill-opacity="0.68"/><circle cx="96.4" cy="129.1" r="1.6" fill="#ff7f0e" fill-opacity="0.68"/><circle cx="69.7" cy="108.8" r="1.6" fill="#ff7f0e" fill-opacity="0.69"/><circle cx="108.8" cy="105.3" r="1.6" fill="#ff7f0e" fill-opacity="0.69"/><circle cx="76.3" cy="107.2" r="1.6" fill="#ff7f0e" fill-opacity="0.69"/><circle cx="145.8" cy="129.1" r="1.6" fill="#ff7f0e" fill-opacity="0.69"/><circle cx="96.6" cy="146.0" r="1.6" fill="#ff7f0e" fill-opacity="0.69"/><circle cx="92.7" cy="98.3" r="1.6" fill="#ff7f0e" fill-opacity="0.69"/><circle cx="69.1" cy="127.6" r="1.6" fill="#ff7f0e" fill-opacity="0.69"/><circle cx="68.7" cy="146.9" r="1.6" fill="#ff7f0e" fill-opacity="0.69"/><circle cx="108.4" cy="126.5" r="1.6" fill="#ff7f0e" fill-opacity="0.69"/><circle cx="76.4" cy="114.9" r="1.6" fill="#ff7f0e" fill-opacity="0.69"/><circle cx="65.9" cy="107.2" r="1.6" fill="#ff7f0e" fill-opacity="0.69"/><circle cx="102.2" cy="118.5" r="1.6" fill="#ff7f0e" fill-opacity="0.69"/><circle cx="81.6" cy="114.3" r="1.6" fill="#ff7f0e" fill-opacity="0.69"/><circle cx="70.3" cy="142.5" r="1.6" fill="#ff7f0e" fill-opacity="0.69"/><circle cx="85.0" cy="102.1" r="1.6" fill="#ff7f0e" fill-opacity="0.69"/><circle cx="91.3" cy="100.7" r="1.6" fill="#ff7f0e" fill-opacity="0.69"/><circle cx="117.9" cy="102.2" r="1.6" fill="#ff7f0e" fill-opacity="0.69"/><circle cx="89.8" cy="112.2" r="1.6" fill="#ff7f0e" fill-opacity="0.69"/><circle cx="112.4" cy="104.8" r="1.6" fill="#ff7f0e" fill-opacity="0.69"/><circle cx="142.4" cy="114.6" r="1.6" fill="#ff7f0e" fill-opacity="0.69"/><circle cx="125.1" cy="124.8" r="1.6" fill="#ff7f0e" fill-opacity="0.69"/><circle cx="85.7" cy="130.8" r="1.6" fill="#ff7f0e" fill-opacity="0.69"/><circle cx="133.0" cy="104.0" r="1.6" fill="#ff7f0e" fill-opacity="0.69"/><circle cx="113.0" cy="145.2" r="1.6" fill="#ff7f0e" fill-opacity="0.69"/><circle cx="117.1" cy="150.9" r="1.6" fill="#ff7f0e" fill-opacity="0.69"/><circle cx="125.6" cy="108.2" r="1.6" fill="#ff7f0e" fill-opacity="0.69"/><circle cx="55.1" cy="138.0" r="1.6" fill="#ff7f0e" fill-opacity="0.69"/><circle cx="113.9" cy="118.5" r="1.6" fill="#ff7f0e" fill-opacity="0.69"/><circle cx="99.2" cy="119.2" r="1.6" fill="#ff7f0e" fill-opacity="0.69"/><circle cx="64.0" cy="127.8" r="1.6" fill="#ff7f0e" fill-opacity="0.69"/><circle cx="127.3" cy="118.3" r="1.6" fill="#ff7f0e" fill-opacity="0.69"/><circle cx="93.6" cy="130.2" r="1.6" fill="#ff7f0e" fill-opacity="0.70"/><circle cx="109.3" cy="139.2" r="1.6" fill="#ff7f0e" fill-opacity="0.70"/><circle cx="115.8" cy="118.6" r="1.6" fill="#ff7f0e" fill-opacity="0.70"/><circle cx="139.6" cy="119.7" r="1.6" fill="#ff7f0e" fill-opacity="0.70"/><circle cx="83.0" cy="127.1" r="1.6" fill="#ff7f0e" fill-opacity="0.70"/><circle cx="114.5" cy="127.9" r="1.6" fill="#ff7f0e" fill-opacity="0.70"/><circle cx="110.3" cy="115.4" r="1.6" fill="#ff7f0e" fill-opacity="0.70"/><circle cx="87.3" cy="108.9" r="1.6" fill="#ff7f0e" fill-opacity="0.70"/><circle cx="55.6" cy="137.7" r="1.6" fill="#ff7f0e" fill-opacity="0.70"/><circle cx="116.3" cy="134.5" r="1.6" fill="#ff7f0e" fill-opacity="0.70"/><circle cx="107.0" cy="100.3" r="1.6" fill="#ff7f0e" fill-opacity="0.70"/><circle cx="113.5" cy="136.3" r="1.6" fill="#ff7f0e" fill-opacity="0.70"/><circle cx="131.1" cy="150.9" r="1.6" fill="#ff7f0e" fill-opacity="0.70"/><circle cx="62.9" cy="116.6" r="1.6" fill="#ff7f0e" fill-opacity="0.70"/><circle cx="144.4" cy="112.1" r="1.6" fill="#ff7f0e" fill-opacity="0.70"/><circle cx="46.4" cy="126.6" r="1.6" fill="#ff7f0e" fill-opacity="0.70"/><circle cx="81.7" cy="125.0" r="1.6" fill="#ff7f0e" fill-opacity="0.70"/><circle cx="68.5" cy="117.4" r="1.6" fill="#ff7f0e" fill-opacity="0.70"/><circle cx="97.9" cy="137.4" r="1.6" fill="#ff7f0e" fill-opacity="0.70"/><circle cx="116.3" cy="149.1" r="1.6" fill="#ff7f0e" fill-opacity="0.70"/><circle cx="119.3" cy="102.7" r="1.6" fill="#ff7f0e" fill-opacity="0.70"/><circle cx="71.9" cy="106.7" r="1.6" fill="#ff7f0e" fill-opacity="0.70"/><circle cx="61.8" cy="112.0" r="1.6" fill="#ff7f0e" fill-opacity="0.70"/><circle cx="125.3" cy="124.5" r="1.6" fill="#ff7f0e" fill-opacity="0.70"/><circle cx="84.7" cy="105.6" r="1.6" fill="#ff7f0e" fill-opacity="0.70"/><circle cx="77.4" cy="135.2" r="1.6" fill="#ff7f0e" fill-opacity="0.70"/><circle cx="90.5" cy="111.3" r="1.6" fill="#ff7f0e" fill-opacity="0.70"/><circle cx="68.2" cy="113.9" r="1.6" fill="#ff7f0e" fill-opacity="0.70"/><circle cx="145.9" cy="119.7" r="1.6" fill="#ff7f0e" fill-opacity="0.70"/><circle cx="79.2" cy="131.7" r="1.6" fill="#ff7f0e" fill-opacity="0.71"/><circle cx="85.7" cy="143.3" r="1.6" fill="#ff7f0e" fill-opacity="0.71"/><circle cx="76.2" cy="105.6" r="1.6" fill="#ff7f0e" fill-opacity="0.71"/><circle cx="136.0" cy="120.5" r="1.6" fill="#ff7f0e" fill-opacity="0.71"/><circle cx="118.8" cy="151.9" r="1.6" fill="#ff7f0e" fill-opacity="0.71"/><circle cx="123.7" cy="103.8" r="1.6" fill="#ff7f0e" fill-opacity="0.71"/><circle cx="96.3" cy="136.9" r="1.6" fill="#ff7f0e" fill-opacity="0.71"/><circle cx="116.9" cy="146.4" r="1.6" fill="#ff7f0e" fill-opacity="0.71"/><circle cx="57.1" cy="135.1" r="1.6" fill="#ff7f0e" fill-opacity="0.71"/><circle cx="63.8" cy="131.2" r="1.6" fill="#ff7f0e" fill-opacity="0.71"/><circle cx="97.4" cy="120.2" r="1.6" fill="#ff7f0e" fill-opacity="0.71"/><circle cx="58.8" cy="123.1" r="1.6" fill="#ff7f0e" fill-opacity="0.71"/><circle cx="97.0" cy="154.9" r="1.6" fill="#ff7f0e" fill-opacity="0.71"/><circle cx="106.3" cy="150.0" r="1.6" fill="#ff7f0e" fill-opacity="0.71"/><circle cx="107.2" cy="138.9" r="1.6" fill="#ff7f0e" fill-opacity="0.71"/><circle cx="120.1" cy="103.8" r="1.6" fill="#ff7f0e" fill-opacity="0.71"/><circle cx="64.7" cy="136.5" r="1.6" fill="#ff7f0e" fill-opacity="0.71"/><circle cx="106.6" cy="120.4" r="1.6" fill="#ff7f0e" fill-opacity="0.71"/><circle cx="112.6" cy="125.4" r="1.6" fill="#ff7f0e" fill-opacity="0.71"/><circle cx="115.8" cy="121.5" r="1.6" fill="#ff7f0e" fill-opacity="0.71"/><circle cx="75.6" cy="142.6" r="1.6" fill="#ff7f0e" fill-opacity="0.71"/><circle cx="66.0" cy="139.6" r="1.6" fill="#ff7f0e" fill-opacity="0.71"/><circle cx="131.1" cy="140.7" r="1.6" fill="#ff7f0e" fill-opacity="0.72"/><circle cx="67.3" cy="128.2" r="1.6" fill="#ff7f0e" fill-opacity="0.72"/><circle cx="115.4" cy="119.7" r="1.6" fill="#ff7f0e" fill-opacity="0.72"/><circle cx="136.0" cy="151.0" r="1.6" fill="#ff7f0e" fill-opacity="0.72"/><circle cx="49.2" cy="123.7" r="1.6" fill="#ff7f0e" fill-opacity="0.72"/><circle cx="91.2" cy="132.0" r="1.6" fill="#ff7f0e" fill-opacity="0.72"/><circle cx="123.0" cy="154.9" r="1.6" fill="#ff7f0e" fill-opacity="0.72"/><circle cx="91.4" cy="124.5" r="1.6" fill="#ff7f0e" fill-opacity="0.72"/><circle cx="78.3" cy="142.8" r="1.6" fill="#ff7f0e" fill-opacity="0.72"/><circle cx="118.8" cy="129.0" r="1.6" fill="#ff7f0e" fill-opacity="0.72"/><circle cx="147.3" cy="144.8" r="1.6" fill="#ff7f0e" fill-opacity="0.72"/><circle cx="87.5" cy="139.7" r="1.6" fill="#ff7f0e" fill-opacity="0.72"/><circle cx="79.2" cy="120.2" r="1.6" fill="#ff7f0e" fill-opacity="0.72"/><circle cx="110.8" cy="107.8" r="1.6" fill="#ff7f0e" fill-opacity="0.72"/><circle cx="57.0" cy="128.7" r="1.6" fill="#ff7f0e" fill-opacity="0.72"/><circle cx="138.8" cy="115.5" r="1.6" fill="#ff7f0e" fill-opacity="0.72"/><circle cx="132.2" cy="120.8" r="1.6" fill="#ff7f0e" fill-opacity="0.72"/><circle cx="103.0" cy="106.1" r="1.6" fill="#ff7f0e" fill-opacity="0.72"/><circle cx="101.7" cy="117.3" r="1.6" fill="#ff7f0e" fill-opacity="0.72"/><circle cx="94.6" cy="134.6" r="1.6" fill="#ff7f0e" fill-opacity="0.73"/><circle cx="83.3" cy="151.7" r="1.6" fill="#ff7f0e" fill-opacity="0.73"/><circle cx="105.9" cy="110.6" r="1.6" fill="#ff7f0e" fill-opacity="0.73"/><circle cx="125.5" cy="151.0" r="1.6" fill="#ff7f0e" fill-opacity="0.73"/><circle cx="118.6" cy="136.1" r="1.6" fill="#ff7f0e" fill-opacity="0.73"/><circle cx="154.2" cy="129.4" r="1.6" fill="#ff7f0e" fill-opacity="0.73"/><circle cx="112.1" cy="110.7" r="1.6" fill="#ff7f0e" fill-opacity="0.73"/><circle cx="92.5" cy="110.7" r="1.6" fill="#ff7f0e" fill-opacity="0.73"/><circle cx="80.5" cy="131.3" r="1.6" fill="#ff7f0e" fill-opacity="0.73"/><circle cx="99.4" cy="142.8" r="1.6" fill="#ff7f0e" fill-opacity="0.73"/><circle cx="126.8" cy="121.6" r="1.6" fill="#ff7f0e" fill-opacity="0.73"/><circle cx="139.3" cy="115.5" r="1.6" fill="#ff7f0e" fill-opacity="0.73"/><circle cx="138.7" cy="145.9" r="1.6" fill="#ff7f0e" fill-opacity="0.73"/><circle cx="66.5" cy="121.2" r="1.6" fill="#ff7f0e" fill-opacity="0.73"/><circle cx="101.1" cy="147.0" r="1.6" fill="#ff7f0e" fill-opacity="0.73"/><circle cx="109.9" cy="157.0" r="1.6" fill="#ff7f0e" fill-opacity="0.73"/><circle cx="71.3" cy="146.1" r="1.6" fill="#ff7f0e" fill-opacity="0.73"/><circle cx="113.6" cy="141.5" r="1.6" fill="#ff7f0e" fill-opacity="0.73"/><circle cx="72.8" cy="138.6" r="1.6" fill="#ff7f0e" fill-opacity="0.73"/><circle cx="135.7" cy="145.0" r="1.6" fill="#ff7f0e" fill-opacity="0.73"/><circle cx="106.2" cy="112.7" r="1.6" fill="#ff7f0e" fill-opacity="0.73"/><circle cx="92.7" cy="127.7" r="1.6" fill="#ff7f0e" fill-opacity="0.73"/><circle cx="118.4" cy="117.5" r="1.6" fill="#ff7f0e" fill-opacity="0.73"/><circle cx="53.6" cy="129.9" r="1.6" fill="#ff7f0e" fill-opacity="0.73"/><circle cx="95.1" cy="150.9" r="1.6" fill="#ff7f0e" fill-opacity="0.73"/><circle cx="79.8" cy="145.4" r="1.6" fill="#ff7f0e" fill-opacity="0.73"/><circle cx="104.6" cy="152.1" r="1.6" fill="#ff7f0e" fill-opacity="0.73"/><circle cx="114.0" cy="129.7" r="1.6" fill="#ff7f0e" fill-opacity="0.73"/><circle cx="146.7" cy="140.7" r="1.6" fill="#ff7f0e" fill-opacity="0.73"/><circle cx="154.5" cy="137.3" r="1.6" fill="#ff7f0e" fill-opacity="0.73"/><circle cx="124.3" cy="107.5" r="1.6" fill="#ff7f0e" fill-opacity="0.73"/><circle cx="113.8" cy="153.2" r="1.6" fill="#ff7f0e" fill-opacity="0.73"/><circle cx="115.6" cy="108.1" r="1.6" fill="#ff7f0e" fill-opacity="0.73"/><circle cx="151.7" cy="139.3" r="1.6" fill="#ff7f0e" fill-opacity="0.74"/><circle cx="118.6" cy="134.7" r="1.6" fill="#ff7f0e" fill-opacity="0.74"/><circle cx="101.2" cy="135.9" r="1.6" fill="#ff7f0e" fill-opacity="0.74"/><circle cx="77.4" cy="107.6" r="1.6" fill="#ff7f0e" fill-opacity="0.74"/><circle cx="58.0" cy="141.7" r="1.6" fill="#ff7f0e" fill-opacity="0.74"/><circle cx="111.6" cy="149.4" r="1.6" fill="#ff7f0e" fill-opacity="0.74"/><circle cx="124.0" cy="142.7" r="1.6" fill="#ff7f0e" fill-opacity="0.74"/><circle cx="115.7" cy="124.1" r="1.6" fill="#ff7f0e" fill-opacity="0.74"/><circle cx="112.6" cy="114.5" r="1.6" fill="#ff7f0e" fill-opacity="0.74"/><circle cx="130.5" cy="146.0" r="1.6" fill="#ff7f0e" fill-opacity="0.74"/><circle cx="69.0" cy="129.0" r="1.6" fill="#ff7f0e" fill-opacity="0.74"/><circle cx="66.7" cy="142.4" r="1.6" fill="#ff7f0e" fill-opacity="0.74"/><circle cx="131.1" cy="149.8" r="1.6" fill="#ff7f0e" fill-opacity="0.74"/><circle cx="87.8" cy="130.7" r="1.6" fill="#ff7f0e" fill-opacity="0.74"/><circle cx="80.5" cy="128.7" r="1.6" fill="#ff7f0e" fill-opacity="0.74"/><circle cx="119.8" cy="124.3" r="1.6" fill="#ff7f0e" fill-opacity="0.74"/><circle cx="141.5" cy="138.7" r="1.6" fill="#ff7f0e" fill-opacity="0.74"/><circle cx="92.6" cy="115.1" r="1.6" fill="#ff7f0e" fill-opacity="0.74"/><circle cx="146.9" cy="124.7" r="1.6" fill="#ff7f0e" fill-opacity="0.74"/><circle cx="81.1" cy="152.0" r="1.6" fill="#ff7f0e" fill-opacity="0.74"/><circle cx="70.2" cy="115.4" r="1.6" fill="#ff7f0e" fill-opacity="0.74"/><circle cx="63.1" cy="129.8" r="1.6" fill="#ff7f0e" fill-opacity="0.74"/><circle cx="148.4" cy="129.3" r="1.6" fill="#ff7f0e" fill-opacity="0.74"/><circle cx="83.8" cy="145.8" r="1.6" fill="#ff7f0e" fill-opacity="0.74"/><circle cx="107.9" cy="129.8" r="1.6" fill="#ff7f0e" fill-opacity="0.74"/><circle cx="133.3" cy="129.5" r="1.6" fill="#ff7f0e" fill-opacity="0.75"/><circle cx="147.8" cy="136.7" r="1.6" fill="#ff7f0e" fill-opacity="0.75"/><circle cx="102.3" cy="153.3" r="1.6" fill="#ff7f0e" fill-opacity="0.75"/><circle cx="119.1" cy="147.3" r="1.6" fill="#ff7f0e" fill-opacity="0.75"/><circle cx="94.5" cy="156.2" r="1.6" fill="#ff7f0e" fill-opacity="0.75"/><circle cx="137.6" cy="121.5" r="1.6" fill="#ff7f0e" fill-opacity="0.75"/><circle cx="83.7" cy="134.9" r="1.6" fill="#ff7f0e" fill-opacity="0.75"/><circle cx="97.4" cy="160.9" r="1.6" fill="#ff7f0e" fill-opacity="0.75"/><circle cx="97.5" cy="127.3" r="1.6" fill="#ff7f0e" fill-opacity="0.75"/><circle cx="143.1" cy="121.6" r="1.6" fill="#ff7f0e" fill-opacity="0.75"/><circle cx="122.6" cy="134.1" r="1.6" fill="#ff7f0e" fill-opacity="0.75"/><circle cx="107.1" cy="128.5" r="1.6" fill="#ff7f0e" fill-opacity="0.75"/><circle cx="79.5" cy="146.7" r="1.6" fill="#ff7f0e" fill-opacity="0.75"/><circle cx="138.3" cy="139.3" r="1.6" fill="#ff7f0e" fill-opacity="0.75"/><circle cx="138.4" cy="125.7" r="1.6" fill="#ff7f0e" fill-opacity="0.75"/><circle cx="145.2" cy="123.2" r="1.6" fill="#ff7f0e" fill-opacity="0.75"/><circle cx="147.5" cy="131.5" r="1.6" fill="#ff7f0e" fill-opacity="0.75"/><circle cx="96.9" cy="159.4" r="1.6" fill="#ff7f0e" fill-opacity="0.75"/><circle cx="95.5" cy="141.6" r="1.6" fill="#ff7f0e" fill-opacity="0.75"/><circle cx="75.4" cy="126.2" r="1.6" fill="#ff7f0e" fill-opacity="0.75"/><circle cx="86.4" cy="160.5" r="1.6" fill="#ff7f0e" fill-opacity="0.75"/><circle cx="114.9" cy="139.8" r="1.6" fill="#ff7f0e" fill-opacity="0.75"/><circle cx="97.4" cy="139.4" r="1.6" fill="#ff7f0e" fill-opacity="0.75"/><circle cx="132.2" cy="133.3" r="1.6" fill="#ff7f0e" fill-opacity="0.76"/><circle cx="138.5" cy="137.6" r="1.6" fill="#ff7f0e" fill-opacity="0.76"/><circle cx="91.3" cy="144.1" r="1.6" fill="#ff7f0e" fill-opacity="0.76"/><circle cx="74.1" cy="125.5" r="1.6" fill="#ff7f0e" fill-opacity="0.76"/><circle cx="116.9" cy="145.0" r="1.6" fill="#ff7f0e" fill-opacity="0.76"/><circle cx="64.8" cy="152.9" r="1.6" fill="#ff7f0e" fill-opacity="0.76"/><circle cx="53.9" cy="127.5" r="1.6" fill="#ff7f0e" fill-opacity="0.76"/><circle cx="91.6" cy="118.4" r="1.6" fill="#ff7f0e" fill-opacity="0.76"/><circle cx="63.3" cy="134.1" r="1.6" fill="#ff7f0e" fill-opacity="0.76"/><circle cx="111.8" cy="123.9" r="1.6" fill="#ff7f0e" fill-opacity="0.76"/><circle cx="78.9" cy="136.8" r="1.6" fill="#ff7f0e" fill-opacity="0.76"/><circle cx="88.8" cy="124.2" r="1.6" fill="#ff7f0e" fill-opacity="0.76"/><circle cx="68.5" cy="130.9" r="1.6" fill="#ff7f0e" fill-opacity="0.76"/><circle cx="107.1" cy="149.7" r="1.6" fill="#ff7f0e" fill-opacity="0.76"/><circle cx="63.9" cy="142.7" r="1.6" fill="#ff7f0e" fill-opacity="0.76"/><circle cx="142.7" cy="135.5" r="1.6" fill="#ff7f0e" fill-opacity="0.76"/><circle cx="94.6" cy="140.3" r="1.6" fill="#ff7f0e" fill-opacity="0.76"/><circle cx="112.5" cy="123.4" r="1.6" fill="#ff7f0e" fill-opacity="0.76"/><circle cx="88.2" cy="151.8" r="1.6" fill="#ff7f0e" fill-opacity="0.76"/><circle cx="110.9" cy="150.3" r="1.6" fill="#ff7f0e" fill-opacity="0.76"/><circle cx="59.7" cy="135.3" r="1.6" fill="#ff7f0e" fill-opacity="0.76"/><circle cx="63.4" cy="132.6" r="1.6" fill="#ff7f0e" fill-opacity="0.76"/><circle cx="69.8" cy="124.7" r="1.6" fill="#ff7f0e" fill-opacity="0.76"/><circle cx="101.7" cy="116.4" r="1.6" fill="#ff7f0e" fill-opacity="0.76"/><circle cx="79.7" cy="147.2" r="1.6" fill="#ff7f0e" fill-opacity="0.77"/><circle cx="99.0" cy="152.2" r="1.6" fill="#ff7f0e" fill-opacity="0.77"/><circle cx="146.1" cy="138.2" r="1.6" fill="#ff7f0e" fill-opacity="0.77"/><circle cx="99.3" cy="152.6" r="1.6" fill="#ff7f0e" fill-opacity="0.77"/><circle cx="92.8" cy="142.2" r="1.6" fill="#ff7f0e" fill-opacity="0.77"/><circle cx="124.2" cy="125.6" r="1.6" fill="#ff7f0e" fill-opacity="0.77"/><circle cx="148.9" cy="144.2" r="1.6" fill="#ff7f0e" fill-opacity="0.77"/><circle cx="107.3" cy="163.4" r="1.6" fill="#ff7f0e" fill-opacity="0.77"/><circle cx="108.4" cy="142.4" r="1.6" fill="#ff7f0e" fill-opacity="0.77"/><circle cx="58.0" cy="129.5" r="1.6" fill="#ff7f0e" fill-opacity="0.77"/><circle cx="99.2" cy="148.2" r="1.6" fill="#ff7f0e" fill-opacity="0.77"/><circle cx="73.2" cy="153.8" r="1.6" fill="#ff7f0e" fill-opacity="0.77"/><circle cx="109.7" cy="115.7" r="1.6" fill="#ff7f0e" fill-opacity="0.77"/><circle cx="115.1" cy="147.6" r="1.6" fill="#ff7f0e" fill-opacity="0.77"/><circle cx="61.0" cy="132.3" r="1.6" fill="#ff7f0e" fill-opacity="0.77"/><circle cx="73.6" cy="138.0" r="1.6" fill="#ff7f0e" fill-opacity="0.77"/><circle cx="134.3" cy="137.3" r="1.6" fill="#ff7f0e" fill-opacity="0.77"/><circle cx="75.2" cy="137.4" r="1.6" fill="#ff7f0e" fill-opacity="0.77"/><circle cx="98.3" cy="133.0" r="1.6" fill="#ff7f0e" fill-opacity="0.77"/><circle cx="101.4" cy="138.5" r="1.6" fill="#ff7f0e" fill-opacity="0.77"/><circle cx="114.7" cy="163.5" r="1.6" fill="#ff7f0e" fill-opacity="0.77"/><circle cx="74.9" cy="161.5" r="1.6" fill="#ff7f0e" fill-opacity="0.78"/><circle cx="55.5" cy="128.0" r="1.6" fill="#ff7f0e" fill-opacity="0.78"/><circle cx="146.8" cy="145.0" r="1.6" fill="#ff7f0e" fill-opacity="0.78"/><circle cx="118.2" cy="118.3" r="1.6" fill="#ff7f0e" fill-opacity="0.78"/><circle cx="144.5" cy="150.4" r="1.6" fill="#ff7f0e" fill-opacity="0.78"/><circle cx="111.8" cy="149.7" r="1.6" fill="#ff7f0e" fill-opacity="0.78"/><circle cx="129.0" cy="133.7" r="1.6" fill="#ff7f0e" fill-opacity="0.78"/><circle cx="141.2" cy="135.8" r="1.6" fill="#ff7f0e" fill-opacity="0.78"/><circle cx="141.8" cy="136.8" r="1.6" fill="#ff7f0e" fill-opacity="0.78"/><circle cx="73.6" cy="145.2" r="1.6" fill="#ff7f0e" fill-opacity="0.78"/><circle cx="72.5" cy="139.3" r="1.6" fill="#ff7f0e" fill-opacity="0.78"/><circle cx="58.1" cy="140.9" r="1.6" fill="#ff7f0e" fill-opacity="0.78"/><circle cx="68.2" cy="127.0" r="1.6" fill="#ff7f0e" fill-opacity="0.78"/><circle cx="113.5" cy="127.1" r="1.6" fill="#ff7f0e" fill-opacity="0.78"/><circle cx="109.6" cy="133.6" r="1.6" fill="#ff7f0e" fill-opacity="0.78"/><circle cx="104.9" cy="119.8" r="1.6" fill="#ff7f0e" fill-opacity="0.78"/><circle cx="90.5" cy="120.4" r="1.6" fill="#ff7f0e" fill-opacity="0.78"/><circle cx="80.3" cy="133.3" r="1.6" fill="#ff7f0e" fill-opacity="0.79"/><circle cx="85.0" cy="126.9" r="1.6" fill="#ff7f0e" fill-opacity="0.79"/><circle cx="85.6" cy="123.6" r="1.6" fill="#ff7f0e" fill-opacity="0.79"/><circle cx="128.5" cy="150.0" r="1.6" fill="#ff7f0e" fill-opacity="0.79"/><circle cx="81.5" cy="130.9" r="1.6" fill="#ff7f0e" fill-opacity="0.79"/><circle cx="125.6" cy="147.0" r="1.6" fill="#ff7f0e" fill-opacity="0.79"/><circle cx="104.7" cy="152.2" r="1.6" fill="#ff7f0e" fill-opacity="0.79"/><circle cx="119.5" cy="158.0" r="1.6" fill="#ff7f0e" fill-opacity="0.79"/><circle cx="85.7" cy="141.0" r="1.6" fill="#ff7f0e" fill-opacity="0.79"/><circle cx="144.1" cy="150.3" r="1.6" fill="#ff7f0e" fill-opacity="0.79"/><circle cx="100.1" cy="148.3" r="1.6" fill="#ff7f0e" fill-opacity="0.79"/><circle cx="96.1" cy="138.7" r="1.6" fill="#ff7f0e" fill-opacity="0.79"/><circle cx="113.4" cy="124.4" r="1.6" fill="#ff7f0e" fill-opacity="0.79"/><circle cx="107.1" cy="119.8" r="1.6" fill="#ff7f0e" fill-opacity="0.79"/><circle cx="129.1" cy="141.7" r="1.6" fill="#ff7f0e" fill-opacity="0.79"/><circle cx="103.8" cy="162.2" r="1.6" fill="#ff7f0e" fill-opacity="0.80"/><circle cx="60.8" cy="144.5" r="1.6" fill="#ff7f0e" fill-opacity="0.80"/><circle cx="80.8" cy="143.1" r="1.6" fill="#ff7f0e" fill-opacity="0.80"/><circle cx="145.6" cy="140.8" r="1.6" fill="#ff7f0e" fill-opacity="0.80"/><circle cx="83.1" cy="159.9" r="1.6" fill="#ff7f0e" fill-opacity="0.80"/><circle cx="73.9" cy="154.2" r="1.6" fill="#ff7f0e" fill-opacity="0.80"/><circle cx="141.5" cy="152.1" r="1.6" fill="#ff7f0e" fill-opacity="0.80"/><circle cx="80.9" cy="143.2" r="1.6" fill="#ff7f0e" fill-opacity="0.80"/><circle cx="80.0" cy="135.9" r="1.6" fill="#ff7f0e" fill-opacity="0.80"/><circle cx="83.5" cy="160.6" r="1.6" fill="#ff7f0e" fill-opacity="0.80"/><circle cx="84.8" cy="125.9" r="1.6" fill="#ff7f0e" fill-opacity="0.80"/><circle cx="106.6" cy="152.9" r="1.6" fill="#ff7f0e" fill-opacity="0.80"/><circle cx="108.8" cy="154.6" r="1.6" fill="#ff7f0e" fill-opacity="0.80"/><circle cx="98.7" cy="127.3" r="1.6" fill="#ff7f0e" fill-opacity="0.81"/><circle cx="86.9" cy="159.8" r="1.6" fill="#ff7f0e" fill-opacity="0.81"/><circle cx="139.1" cy="152.9" r="1.6" fill="#ff7f0e" fill-opacity="0.81"/><circle cx="75.0" cy="134.9" r="1.6" fill="#ff7f0e" fill-opacity="0.81"/><circle cx="96.8" cy="160.4" r="1.6" fill="#ff7f0e" fill-opacity="0.81"/><circle cx="69.4" cy="150.8" r="1.6" fill="#ff7f0e" fill-opacity="0.81"/><circle cx="87.7" cy="139.0" r="1.6" fill="#ff7f0e" fill-opacity="0.81"/><circle cx="94.1" cy="163.3" r="1.6" fill="#ff7f0e" fill-opacity="0.81"/><circle cx="103.2" cy="153.2" r="1.6" fill="#ff7f0e" fill-opacity="0.81"/><circle cx="65.2" cy="136.8" r="1.6" fill="#ff7f0e" fill-opacity="0.81"/><circle cx="131.2" cy="138.0" r="1.6" fill="#ff7f0e" fill-opacity="0.81"/><circle cx="119.1" cy="157.3" r="1.6" fill="#ff7f0e" fill-opacity="0.81"/><circle cx="81.5" cy="136.1" r="1.6" fill="#ff7f0e" fill-opacity="0.82"/><circle cx="111.6" cy="129.8" r="1.6" fill="#ff7f0e" fill-opacity="0.82"/><circle cx="104.6" cy="141.7" r="1.6" fill="#ff7f0e" fill-opacity="0.82"/><circle cx="102.1" cy="147.2" r="1.6" fill="#ff7f0e" fill-opacity="0.82"/><circle cx="116.3" cy="135.5" r="1.6" fill="#ff7f0e" fill-opacity="0.82"/><circle cx="94.0" cy="153.5" r="1.6" fill="#ff7f0e" fill-opacity="0.82"/><circle cx="84.0" cy="135.3" r="1.6" fill="#ff7f0e" fill-opacity="0.82"/><circle cx="107.8" cy="153.8" r="1.6" fill="#ff7f0e" fill-opacity="0.82"/><circle cx="92.0" cy="164.0" r="1.6" fill="#ff7f0e" fill-opacity="0.82"/><circle cx="107.2" cy="159.3" r="1.6" fill="#ff7f0e" fill-opacity="0.82"/><circle cx="74.8" cy="149.3" r="1.6" fill="#ff7f0e" fill-opacity="0.82"/><circle cx="80.1" cy="154.0" r="1.6" fill="#ff7f0e" fill-opacity="0.83"/><circle cx="85.0" cy="132.8" r="1.6" fill="#ff7f0e" fill-opacity="0.83"/><circle cx="80.2" cy="133.9" r="1.6" fill="#ff7f0e" fill-opacity="0.83"/><circle cx="113.8" cy="133.7" r="1.6" fill="#ff7f0e" fill-opacity="0.83"/><circle cx="110.3" cy="157.5" r="1.6" fill="#ff7f0e" fill-opacity="0.83"/><circle cx="76.9" cy="156.7" r="1.6" fill="#ff7f0e" fill-opacity="0.83"/><circle cx="85.2" cy="152.8" r="1.6" fill="#ff7f0e" fill-opacity="0.83"/><circle cx="125.0" cy="143.5" r="1.6" fill="#ff7f0e" fill-opacity="0.83"/><circle cx="83.1" cy="141.2" r="1.6" fill="#ff7f0e" fill-opacity="0.83"/><circle cx="111.8" cy="156.2" r="1.6" fill="#ff7f0e" fill-opacity="0.84"/><circle cx="115.2" cy="156.5" r="1.6" fill="#ff7f0e" fill-opacity="0.84"/><circle cx="117.6" cy="151.0" r="1.6" fill="#ff7f0e" fill-opacity="0.84"/><circle cx="166.4" cy="78.2" r="1.6" fill="#ff7f0e"/><rect x="125.9" y="9.6" width="80.0" height="32.8" rx="2.2" fill="#fff" fill-opacity="0.8" stroke="#d6d6d6" stroke-width="0.6"/><circle cx="139.7" cy="18.7" r="1.5" fill="#1f77b4"/><circle cx="139.7" cy="33.6" r="1.5" fill="#ff7f0e"/><text x="180.03" y="21.69" font-size="10.90" textLength="43.75" lengthAdjust="spacingAndGlyphs" text-anchor="middle" fill="#000" stroke="#000" stroke-width="0.15">Negative</text><text x="176.94" y="36.20" font-size="10.90" textLength="37.57" lengthAdjust="spacingAndGlyphs" text-anchor="middle" fill="#000" stroke="#000" stroke-width="0.15">Positive</text></svg><div class="lbl" style="left:4.600000000000001px;top:4.100000000000023px">C</div></div>
<div class="panel" style="left:288px;top:280px;width:247px;height:235px"><svg width="247" height="235" viewBox="0 0 247 235" font-family="Liberation Sans, sans-serif"><g transform="translate(-76.20 -29.10) scale(0.78083 0.79986)"><g><g><path d="M 0 345.6  L 460.8 345.6  L 460.8 0  L 0 0  z " style="fill: #ffffff"/> </g> <g><path d="M 103.10 307.58  L 369.21 307.58  L 369.21 41.47  L 103.10 41.47  z " style="fill: #ffffff"/> </g> <g><g><path d="M 123.19 241.96  L 211.07 168.30  L 209.85 62.07  L 117.77 129.27  " style="fill: #f2f2f2; opacity: 0.5; stroke: #f2f2f2; stroke-linejoin: miter"/> </g> </g> <g><g><path d="M 211.07 168.30  L 352.09 209.29  L 357.12 99.40  L 209.85 62.07  " style="fill: #e6e6e6; opacity: 0.5; stroke: #e6e6e6; stroke-linejoin: miter"/> </g> </g> <g><g><path d="M 123.19 241.96  L 272.67 290.79  L 352.09 209.29  L 211.07 168.30  " style="fill: #ececec; opacity: 0.5; stroke: #ececec; stroke-linejoin: miter"/> </g> </g> <g><g><path d="M 128.26 243.62  L 215.87 169.70  L 214.85 63.34  " style="fill: none; stroke: #b0b0b0; stroke-width: 0.8"/> <path d="M 152.06 251.39  L 238.40 176.25  L 238.35 69.29  " style="fill: none; stroke: #b0b0b0; stroke-width: 0.8"/> <path d="M 176.28 259.30  L 261.30 182.90  L 262.23 75.35  " style="fill: none; stroke: #b0b0b0; stroke-width: 0.8"/> <path d="M 200.93 267.35  L 284.56 189.66  L 286.52 81.50  " style="fill: none; stroke: #b0b0b0; stroke-width: 0.8"/> <path d="M 226.01 275.54  L 308.19 196.53  L 311.21 87.76  " style="fill: none; stroke: #b0b0b0; stroke-width: 0.8"/> <path d="M 251.53 283.88  L 332.22 203.51  L 336.33 94.13  " style="fill: none; stroke: #b0b0b0; stroke-width: 0.8"/> </g> </g> <g><g><path d="M 133.31 117.93  L 137.98 229.57  L 286.08 277.02  " style="fill: none; stroke: #b0b0b0; stroke-width: 0.8"/> <path d="M 146.81 108.07  L 150.84 218.79  L 297.73 265.07  " style="fill: none; stroke: #b0b0b0; stroke-width: 0.8"/> <path d="M 159.97 98.47  L 163.39 208.27  L 309.09 253.42  " style="fill: none; stroke: #b0b0b0; stroke-width: 0.8"/> <path d="M 172.81 89.10  L 175.65 198.00  L 320.16 242.05  " style="fill: none; stroke: #b0b0b0; stroke-width: 0.8"/> <path d="M 185.34 79.96  L 187.62 187.96  L 330.96 230.97  " style="fill: none; stroke: #b0b0b0; stroke-width: 0.8"/> <path d="M 197.56 71.03  L 199.31 178.16  L 341.50 220.16  " style="fill: none; stroke: #b0b0b0; stroke-width: 0.8"/> </g> </g> <g><g><path d="M 352.48 200.60  L 210.97 159.89  L 122.76 233.07  " style="fill: none; stroke: #b0b0b0; stroke-width: 0.8"/> <path d="M 353.75 173.05  L 210.67 133.22  L 121.40 204.84  " style="fill: none; stroke: #b0b0b0; stroke-width: 0.8"/> <path d="M 355.04 144.87  L 210.35 105.97  L 120.01 175.95  " style="fill: none; stroke: #b0b0b0; stroke-width: 0.8"/> <path d="M 356.36 116.05  L 210.03 78.14  L 118.59 146.37  " style="fill: none; stroke: #b0b0b0; stroke-width: 0.8"/> </g> </g> <g><g><path d="M 123.19 241.96  L 272.67 290.79  " style="fill: none; stroke: #000000; stroke-width: 0.8; stroke-linecap: square"/> </g> <g><g><path d="M 129.02 242.97  L 126.73 244.91  " style="fill: none; stroke: #000000; stroke-width: 0.8; stroke-linecap: square"/> </g> </g> <g><g><path d="M 152.82 250.74  L 150.56 252.71  " style="fill: none; stroke: #000000; stroke-width: 0.8; stroke-linecap: square"/> </g> </g> <g><g><path d="M 177.02 258.64  L 174.80 260.64  " style="fill: none; stroke: #000000; stroke-width: 0.8; stroke-linecap: square"/> </g> </g> <g><g><path d="M 201.66 266.67  L 199.46 268.71  " style="fill: none; stroke: #000000; stroke-width: 0.8; stroke-linecap: square"/> </g> </g> <g><g><path d="M 226.72 274.85  L 224.57 276.93  " style="fill: none; stroke: #000000; stroke-width: 0.8; stroke-linecap: square"/> </g> </g> <g><g><path d="M 252.24 283.18  L 250.12 285.29  " style="fill: none; stroke: #000000; stroke-width: 0.8; stroke-linecap: square"/> </g> </g> </g> <g><g><path d="M 352.09 209.29  L 272.67 290.79  " style="fill: none; stroke: #000000; stroke-width: 0.8; stroke-linecap: square"/> </g> <g><g><path d="M 284.84 276.62  L 288.58 277.82  " style="fill: none; stroke: #000000; stroke-width: 0.8; stroke-linecap: square"/> </g> </g> <g><g><path d="M 296.50 264.68  L 300.21 265.85  " style="fill: none; stroke: #000000; stroke-width: 0.8; stroke-linecap: square"/> </g> </g> <g><g><path d="M 307.86 253.04  L 311.54 254.18  " style="fill: none; stroke: #000000; stroke-width: 0.8; stroke-linecap: square"/> </g> </g> <g><g><path d="M 318.94 241.68  L 322.59 242.80  " style="fill: none; stroke: #000000; stroke-width: 0.8; stroke-linecap: square"/> </g> </g> <g><g><path d="M 329.75 230.61  L 333.37 231.69  " style="fill: none; stroke: #000000; stroke-width: 0.8; stroke-linecap: square"/> </g> </g> <g><g><path d="M 340.30 219.80  L 343.89 220.86  " style="fill: none; stroke: #000000; stroke-width: 0.8; stroke-linecap: square"/> </g> </g> </g> <g><g><path d="M 352.09 209.29  L 357.12 99.40  " style="fill: none; stroke: #000000; stroke-width: 0.8; stroke-linecap: square"/> </g> <g><g><path d="M 351.30 200.26  L 354.86 201.29  " style="fill: none; stroke: #000000; stroke-width: 0.8; stroke-linecap: square"/> </g> </g> <g><g><path d="M 352.54 172.71  L 356.15 173.72  " style="fill: none; stroke: #000000; stroke-width: 0.8; stroke-linecap: square"/> </g> </g> <g><g><path d="M 353.82 144.54  L 357.47 145.53  " style="fill: none; stroke: #000000; stroke-width: 0.8; stroke-linecap: square"/> </g> </g> <g><g><path d="M 355.12 115.73  L 358.82 116.69  " style="fill: none; stroke: #000000; stroke-width: 0.8; stroke-linecap: square"/> </g> </g> </g> <g/> </g> </g><text x="20.30" y="183.09" font-size="10.76" textLength="13.51" lengthAdjust="spacingAndGlyphs" text-anchor="middle" fill="#000" stroke="#000" stroke-width="0.15">−5</text><text x="38.89" y="189.31" font-size="10.76" textLength="13.51" lengthAdjust="spacingAndGlyphs" text-anchor="middle" fill="#000" stroke="#000" stroke-width="0.15">−4</text><text x="57.80" y="195.64" font-size="10.76" textLength="13.51" lengthAdjust="spacingAndGlyphs" text-anchor="middle" fill="#000" stroke="#000" stroke-width="0.15">−3</text><text x="77.04" y="202.08" font-size="10.76" textLength="13.51" lengthAdjust="spacingAndGlyphs" text-anchor="middle" fill="#000" stroke="#000" stroke-width="0.15">−2</text><text x="96.62" y="208.63" font-size="10.76" textLength="13.51" lengthAdjust="spacingAndGlyphs" text-anchor="middle" fill="#000" stroke="#000" stroke-width="0.15">−1</text><text x="116.55" y="215.30" font-size="10.76" textLength="5.83" lengthAdjust="spacingAndGlyphs" text-anchor="middle" fill="#000" stroke="#000" stroke-width="0.15">0</text><text x="154.54" y="208.41" font-size="10.76" textLength="5.83" lengthAdjust="spacingAndGlyphs" text-anchor="middle" fill="#000" stroke="#000" stroke-width="0.15">4</text><text x="163.63" y="198.85" font-size="10.76" textLength="5.83" lengthAdjust="spacingAndGlyphs" text-anchor="middle" fill="#000" stroke="#000" stroke-width="0.15">5</text><text x="172.50" y="189.53" font-size="10.76" textLength="5.83" lengthAdjust="spacingAndGlyphs" text-anchor="middle" fill="#000" stroke="#000" stroke-width="0.15">6</text><text x="181.14" y="180.44" font-size="10.76" textLength="5.83" lengthAdjust="spacingAndGlyphs" text-anchor="middle" fill="#000" stroke="#000" stroke-width="0.15">7</text><text x="189.58" y="171.57" font-size="10.76" textLength="5.83" lengthAdjust="spacingAndGlyphs" text-anchor="middle" fill="#000" stroke="#000" stroke-width="0.15">8</text><text x="197.81" y="162.92" font-size="10.76" textLength="5.83" lengthAdjust="spacingAndGlyphs" text-anchor="middle" fill="#000" stroke="#000" stroke-width="0.15">9</text><text x="208.94" y="138.30" font-size="10.76" textLength="5.83" lengthAdjust="spacingAndGlyphs" text-anchor="middle" fill="#000" stroke="#000" stroke-width="0.15">2</text><text x="209.93" y="116.26" font-size="10.76" textLength="5.83" lengthAdjust="spacingAndGlyphs" text-anchor="middle" fill="#000" stroke="#000" stroke-width="0.15">4</text><text x="210.93" y="93.72" font-size="10.76" textLength="5.83" lengthAdjust="spacingAndGlyphs" text-anchor="middle" fill="#000" stroke="#000" stroke-width="0.15">6</text><text x="211.96" y="70.67" font-size="10.76" textLength="5.83" lengthAdjust="spacingAndGlyphs" text-anchor="middle" fill="#000" stroke="#000" stroke-width="0.15">8</text><text x="60.77" y="218.99" font-size="10.76" textLength="67.94" lengthAdjust="spacingAndGlyphs" text-anchor="middle" fill="#000" stroke="#000" stroke-width="0.15" transform="rotate(18.5 60.77 218.99)">UMAP Score 1</text><text x="195.69" y="199.06" font-size="10.76" textLength="67.94" lengthAdjust="spacingAndGlyphs" text-anchor="middle" fill="#000" stroke="#000" stroke-width="0.15" transform="rotate(-46.4 195.69 199.06)">UMAP Score 2</text><text x="239.38" y="91.00" font-size="10.76" textLength="67.94" lengthAdjust="spacingAndGlyphs" text-anchor="middle" fill="#000" stroke="#000" stroke-width="0.15" transform="rotate(-90.0 239.38 91.00)">UMAP Score 3</text><circle cx="138.0" cy="113.7" r="1.6" fill="#ff7f0e" fill-opacity="0.75"/><circle cx="156.2" cy="103.6" r="1.6" fill="#ff7f0e" fill-opacity="0.75"/><circle cx="140.6" cy="92.9" r="1.6" fill="#ff7f0e" fill-opacity="0.75"/><circle cx="156.2" cy="103.7" r="1.6" fill="#ff7f0e" fill-opacity="0.75"/><circle cx="147.8" cy="110.2" r="1.6" fill="#ff7f0e" fill-opacity="0.75"/><circle cx="142.8" cy="104.2" r="1.6" fill="#ff7f0e" fill-opacity="0.75"/><circle cx="149.4" cy="84.3" r="1.6" fill="#ff7f0e" fill-opacity="0.75"/><circle cx="140.5" cy="99.3" r="1.6" fill="#ff7f0e" fill-opacity="0.75"/><circle cx="143.0" cy="99.2" r="1.6" fill="#ff7f0e" fill-opacity="0.75"/><circle cx="142.9" cy="96.6" r="1.6" fill="#ff7f0e" fill-opacity="0.75"/><circle cx="137.0" cy="103.5" r="1.6" fill="#ff7f0e" fill-opacity="0.75"/><circle cx="131.1" cy="92.0" r="1.6" fill="#ff7f0e" fill-opacity="0.75"/><circle cx="129.8" cy="87.2" r="1.6" fill="#ff7f0e" fill-opacity="0.75"/><circle cx="135.0" cy="93.5" r="1.6" fill="#ff7f0e" fill-opacity="0.75"/><circle cx="128.9" cy="83.7" r="1.6" fill="#ff7f0e" fill-opacity="0.75"/><circle cx="146.1" cy="96.0" r="1.6" fill="#ff7f0e" fill-opacity="0.75"/><circle cx="147.0" cy="83.2" r="1.6" fill="#ff7f0e" fill-opacity="0.75"/><circle cx="148.5" cy="101.2" r="1.6" fill="#ff7f0e" fill-opacity="0.75"/><circle cx="134.7" cy="93.8" r="1.6" fill="#ff7f0e" fill-opacity="0.75"/><circle cx="135.9" cy="94.9" r="1.6" fill="#ff7f0e" fill-opacity="0.75"/><circle cx="147.8" cy="81.1" r="1.6" fill="#ff7f0e" fill-opacity="0.75"/><circle cx="144.3" cy="86.5" r="1.6" fill="#ff7f0e" fill-opacity="0.75"/><circle cx="150.6" cy="99.4" r="1.6" fill="#ff7f0e" fill-opacity="0.75"/><circle cx="137.5" cy="91.5" r="1.6" fill="#ff7f0e" fill-opacity="0.75"/><circle cx="147.2" cy="85.2" r="1.6" fill="#ff7f0e" fill-opacity="0.75"/><circle cx="152.1" cy="103.9" r="1.6" fill="#ff7f0e" fill-opacity="0.75"/><circle cx="134.9" cy="84.2" r="1.6" fill="#ff7f0e" fill-opacity="0.75"/><circle cx="143.2" cy="73.8" r="1.6" fill="#ff7f0e" fill-opacity="0.75"/><circle cx="150.0" cy="92.6" r="1.6" fill="#ff7f0e" fill-opacity="0.75"/><circle cx="158.3" cy="86.6" r="1.6" fill="#ff7f0e" fill-opacity="0.75"/><circle cx="146.5" cy="94.6" r="1.6" fill="#ff7f0e" fill-opacity="0.75"/><circle cx="158.0" cy="95.8" r="1.6" fill="#ff7f0e" fill-opacity="0.75"/><circle cx="150.3" cy="102.8" r="1.6" fill="#ff7f0e" fill-opacity="0.75"/><circle cx="148.6" cy="92.0" r="1.6" fill="#ff7f0e" fill-opacity="0.75"/><circle cx="150.7" cy="89.8" r="1.6" fill="#ff7f0e" fill-opacity="0.75"/><circle cx="143.3" cy="73.1" r="1.6" fill="#ff7f0e" fill-opacity="0.75"/><circle cx="150.9" cy="80.3" r="1.6" fill="#ff7f0e" fill-opacity="0.75"/><circle cx="148.7" cy="81.5" r="1.6" fill="#ff7f0e" fill-opacity="0.75"/><circle cx="154.9" cy="93.5" r="1.6" fill="#ff7f0e" fill-opacity="0.75"/><circle cx="151.4" cy="77.6" r="1.6" fill="#ff7f0e" fill-opacity="0.75"/><circle cx="141.2" cy="96.1" r="1.6" fill="#ff7f0e" fill-opacity="0.75"/><circle cx="148.3" cy="83.1" r="1.6" fill="#ff7f0e" fill-opacity="0.75"/><circle cx="161.0" cy="92.1" r="1.6" fill="#ff7f0e" fill-opacity="0.75"/><circle cx="156.0" cy="87.3" r="1.6" fill="#ff7f0e" fill-opacity="0.75"/><circle cx="147.2" cy="91.0" r="1.6" fill="#ff7f0e" fill-opacity="0.75"/><circle cx="140.8" cy="86.5" r="1.6" fill="#ff7f0e" fill-opacity="0.75"/><circle cx="160.1" cy="101.4" r="1.6" fill="#ff7f0e" fill-opacity="0.75"/><circle cx="166.1" cy="80.7" r="1.6" fill="#ff7f0e" fill-opacity="0.75"/><circle cx="154.7" cy="90.4" r="1.6" fill="#ff7f0e" fill-opacity="0.75"/><circle cx="153.7" cy="81.5" r="1.6" fill="#ff7f0e" fill-opacity="0.75"/><circle cx="125.4" cy="133.7" r="1.6" fill="#ff7f0e" fill-opacity="0.60"/><circle cx="120.4" cy="125.7" r="1.6" fill="#ff7f0e" fill-opacity="0.65"/><circle cx="118.3" cy="135.8" r="1.6" fill="#ff7f0e" fill-opacity="0.66"/><circle cx="91.4" cy="98.0" r="1.6" fill="#ff7f0e" fill-opacity="0.67"/><circle cx="108.4" cy="121.4" r="1.6" fill="#ff7f0e" fill-opacity="0.68"/><circle cx="125.0" cy="133.1" r="1.6" fill="#ff7f0e" fill-opacity="0.68"/><circle cx="125.9" cy="126.3" r="1.6" fill="#ff7f0e" fill-opacity="0.69"/><circle cx="120.8" cy="132.5" r="1.6" fill="#ff7f0e" fill-opacity="0.69"/><circle cx="120.6" cy="139.2" r="1.6" fill="#ff7f0e" fill-opacity="0.69"/><circle cx="129.5" cy="134.5" r="1.6" fill="#ff7f0e" fill-opacity="0.69"/><circle cx="122.1" cy="126.6" r="1.6" fill="#ff7f0e" fill-opacity="0.70"/><circle cx="132.3" cy="124.9" r="1.6" fill="#ff7f0e" fill-opacity="0.70"/><circle cx="126.8" cy="125.0" r="1.6" fill="#ff7f0e" fill-opacity="0.70"/><circle cx="98.6" cy="107.0" r="1.6" fill="#ff7f0e" fill-opacity="0.70"/><circle cx="127.8" cy="134.9" r="1.6" fill="#ff7f0e" fill-opacity="0.70"/><circle cx="115.3" cy="127.6" r="1.6" fill="#ff7f0e" fill-opacity="0.71"/><circle cx="104.4" cy="101.3" r="1.6" fill="#ff7f0e" fill-opacity="0.71"/><circle cx="77.6" cy="100.9" r="1.6" fill="#ff7f0e" fill-opacity="0.71"/><circle cx="120.2" cy="85.3" r="1.6" fill="#ff7f0e" fill-opacity="0.72"/><circle cx="128.5" cy="125.8" r="1.6" fill="#ff7f0e" fill-opacity="0.72"/><circle cx="111.9" cy="104.7" r="1.6" fill="#ff7f0e" fill-opacity="0.72"/><circle cx="106.7" cy="120.0" r="1.6" fill="#ff7f0e" fill-opacity="0.72"/><circle cx="121.5" cy="129.9" r="1.6" fill="#ff7f0e" fill-opacity="0.72"/><circle cx="124.2" cy="115.5" r="1.6" fill="#ff7f0e" fill-opacity="0.72"/><circle cx="126.2" cy="125.4" r="1.6" fill="#ff7f0e" fill-opacity="0.72"/><circle cx="111.3" cy="100.1" r="1.6" fill="#ff7f0e" fill-opacity="0.72"/><circle cx="112.5" cy="128.2" r="1.6" fill="#ff7f0e" fill-opacity="0.73"/><circle cx="135.4" cy="119.6" r="1.6" fill="#ff7f0e" fill-opacity="0.73"/><circle cx="113.0" cy="127.9" r="1.6" fill="#ff7f0e" fill-opacity="0.73"/><circle cx="114.2" cy="119.4" r="1.6" fill="#ff7f0e" fill-opacity="0.73"/><circle cx="119.0" cy="81.0" r="1.6" fill="#ff7f0e" fill-opacity="0.73"/><circle cx="104.4" cy="97.0" r="1.6" fill="#ff7f0e" fill-opacity="0.73"/><circle cx="131.1" cy="127.5" r="1.6" fill="#ff7f0e" fill-opacity="0.73"/><circle cx="128.5" cy="136.3" r="1.6" fill="#ff7f0e" fill-opacity="0.73"/><circle cx="126.8" cy="120.1" r="1.6" fill="#ff7f0e" fill-opacity="0.74"/><circle cx="119.1" cy="122.1" r="1.6" fill="#ff7f0e" fill-opacity="0.74"/><circle cx="121.9" cy="134.3" r="1.6" fill="#ff7f0e" fill-opacity="0.74"/><circle cx="120.2" cy="122.1" r="1.6" fill="#ff7f0e" fill-opacity="0.74"/><circle cx="101.9" cy="98.3" r="1.6" fill="#ff7f0e" fill-opacity="0.74"/><circle cx="112.0" cy="86.8" r="1.6" fill="#ff7f0e" fill-opacity="0.75"/><circle cx="121.8" cy="129.6" r="1.6" fill="#ff7f0e" fill-opacity="0.75"/><circle cx="132.9" cy="128.3" r="1.6" fill="#ff7f0e" fill-opacity="0.75"/><circle cx="128.9" cy="131.4" r="1.6" fill="#ff7f0e" fill-opacity="0.75"/><circle cx="137.7" cy="137.8" r="1.6" fill="#ff7f0e" fill-opacity="0.75"/><circle cx="128.3" cy="127.5" r="1.6" fill="#ff7f0e" fill-opacity="0.75"/><circle cx="89.1" cy="115.3" r="1.6" fill="#ff7f0e" fill-opacity="0.75"/><circle cx="103.1" cy="124.6" r="1.6" fill="#ff7f0e" fill-opacity="0.76"/><circle cx="106.0" cy="100.7" r="1.6" fill="#ff7f0e" fill-opacity="0.76"/><circle cx="94.0" cy="91.4" r="1.6" fill="#ff7f0e" fill-opacity="0.76"/><circle cx="131.6" cy="133.7" r="1.6" fill="#ff7f0e" fill-opacity="0.76"/><circle cx="116.2" cy="107.4" r="1.6" fill="#ff7f0e" fill-opacity="0.76"/><circle cx="120.7" cy="113.8" r="1.6" fill="#ff7f0e" fill-opacity="0.76"/><circle cx="119.5" cy="95.9" r="1.6" fill="#ff7f0e" fill-opacity="0.76"/><circle cx="120.4" cy="131.1" r="1.6" fill="#ff7f0e" fill-opacity="0.76"/><circle cx="99.2" cy="105.3" r="1.6" fill="#ff7f0e" fill-opacity="0.76"/><circle cx="126.4" cy="122.9" r="1.6" fill="#ff7f0e" fill-opacity="0.76"/><circle cx="118.3" cy="126.1" r="1.6" fill="#ff7f0e" fill-opacity="0.77"/><circle cx="106.7" cy="88.9" r="1.6" fill="#ff7f0e" fill-opacity="0.77"/><circle cx="118.7" cy="133.2" r="1.6" fill="#ff7f0e" fill-opacity="0.77"/><circle cx="114.6" cy="98.9" r="1.6" fill="#ff7f0e" fill-opacity="0.77"/><circle cx="126.4" cy="123.3" r="1.6" fill="#ff7f0e" fill-opacity="0.77"/><circle cx="118.6" cy="109.5" r="1.6" fill="#ff7f0e" fill-opacity="0.77"/><circle cx="108.4" cy="104.5" r="1.6" fill="#ff7f0e" fill-opacity="0.77"/><circle cx="90.7" cy="110.3" r="1.6" fill="#ff7f0e" fill-opacity="0.77"/><circle cx="100.1" cy="95.0" r="1.6" fill="#ff7f0e" fill-opacity="0.77"/><circle cx="124.7" cy="133.6" r="1.6" fill="#ff7f0e" fill-opacity="0.77"/><circle cx="116.8" cy="105.6" r="1.6" fill="#ff7f0e" fill-opacity="0.77"/><circle cx="90.8" cy="114.8" r="1.6" fill="#ff7f0e" fill-opacity="0.77"/><circle cx="123.5" cy="128.3" r="1.6" fill="#ff7f0e" fill-opacity="0.77"/><circle cx="124.8" cy="124.0" r="1.6" fill="#ff7f0e" fill-opacity="0.77"/><circle cx="117.3" cy="98.9" r="1.6" fill="#ff7f0e" fill-opacity="0.77"/><circle cx="105.0" cy="108.7" r="1.6" fill="#ff7f0e" fill-opacity="0.78"/><circle cx="121.7" cy="124.1" r="1.6" fill="#ff7f0e" fill-opacity="0.78"/><circle cx="108.1" cy="103.5" r="1.6" fill="#ff7f0e" fill-opacity="0.78"/><circle cx="86.7" cy="99.2" r="1.6" fill="#ff7f0e" fill-opacity="0.78"/><circle cx="101.5" cy="105.1" r="1.6" fill="#ff7f0e" fill-opacity="0.78"/><circle cx="121.1" cy="94.0" r="1.6" fill="#ff7f0e" fill-opacity="0.78"/><circle cx="97.8" cy="117.4" r="1.6" fill="#ff7f0e" fill-opacity="0.78"/><circle cx="104.6" cy="115.9" r="1.6" fill="#ff7f0e" fill-opacity="0.78"/><circle cx="138.3" cy="125.8" r="1.6" fill="#ff7f0e" fill-opacity="0.78"/><circle cx="102.1" cy="115.5" r="1.6" fill="#ff7f0e" fill-opacity="0.78"/><circle cx="97.4" cy="103.2" r="1.6" fill="#ff7f0e" fill-opacity="0.78"/><circle cx="87.2" cy="103.3" r="1.6" fill="#ff7f0e" fill-opacity="0.78"/><circle cx="101.3" cy="106.3" r="1.6" fill="#ff7f0e" fill-opacity="0.78"/><circle cx="115.3" cy="77.2" r="1.6" fill="#ff7f0e" fill-opacity="0.78"/><circle cx="108.5" cy="89.5" r="1.6" fill="#ff7f0e" fill-opacity="0.78"/><circle cx="132.9" cy="82.6" r="1.6" fill="#ff7f0e" fill-opacity="0.78"/><circle cx="108.7" cy="104.2" r="1.6" fill="#ff7f0e" fill-opacity="0.78"/><circle cx="87.8" cy="110.4" r="1.6" fill="#ff7f0e" fill-opacity="0.79"/><circle cx="95.2" cy="115.6" r="1.6" fill="#ff7f0e" fill-opacity="0.79"/><circle cx="106.2" cy="96.0" r="1.6" fill="#ff7f0e" fill-opacity="0.79"/><circle cx="101.8" cy="81.3" r="1.6" fill="#ff7f0e" fill-opacity="0.79"/><circle cx="88.7" cy="111.7" r="1.6" fill="#ff7f0e" fill-opacity="0.79"/><circle cx="100.0" cy="79.8" r="1.6" fill="#ff7f0e" fill-opacity="0.79"/><circle cx="93.0" cy="104.0" r="1.6" fill="#ff7f0e" fill-opacity="0.79"/><circle cx="110.5" cy="115.0" r="1.6" fill="#ff7f0e" fill-opacity="0.79"/><circle cx="111.2" cy="117.8" r="1.6" fill="#ff7f0e" fill-opacity="0.79"/><circle cx="122.2" cy="82.3" r="1.6" fill="#ff7f0e" fill-opacity="0.79"/><circle cx="107.8" cy="122.0" r="1.6" fill="#ff7f0e" fill-opacity="0.79"/><circle cx="111.1" cy="99.7" r="1.6" fill="#ff7f0e" fill-opacity="0.79"/><circle cx="90.8" cy="102.7" r="1.6" fill="#ff7f0e" fill-opacity="0.79"/><circle cx="92.1" cy="89.6" r="1.6" fill="#ff7f0e" fill-opacity="0.79"/><circle cx="117.4" cy="116.9" r="1.6" fill="#ff7f0e" fill-opacity="0.79"/><circle cx="83.6" cy="98.7" r="1.6" fill="#ff7f0e" fill-opacity="0.79"/><circle cx="87.3" cy="104.8" r="1.6" fill="#ff7f0e" fill-opacity="0.79"/><circle cx="115.8" cy="105.0" r="1.6" fill="#ff7f0e" fill-opacity="0.80"/><circle cx="107.9" cy="97.4" r="1.6" fill="#ff7f0e" fill-opacity="0.80"/><circle cx="122.5" cy="122.6" r="1.6" fill="#ff7f0e" fill-opacity="0.80"/><circle cx="93.1" cy="90.3" r="1.6" fill="#ff7f0e" fill-opacity="0.80"/><circle cx="98.5" cy="99.1" r="1.6" fill="#ff7f0e" fill-opacity="0.80"/><circle cx="139.0" cy="115.6" r="1.6" fill="#ff7f0e" fill-opacity="0.80"/><circle cx="90.4" cy="106.5" r="1.6" fill="#ff7f0e" fill-opacity="0.80"/><circle cx="126.9" cy="117.9" r="1.6" fill="#ff7f0e" fill-opacity="0.80"/><circle cx="116.2" cy="82.1" r="1.6" fill="#ff7f0e" fill-opacity="0.80"/><circle cx="138.4" cy="126.3" r="1.6" fill="#ff7f0e" fill-opacity="0.80"/><circle cx="98.3" cy="106.5" r="1.6" fill="#ff7f0e" fill-opacity="0.80"/><circle cx="115.4" cy="111.9" r="1.6" fill="#ff7f0e" fill-opacity="0.80"/><circle cx="100.8" cy="98.6" r="1.6" fill="#ff7f0e" fill-opacity="0.80"/><circle cx="86.9" cy="99.6" r="1.6" fill="#ff7f0e" fill-opacity="0.80"/><circle cx="99.3" cy="104.9" r="1.6" fill="#ff7f0e" fill-opacity="0.80"/><circle cx="129.6" cy="117.4" r="1.6" fill="#ff7f0e" fill-opacity="0.80"/><circle cx="133.9" cy="120.0" r="1.6" fill="#ff7f0e" fill-opacity="0.80"/><circle cx="93.7" cy="111.9" r="1.6" fill="#ff7f0e" fill-opacity="0.80"/><circle cx="117.3" cy="86.6" r="1.6" fill="#ff7f0e" fill-opacity="0.80"/><circle cx="93.6" cy="107.5" r="1.6" fill="#ff7f0e" fill-opacity="0.80"/><circle cx="121.3" cy="119.4" r="1.6" fill="#ff7f0e" fill-opacity="0.80"/><circle cx="111.5" cy="110.9" r="1.6" fill="#ff7f0e" fill-opacity="0.80"/><circle cx="117.0" cy="103.0" r="1.6" fill="#ff7f0e" fill-opacity="0.80"/><circle cx="135.6" cy="85.6" r="1.6" fill="#ff7f0e" fill-opacity="0.80"/><circle cx="93.7" cy="126.8" r="1.6" fill="#ff7f0e" fill-opacity="0.80"/><circle cx="116.3" cy="104.7" r="1.6" fill="#ff7f0e" fill-opacity="0.81"/><circle cx="114.4" cy="111.0" r="1.6" fill="#ff7f0e" fill-opacity="0.81"/><circle cx="111.5" cy="99.7" r="1.6" fill="#ff7f0e" fill-opacity="0.81"/><circle cx="133.0" cy="129.5" r="1.6" fill="#ff7f0e" fill-opacity="0.81"/><circle cx="101.2" cy="108.0" r="1.6" fill="#ff7f0e" fill-opacity="0.81"/><circle cx="109.7" cy="90.9" r="1.6" fill="#ff7f0e" fill-opacity="0.81"/><circle cx="104.9" cy="113.4" r="1.6" fill="#ff7f0e" fill-opacity="0.81"/><circle cx="127.2" cy="75.8" r="1.6" fill="#ff7f0e" fill-opacity="0.81"/><circle cx="114.6" cy="101.3" r="1.6" fill="#ff7f0e" fill-opacity="0.81"/><circle cx="103.4" cy="106.1" r="1.6" fill="#ff7f0e" fill-opacity="0.81"/><circle cx="139.7" cy="121.8" r="1.6" fill="#ff7f0e" fill-opacity="0.81"/><circle cx="106.4" cy="117.8" r="1.6" fill="#ff7f0e" fill-opacity="0.81"/><circle cx="98.7" cy="104.1" r="1.6" fill="#ff7f0e" fill-opacity="0.81"/><circle cx="113.1" cy="100.4" r="1.6" fill="#ff7f0e" fill-opacity="0.82"/><circle cx="94.5" cy="101.5" r="1.6" fill="#ff7f0e" fill-opacity="0.82"/><circle cx="109.0" cy="92.4" r="1.6" fill="#ff7f0e" fill-opacity="0.82"/><circle cx="113.9" cy="106.7" r="1.6" fill="#ff7f0e" fill-opacity="0.82"/><circle cx="110.4" cy="108.1" r="1.6" fill="#ff7f0e" fill-opacity="0.82"/><circle cx="109.9" cy="105.5" r="1.6" fill="#ff7f0e" fill-opacity="0.82"/><circle cx="142.3" cy="83.7" r="1.6" fill="#ff7f0e" fill-opacity="0.82"/><circle cx="78.2" cy="91.2" r="1.6" fill="#ff7f0e" fill-opacity="0.82"/><circle cx="125.6" cy="91.8" r="1.6" fill="#ff7f0e" fill-opacity="0.82"/><circle cx="90.2" cy="111.1" r="1.6" fill="#ff7f0e" fill-opacity="0.82"/><circle cx="136.0" cy="75.8" r="1.6" fill="#ff7f0e" fill-opacity="0.82"/><circle cx="106.3" cy="96.6" r="1.6" fill="#ff7f0e" fill-opacity="0.82"/><circle cx="109.7" cy="123.6" r="1.6" fill="#ff7f0e" fill-opacity="0.82"/><circle cx="140.1" cy="120.7" r="1.6" fill="#ff7f0e" fill-opacity="0.82"/><circle cx="93.0" cy="126.0" r="1.6" fill="#ff7f0e" fill-opacity="0.82"/><circle cx="117.7" cy="120.2" r="1.6" fill="#ff7f0e" fill-opacity="0.82"/><circle cx="120.9" cy="105.9" r="1.6" fill="#ff7f0e" fill-opacity="0.82"/><circle cx="134.3" cy="107.1" r="1.6" fill="#ff7f0e" fill-opacity="0.82"/><circle cx="119.4" cy="121.7" r="1.6" fill="#ff7f0e" fill-opacity="0.82"/><circle cx="131.6" cy="100.0" r="1.6" fill="#ff7f0e" fill-opacity="0.82"/><circle cx="123.0" cy="99.4" r="1.6" fill="#ff7f0e" fill-opacity="0.82"/><circle cx="92.1" cy="86.5" r="1.6" fill="#ff7f0e" fill-opacity="0.82"/><circle cx="97.5" cy="85.0" r="1.6" fill="#ff7f0e" fill-opacity="0.82"/><circle cx="113.7" cy="77.1" r="1.6" fill="#ff7f0e" fill-opacity="0.82"/><circle cx="134.1" cy="84.7" r="1.6" fill="#ff7f0e" fill-opacity="0.82"/><circle cx="126.7" cy="88.7" r="1.6" fill="#ff7f0e" fill-opacity="0.82"/><circle cx="99.9" cy="92.0" r="1.6" fill="#ff7f0e" fill-opacity="0.82"/><circle cx="138.2" cy="130.8" r="1.6" fill="#ff7f0e" fill-opacity="0.82"/><circle cx="113.2" cy="101.5" r="1.6" fill="#ff7f0e" fill-opacity="0.82"/><circle cx="118.0" cy="93.2" r="1.6" fill="#ff7f0e" fill-opacity="0.83"/><circle cx="131.3" cy="80.1" r="1.6" fill="#ff7f0e" fill-opacity="0.83"/><circle cx="101.1" cy="122.0" r="1.6" fill="#ff7f0e" fill-opacity="0.83"/><circle cx="98.5" cy="98.7" r="1.6" fill="#ff7f0e" fill-opacity="0.83"/><circle cx="115.9" cy="119.3" r="1.6" fill="#ff7f0e" fill-opacity="0.83"/><circle cx="143.7" cy="87.1" r="1.6" fill="#ff7f0e" fill-opacity="0.83"/><circle cx="127.5" cy="74.9" r="1.6" fill="#ff7f0e" fill-opacity="0.83"/><circle cx="110.2" cy="81.7" r="1.6" fill="#ff7f0e" fill-opacity="0.83"/><circle cx="98.4" cy="104.5" r="1.6" fill="#ff7f0e" fill-opacity="0.83"/><circle cx="113.0" cy="77.8" r="1.6" fill="#ff7f0e" fill-opacity="0.83"/><circle cx="87.1" cy="90.9" r="1.6" fill="#ff7f0e" fill-opacity="0.83"/><circle cx="101.0" cy="91.4" r="1.6" fill="#ff7f0e" fill-opacity="0.83"/><circle cx="118.2" cy="107.2" r="1.6" fill="#ff7f0e" fill-opacity="0.83"/><circle cx="133.4" cy="77.7" r="1.6" fill="#ff7f0e" fill-opacity="0.83"/><circle cx="115.2" cy="92.9" r="1.6" fill="#ff7f0e" fill-opacity="0.83"/><circle cx="99.2" cy="125.3" r="1.6" fill="#ff7f0e" fill-opacity="0.83"/><circle cx="112.5" cy="116.1" r="1.6" fill="#ff7f0e" fill-opacity="0.83"/><circle cx="121.9" cy="104.2" r="1.6" fill="#ff7f0e" fill-opacity="0.83"/><circle cx="142.3" cy="72.9" r="1.6" fill="#ff7f0e" fill-opacity="0.83"/><circle cx="106.0" cy="89.3" r="1.6" fill="#ff7f0e" fill-opacity="0.83"/><circle cx="127.2" cy="102.9" r="1.6" fill="#ff7f0e" fill-opacity="0.83"/><circle cx="101.0" cy="105.1" r="1.6" fill="#ff7f0e" fill-opacity="0.83"/><circle cx="93.9" cy="106.4" r="1.6" fill="#ff7f0e" fill-opacity="0.84"/><circle cx="122.8" cy="78.4" r="1.6" fill="#ff7f0e" fill-opacity="0.84"/><circle cx="102.1" cy="84.9" r="1.6" fill="#ff7f0e" fill-opacity="0.84"/><circle cx="118.1" cy="140.1" r="1.6" fill="#ff7f0e" fill-opacity="0.84"/><circle cx="120.9" cy="123.4" r="1.6" fill="#ff7f0e" fill-opacity="0.84"/><circle cx="99.6" cy="100.8" r="1.6" fill="#ff7f0e" fill-opacity="0.84"/><circle cx="97.5" cy="97.5" r="1.6" fill="#ff7f0e" fill-opacity="0.84"/><circle cx="113.6" cy="101.6" r="1.6" fill="#ff7f0e" fill-opacity="0.84"/><circle cx="126.7" cy="116.0" r="1.6" fill="#ff7f0e" fill-opacity="0.84"/><circle cx="116.5" cy="110.4" r="1.6" fill="#ff7f0e" fill-opacity="0.84"/><circle cx="115.1" cy="106.9" r="1.6" fill="#ff7f0e" fill-opacity="0.84"/><circle cx="96.3" cy="112.0" r="1.6" fill="#ff7f0e" fill-opacity="0.84"/><circle cx="114.9" cy="88.5" r="1.6" fill="#ff7f0e" fill-opacity="0.84"/><circle cx="95.2" cy="90.6" r="1.6" fill="#ff7f0e" fill-opacity="0.84"/><circle cx="114.1" cy="125.1" r="1.6" fill="#ff7f0e" fill-opacity="0.84"/><circle cx="97.3" cy="102.0" r="1.6" fill="#ff7f0e" fill-opacity="0.84"/><circle cx="109.9" cy="121.3" r="1.6" fill="#ff7f0e" fill-opacity="0.84"/><circle cx="126.9" cy="89.4" r="1.6" fill="#ff7f0e" fill-opacity="0.84"/><circle cx="114.8" cy="92.6" r="1.6" fill="#ff7f0e" fill-opacity="0.84"/><circle cx="108.7" cy="95.9" r="1.6" fill="#ff7f0e" fill-opacity="0.84"/><circle cx="140.7" cy="117.6" r="1.6" fill="#ff7f0e" fill-opacity="0.84"/><circle cx="110.2" cy="82.6" r="1.6" fill="#ff7f0e" fill-opacity="0.84"/><circle cx="126.9" cy="90.8" r="1.6" fill="#ff7f0e" fill-opacity="0.84"/><circle cx="85.6" cy="102.7" r="1.6" fill="#ff7f0e" fill-opacity="0.84"/><circle cx="142.1" cy="101.0" r="1.6" fill="#ff7f0e" fill-opacity="0.84"/><circle cx="120.6" cy="109.7" r="1.6" fill="#ff7f0e" fill-opacity="0.84"/><circle cx="110.2" cy="111.9" r="1.6" fill="#ff7f0e" fill-opacity="0.84"/><circle cx="111.4" cy="96.5" r="1.6" fill="#ff7f0e" fill-opacity="0.84"/><circle cx="117.9" cy="78.7" r="1.6" fill="#ff7f0e" fill-opacity="0.84"/><circle cx="129.3" cy="119.0" r="1.6" fill="#ff7f0e" fill-opacity="0.84"/><circle cx="101.0" cy="100.6" r="1.6" fill="#ff7f0e" fill-opacity="0.84"/><circle cx="106.5" cy="100.5" r="1.6" fill="#ff7f0e" fill-opacity="0.85"/><circle cx="124.2" cy="81.8" r="1.6" fill="#ff7f0e" fill-opacity="0.85"/><circle cx="123.8" cy="163.8" r="1.6" fill="#ff7f0e" fill-opacity="0.85"/><circle cx="108.4" cy="94.9" r="1.6" fill="#ff7f0e" fill-opacity="0.85"/><circle cx="123.7" cy="70.9" r="1.6" fill="#ff7f0e" fill-opacity="0.85"/><circle cx="102.2" cy="111.7" r="1.6" fill="#ff7f0e" fill-opacity="0.85"/><circle cx="119.3" cy="106.2" r="1.6" fill="#ff7f0e" fill-opacity="0.85"/><circle cx="105.0" cy="117.8" r="1.6" fill="#ff7f0e" fill-opacity="0.85"/><circle cx="89.2" cy="106.5" r="1.6" fill="#ff7f0e" fill-opacity="0.85"/><circle cx="110.0" cy="111.4" r="1.6" fill="#ff7f0e" fill-opacity="0.85"/><circle cx="114.2" cy="105.7" r="1.6" fill="#ff7f0e" fill-opacity="0.85"/><circle cx="109.3" cy="126.0" r="1.6" fill="#ff7f0e" fill-opacity="0.85"/><circle cx="114.7" cy="87.1" r="1.6" fill="#ff7f0e" fill-opacity="0.85"/><circle cx="112.0" cy="105.2" r="1.6" fill="#ff7f0e" fill-opacity="0.85"/><circle cx="105.6" cy="97.9" r="1.6" fill="#ff7f0e" fill-opacity="0.85"/><circle cx="134.4" cy="105.9" r="1.6" fill="#ff7f0e" fill-opacity="0.85"/><circle cx="116.2" cy="90.7" r="1.6" fill="#ff7f0e" fill-opacity="0.85"/><circle cx="117.4" cy="118.7" r="1.6" fill="#ff7f0e" fill-opacity="0.85"/><circle cx="103.4" cy="102.2" r="1.6" fill="#ff7f0e" fill-opacity="0.85"/><circle cx="125.6" cy="92.5" r="1.6" fill="#ff7f0e" fill-opacity="0.85"/><circle cx="100.7" cy="101.7" r="1.6" fill="#ff7f0e" fill-opacity="0.86"/><circle cx="116.2" cy="114.3" r="1.6" fill="#ff7f0e" fill-opacity="0.86"/><circle cx="90.9" cy="94.7" r="1.6" fill="#ff7f0e" fill-opacity="0.86"/><circle cx="103.5" cy="108.1" r="1.6" fill="#ff7f0e" fill-opacity="0.86"/><circle cx="139.3" cy="78.6" r="1.6" fill="#ff7f0e" fill-opacity="0.86"/><circle cx="141.4" cy="133.0" r="1.6" fill="#ff7f0e" fill-opacity="0.86"/><circle cx="106.7" cy="90.4" r="1.6" fill="#ff7f0e" fill-opacity="0.86"/><circle cx="104.4" cy="94.5" r="1.6" fill="#ff7f0e" fill-opacity="0.86"/><circle cx="125.8" cy="119.9" r="1.6" fill="#ff7f0e" fill-opacity="0.86"/><circle cx="124.7" cy="115.3" r="1.6" fill="#ff7f0e" fill-opacity="0.86"/><circle cx="102.4" cy="108.2" r="1.6" fill="#ff7f0e" fill-opacity="0.86"/><circle cx="112.7" cy="108.8" r="1.6" fill="#ff7f0e" fill-opacity="0.86"/><circle cx="124.1" cy="82.1" r="1.6" fill="#ff7f0e" fill-opacity="0.86"/><circle cx="116.6" cy="100.3" r="1.6" fill="#ff7f0e" fill-opacity="0.86"/><circle cx="117.0" cy="120.6" r="1.6" fill="#ff7f0e" fill-opacity="0.86"/><circle cx="133.9" cy="95.9" r="1.6" fill="#ff7f0e" fill-opacity="0.86"/><circle cx="100.4" cy="103.3" r="1.6" fill="#ff7f0e" fill-opacity="0.86"/><circle cx="126.5" cy="99.5" r="1.6" fill="#ff7f0e" fill-opacity="0.86"/><circle cx="147.0" cy="100.4" r="1.6" fill="#ff7f0e" fill-opacity="0.86"/><circle cx="130.0" cy="103.8" r="1.6" fill="#ff7f0e" fill-opacity="0.86"/><circle cx="105.6" cy="97.7" r="1.6" fill="#ff7f0e" fill-opacity="0.86"/><circle cx="125.9" cy="147.3" r="1.6" fill="#ff7f0e" fill-opacity="0.87"/><circle cx="121.6" cy="156.9" r="1.6" fill="#ff7f0e" fill-opacity="0.87"/><circle cx="122.7" cy="94.7" r="1.6" fill="#ff7f0e" fill-opacity="0.87"/><circle cx="97.3" cy="100.2" r="1.6" fill="#ff7f0e" fill-opacity="0.87"/><circle cx="128.3" cy="123.9" r="1.6" fill="#ff7f0e" fill-opacity="0.87"/><circle cx="104.6" cy="111.1" r="1.6" fill="#ff7f0e" fill-opacity="0.87"/><circle cx="129.5" cy="100.6" r="1.6" fill="#ff7f0e" fill-opacity="0.87"/><circle cx="116.1" cy="99.2" r="1.6" fill="#ff7f0e" fill-opacity="0.87"/><circle cx="105.1" cy="88.7" r="1.6" fill="#ff7f0e" fill-opacity="0.87"/><circle cx="94.4" cy="112.6" r="1.6" fill="#ff7f0e" fill-opacity="0.87"/><circle cx="125.4" cy="78.5" r="1.6" fill="#ff7f0e" fill-opacity="0.87"/><circle cx="132.4" cy="79.5" r="1.6" fill="#ff7f0e" fill-opacity="0.87"/><circle cx="113.2" cy="96.3" r="1.6" fill="#ff7f0e" fill-opacity="0.87"/><circle cx="123.8" cy="77.7" r="1.6" fill="#ff7f0e" fill-opacity="0.87"/><circle cx="117.6" cy="114.9" r="1.6" fill="#ff7f0e" fill-opacity="0.87"/><circle cx="102.1" cy="93.9" r="1.6" fill="#ff7f0e" fill-opacity="0.87"/><circle cx="109.6" cy="120.3" r="1.6" fill="#ff7f0e" fill-opacity="0.87"/><circle cx="125.8" cy="124.5" r="1.6" fill="#ff7f0e" fill-opacity="0.87"/><circle cx="111.6" cy="96.6" r="1.6" fill="#ff7f0e" fill-opacity="0.87"/><circle cx="102.7" cy="108.9" r="1.6" fill="#ff7f0e" fill-opacity="0.87"/><circle cx="140.0" cy="100.6" r="1.6" fill="#ff7f0e" fill-opacity="0.87"/><circle cx="122.7" cy="96.7" r="1.6" fill="#ff7f0e" fill-opacity="0.87"/><circle cx="111.8" cy="111.1" r="1.6" fill="#ff7f0e" fill-opacity="0.88"/><circle cx="125.4" cy="150.2" r="1.6" fill="#ff7f0e" fill-opacity="0.88"/><circle cx="113.0" cy="129.7" r="1.6" fill="#ff7f0e" fill-opacity="0.88"/><circle cx="123.7" cy="119.2" r="1.6" fill="#ff7f0e" fill-opacity="0.88"/><circle cx="122.9" cy="152.7" r="1.6" fill="#ff7f0e" fill-opacity="0.88"/><circle cx="108.9" cy="83.1" r="1.6" fill="#ff7f0e" fill-opacity="0.88"/><circle cx="129.6" cy="96.7" r="1.6" fill="#ff7f0e" fill-opacity="0.88"/><circle cx="131.6" cy="119.9" r="1.6" fill="#ff7f0e" fill-opacity="0.88"/><circle cx="128.2" cy="103.5" r="1.6" fill="#ff7f0e" fill-opacity="0.88"/><circle cx="111.7" cy="99.2" r="1.6" fill="#ff7f0e" fill-opacity="0.88"/><circle cx="120.4" cy="134.4" r="1.6" fill="#ff7f0e" fill-opacity="0.88"/><circle cx="127.2" cy="153.2" r="1.6" fill="#ff7f0e" fill-opacity="0.88"/><circle cx="107.8" cy="96.8" r="1.6" fill="#ff7f0e" fill-opacity="0.88"/><circle cx="105.5" cy="123.0" r="1.6" fill="#ff7f0e" fill-opacity="0.88"/><circle cx="109.6" cy="115.2" r="1.6" fill="#ff7f0e" fill-opacity="0.88"/><circle cx="107.0" cy="115.6" r="1.6" fill="#ff7f0e" fill-opacity="0.88"/><circle cx="127.0" cy="81.0" r="1.6" fill="#ff7f0e" fill-opacity="0.88"/><circle cx="133.6" cy="121.6" r="1.6" fill="#ff7f0e" fill-opacity="0.88"/><circle cx="124.6" cy="134.0" r="1.6" fill="#ff7f0e" fill-opacity="0.88"/><circle cx="115.6" cy="116.3" r="1.6" fill="#ff7f0e" fill-opacity="0.88"/><circle cx="110.3" cy="91.5" r="1.6" fill="#ff7f0e" fill-opacity="0.88"/><circle cx="103.4" cy="109.0" r="1.6" fill="#ff7f0e" fill-opacity="0.88"/><circle cx="120.5" cy="122.6" r="1.6" fill="#ff7f0e" fill-opacity="0.88"/><circle cx="129.5" cy="149.8" r="1.6" fill="#ff7f0e" fill-opacity="0.88"/><circle cx="137.6" cy="82.7" r="1.6" fill="#ff7f0e" fill-opacity="0.88"/><circle cx="126.9" cy="81.5" r="1.6" fill="#ff7f0e" fill-opacity="0.88"/><circle cx="102.6" cy="115.8" r="1.6" fill="#ff7f0e" fill-opacity="0.88"/><circle cx="119.9" cy="100.7" r="1.6" fill="#ff7f0e" fill-opacity="0.89"/><circle cx="138.0" cy="78.1" r="1.6" fill="#ff7f0e" fill-opacity="0.89"/><circle cx="133.5" cy="162.9" r="1.6" fill="#ff7f0e" fill-opacity="0.89"/><circle cx="106.6" cy="78.0" r="1.6" fill="#ff7f0e" fill-opacity="0.89"/><circle cx="111.9" cy="101.5" r="1.6" fill="#ff7f0e" fill-opacity="0.89"/><circle cx="133.2" cy="115.6" r="1.6" fill="#ff7f0e" fill-opacity="0.89"/><circle cx="106.8" cy="96.7" r="1.6" fill="#ff7f0e" fill-opacity="0.89"/><circle cx="110.7" cy="98.1" r="1.6" fill="#ff7f0e" fill-opacity="0.89"/><circle cx="114.8" cy="84.3" r="1.6" fill="#ff7f0e" fill-opacity="0.89"/><circle cx="122.5" cy="145.4" r="1.6" fill="#ff7f0e" fill-opacity="0.89"/><circle cx="109.1" cy="88.1" r="1.6" fill="#ff7f0e" fill-opacity="0.89"/><circle cx="107.7" cy="111.9" r="1.6" fill="#ff7f0e" fill-opacity="0.89"/><circle cx="114.1" cy="95.9" r="1.6" fill="#ff7f0e" fill-opacity="0.89"/><circle cx="115.0" cy="96.5" r="1.6" fill="#ff7f0e" fill-opacity="0.89"/><circle cx="126.5" cy="150.9" r="1.6" fill="#ff7f0e" fill-opacity="0.89"/><circle cx="129.1" cy="101.1" r="1.6" fill="#ff7f0e" fill-opacity="0.89"/><circle cx="125.2" cy="123.3" r="1.6" fill="#ff7f0e" fill-opacity="0.89"/><circle cx="130.8" cy="81.7" r="1.6" fill="#ff7f0e" fill-opacity="0.89"/><circle cx="131.6" cy="151.7" r="1.6" fill="#ff7f0e" fill-opacity="0.89"/><circle cx="110.3" cy="84.9" r="1.6" fill="#ff7f0e" fill-opacity="0.89"/><circle cx="125.8" cy="146.5" r="1.6" fill="#ff7f0e" fill-opacity="0.89"/><circle cx="122.8" cy="161.9" r="1.6" fill="#ff7f0e" fill-opacity="0.89"/><circle cx="132.6" cy="134.8" r="1.6" fill="#ff7f0e" fill-opacity="0.89"/><circle cx="153.8" cy="79.2" r="1.6" fill="#ff7f0e" fill-opacity="0.90"/><circle cx="109.2" cy="82.8" r="1.6" fill="#ff7f0e" fill-opacity="0.90"/><circle cx="118.8" cy="85.3" r="1.6" fill="#ff7f0e" fill-opacity="0.90"/><circle cx="103.8" cy="125.4" r="1.6" fill="#ff7f0e" fill-opacity="0.90"/><circle cx="125.4" cy="85.8" r="1.6" fill="#ff7f0e" fill-opacity="0.90"/><circle cx="129.5" cy="160.0" r="1.6" fill="#ff7f0e" fill-opacity="0.90"/><circle cx="130.6" cy="110.7" r="1.6" fill="#ff7f0e" fill-opacity="0.90"/><circle cx="127.7" cy="88.1" r="1.6" fill="#ff7f0e" fill-opacity="0.90"/><circle cx="131.8" cy="111.4" r="1.6" fill="#ff7f0e" fill-opacity="0.90"/><circle cx="104.2" cy="79.2" r="1.6" fill="#ff7f0e" fill-opacity="0.90"/><circle cx="120.5" cy="105.9" r="1.6" fill="#ff7f0e" fill-opacity="0.90"/><circle cx="106.1" cy="105.7" r="1.6" fill="#ff7f0e" fill-opacity="0.90"/><circle cx="138.3" cy="153.3" r="1.6" fill="#ff7f0e" fill-opacity="0.90"/><circle cx="122.6" cy="130.4" r="1.6" fill="#ff7f0e" fill-opacity="0.90"/><circle cx="92.0" cy="89.9" r="1.6" fill="#ff7f0e" fill-opacity="0.91"/><circle cx="126.6" cy="151.0" r="1.6" fill="#ff7f0e" fill-opacity="0.91"/><circle cx="121.5" cy="136.8" r="1.6" fill="#ff7f0e" fill-opacity="0.91"/><circle cx="117.7" cy="143.6" r="1.6" fill="#ff7f0e" fill-opacity="0.91"/><circle cx="124.6" cy="153.8" r="1.6" fill="#ff7f0e" fill-opacity="0.91"/><circle cx="121.4" cy="100.8" r="1.6" fill="#ff7f0e" fill-opacity="0.91"/><circle cx="121.2" cy="149.7" r="1.6" fill="#ff7f0e" fill-opacity="0.91"/><circle cx="108.6" cy="102.1" r="1.6" fill="#ff7f0e" fill-opacity="0.91"/><circle cx="114.4" cy="100.9" r="1.6" fill="#ff7f0e" fill-opacity="0.91"/><circle cx="122.6" cy="95.9" r="1.6" fill="#ff7f0e" fill-opacity="0.91"/><circle cx="110.0" cy="93.7" r="1.6" fill="#ff7f0e" fill-opacity="0.91"/><circle cx="139.1" cy="108.9" r="1.6" fill="#ff7f0e" fill-opacity="0.91"/><circle cx="123.1" cy="139.8" r="1.6" fill="#ff7f0e" fill-opacity="0.91"/><circle cx="126.9" cy="155.1" r="1.6" fill="#ff7f0e" fill-opacity="0.91"/><circle cx="126.9" cy="154.8" r="1.6" fill="#ff7f0e" fill-opacity="0.91"/><circle cx="133.9" cy="137.1" r="1.6" fill="#ff7f0e" fill-opacity="0.91"/><circle cx="122.0" cy="146.7" r="1.6" fill="#ff7f0e" fill-opacity="0.92"/><circle cx="140.4" cy="72.0" r="1.6" fill="#ff7f0e" fill-opacity="0.92"/><circle cx="126.2" cy="139.5" r="1.6" fill="#ff7f0e" fill-opacity="0.92"/><circle cx="117.1" cy="85.3" r="1.6" fill="#ff7f0e" fill-opacity="0.92"/><circle cx="125.5" cy="90.5" r="1.6" fill="#ff7f0e" fill-opacity="0.92"/><circle cx="125.3" cy="136.9" r="1.6" fill="#ff7f0e" fill-opacity="0.92"/><circle cx="131.7" cy="144.5" r="1.6" fill="#ff7f0e" fill-opacity="0.92"/><circle cx="130.8" cy="79.8" r="1.6" fill="#ff7f0e" fill-opacity="0.92"/><circle cx="107.8" cy="108.2" r="1.6" fill="#ff7f0e" fill-opacity="0.92"/><circle cx="141.8" cy="94.0" r="1.6" fill="#ff7f0e" fill-opacity="0.92"/><circle cx="130.6" cy="153.8" r="1.6" fill="#ff7f0e" fill-opacity="0.92"/><circle cx="131.7" cy="145.5" r="1.6" fill="#ff7f0e" fill-opacity="0.92"/><circle cx="130.0" cy="94.8" r="1.6" fill="#ff7f0e" fill-opacity="0.92"/><circle cx="125.9" cy="143.7" r="1.6" fill="#ff7f0e" fill-opacity="0.92"/><circle cx="100.3" cy="96.8" r="1.6" fill="#ff7f0e" fill-opacity="0.93"/><circle cx="153.3" cy="77.6" r="1.6" fill="#ff7f0e" fill-opacity="0.93"/><circle cx="139.8" cy="76.1" r="1.6" fill="#ff7f0e" fill-opacity="0.93"/><circle cx="95.1" cy="100.3" r="1.6" fill="#ff7f0e" fill-opacity="0.93"/><circle cx="124.1" cy="144.3" r="1.6" fill="#ff7f0e" fill-opacity="0.93"/><circle cx="116.0" cy="116.9" r="1.6" fill="#ff7f0e" fill-opacity="0.93"/><circle cx="137.6" cy="142.3" r="1.6" fill="#ff7f0e" fill-opacity="0.93"/><circle cx="145.0" cy="77.9" r="1.6" fill="#ff7f0e" fill-opacity="0.93"/><circle cx="124.2" cy="137.5" r="1.6" fill="#ff7f0e" fill-opacity="0.93"/><circle cx="108.1" cy="102.8" r="1.6" fill="#ff7f0e" fill-opacity="0.93"/><circle cx="122.4" cy="139.4" r="1.6" fill="#ff7f0e" fill-opacity="0.93"/><circle cx="124.1" cy="126.0" r="1.6" fill="#ff7f0e" fill-opacity="0.94"/><circle cx="101.6" cy="88.2" r="1.6" fill="#ff7f0e" fill-opacity="0.94"/><circle cx="136.8" cy="138.1" r="1.6" fill="#ff7f0e" fill-opacity="0.94"/><circle cx="129.0" cy="140.3" r="1.6" fill="#ff7f0e" fill-opacity="0.94"/><circle cx="123.4" cy="135.0" r="1.6" fill="#ff7f0e" fill-opacity="0.94"/><circle cx="115.5" cy="105.4" r="1.6" fill="#ff7f0e" fill-opacity="0.94"/><circle cx="123.0" cy="92.8" r="1.6" fill="#ff7f0e" fill-opacity="0.94"/><circle cx="90.9" cy="105.1" r="1.6" fill="#ff7f0e" fill-opacity="0.94"/><circle cx="124.3" cy="75.9" r="1.6" fill="#ff7f0e" fill-opacity="0.94"/><circle cx="127.7" cy="100.0" r="1.6" fill="#ff7f0e" fill-opacity="0.94"/><circle cx="133.7" cy="99.6" r="1.6" fill="#ff7f0e" fill-opacity="0.94"/><circle cx="126.8" cy="129.3" r="1.6" fill="#ff7f0e" fill-opacity="0.94"/><circle cx="136.7" cy="102.1" r="1.6" fill="#ff7f0e" fill-opacity="0.94"/><circle cx="141.8" cy="89.4" r="1.6" fill="#ff7f0e" fill-opacity="0.94"/><circle cx="125.3" cy="87.5" r="1.6" fill="#ff7f0e" fill-opacity="0.94"/><circle cx="128.7" cy="149.9" r="1.6" fill="#ff7f0e" fill-opacity="0.95"/><circle cx="114.1" cy="96.1" r="1.6" fill="#ff7f0e" fill-opacity="0.95"/><circle cx="136.5" cy="95.7" r="1.6" fill="#ff7f0e" fill-opacity="0.95"/><circle cx="117.2" cy="88.2" r="1.6" fill="#ff7f0e" fill-opacity="0.95"/><circle cx="120.7" cy="79.8" r="1.6" fill="#ff7f0e" fill-opacity="0.95"/><circle cx="127.7" cy="140.6" r="1.6" fill="#ff7f0e" fill-opacity="0.95"/><circle cx="109.8" cy="89.0" r="1.6" fill="#ff7f0e" fill-opacity="0.95"/><circle cx="120.7" cy="92.9" r="1.6" fill="#ff7f0e" fill-opacity="0.96"/><circle cx="111.4" cy="94.4" r="1.6" fill="#ff7f0e" fill-opacity="0.96"/><circle cx="146.4" cy="109.6" r="1.6" fill="#ff7f0e" fill-opacity="0.96"/><circle cx="139.6" cy="104.6" r="1.6" fill="#ff7f0e" fill-opacity="0.96"/><circle cx="124.9" cy="102.1" r="1.6" fill="#ff7f0e" fill-opacity="0.97"/><circle cx="114.6" cy="99.1" r="1.6" fill="#ff7f0e" fill-opacity="0.98"/><circle cx="119.9" cy="85.2" r="1.6" fill="#ff7f0e" fill-opacity="0.98"/><circle cx="122.0" cy="135.7" r="1.6" fill="#ff7f0e" fill-opacity="0.98"/><circle cx="116.2" cy="110.9" r="1.6" fill="#ff7f0e"/><circle cx="123.7" cy="92.5" r="1.6" fill="#ff7f0e"/><circle cx="50.6" cy="122.4" r="1.6" fill="#1f77b4" fill-opacity="0.60"/><circle cx="72.2" cy="139.1" r="1.6" fill="#1f77b4" fill-opacity="0.61"/><circle cx="51.9" cy="135.4" r="1.6" fill="#1f77b4" fill-opacity="0.63"/><circle cx="71.2" cy="134.2" r="1.6" fill="#1f77b4" fill-opacity="0.64"/><circle cx="61.0" cy="136.2" r="1.6" fill="#1f77b4" fill-opacity="0.64"/><circle cx="69.2" cy="128.7" r="1.6" fill="#1f77b4" fill-opacity="0.64"/><circle cx="65.9" cy="124.0" r="1.6" fill="#1f77b4" fill-opacity="0.64"/><circle cx="65.1" cy="115.2" r="1.6" fill="#1f77b4" fill-opacity="0.66"/><circle cx="70.7" cy="91.3" r="1.6" fill="#1f77b4" fill-opacity="0.67"/><circle cx="63.6" cy="119.8" r="1.6" fill="#1f77b4" fill-opacity="0.67"/><circle cx="62.2" cy="127.0" r="1.6" fill="#1f77b4" fill-opacity="0.67"/><circle cx="69.4" cy="119.2" r="1.6" fill="#1f77b4" fill-opacity="0.68"/><circle cx="67.8" cy="118.2" r="1.6" fill="#1f77b4" fill-opacity="0.68"/><circle cx="70.8" cy="130.8" r="1.6" fill="#1f77b4" fill-opacity="0.68"/><circle cx="56.6" cy="113.8" r="1.6" fill="#1f77b4" fill-opacity="0.68"/><circle cx="64.9" cy="123.8" r="1.6" fill="#1f77b4" fill-opacity="0.68"/><circle cx="74.3" cy="131.0" r="1.6" fill="#1f77b4" fill-opacity="0.69"/><circle cx="67.6" cy="111.1" r="1.6" fill="#1f77b4" fill-opacity="0.69"/><circle cx="78.8" cy="132.6" r="1.6" fill="#1f77b4" fill-opacity="0.69"/><circle cx="97.5" cy="125.9" r="1.6" fill="#1f77b4" fill-opacity="0.69"/><circle cx="75.3" cy="143.1" r="1.6" fill="#1f77b4" fill-opacity="0.70"/><circle cx="70.3" cy="99.9" r="1.6" fill="#1f77b4" fill-opacity="0.70"/><circle cx="72.5" cy="131.1" r="1.6" fill="#1f77b4" fill-opacity="0.70"/><circle cx="63.7" cy="119.5" r="1.6" fill="#1f77b4" fill-opacity="0.70"/><circle cx="67.6" cy="121.6" r="1.6" fill="#1f77b4" fill-opacity="0.70"/><circle cx="61.1" cy="116.0" r="1.6" fill="#1f77b4" fill-opacity="0.70"/><circle cx="71.8" cy="136.0" r="1.6" fill="#1f77b4" fill-opacity="0.70"/><circle cx="69.0" cy="135.9" r="1.6" fill="#1f77b4" fill-opacity="0.70"/><circle cx="68.6" cy="126.2" r="1.6" fill="#1f77b4" fill-opacity="0.71"/><circle cx="61.7" cy="125.9" r="1.6" fill="#1f77b4" fill-opacity="0.71"/><circle cx="62.5" cy="134.6" r="1.6" fill="#1f77b4" fill-opacity="0.72"/><circle cx="81.8" cy="139.9" r="1.6" fill="#1f77b4" fill-opacity="0.72"/><circle cx="66.3" cy="125.4" r="1.6" fill="#1f77b4" fill-opacity="0.72"/><circle cx="81.2" cy="125.8" r="1.6" fill="#1f77b4" fill-opacity="0.72"/><circle cx="79.7" cy="130.6" r="1.6" fill="#1f77b4" fill-opacity="0.72"/><circle cx="74.5" cy="141.6" r="1.6" fill="#1f77b4" fill-opacity="0.72"/><circle cx="64.7" cy="128.8" r="1.6" fill="#1f77b4" fill-opacity="0.72"/><circle cx="67.4" cy="94.1" r="1.6" fill="#1f77b4" fill-opacity="0.72"/><circle cx="67.1" cy="86.7" r="1.6" fill="#1f77b4" fill-opacity="0.72"/><circle cx="67.1" cy="116.5" r="1.6" fill="#1f77b4" fill-opacity="0.72"/><circle cx="77.0" cy="141.9" r="1.6" fill="#1f77b4" fill-opacity="0.72"/><circle cx="63.2" cy="126.0" r="1.6" fill="#1f77b4" fill-opacity="0.73"/><circle cx="74.1" cy="124.4" r="1.6" fill="#1f77b4" fill-opacity="0.73"/><circle cx="76.0" cy="129.6" r="1.6" fill="#1f77b4" fill-opacity="0.73"/><circle cx="73.5" cy="88.9" r="1.6" fill="#1f77b4" fill-opacity="0.73"/><circle cx="65.5" cy="127.3" r="1.6" fill="#1f77b4" fill-opacity="0.73"/><circle cx="57.0" cy="122.8" r="1.6" fill="#1f77b4" fill-opacity="0.74"/><circle cx="84.5" cy="140.6" r="1.6" fill="#1f77b4" fill-opacity="0.74"/><circle cx="63.7" cy="121.7" r="1.6" fill="#1f77b4" fill-opacity="0.74"/><circle cx="93.4" cy="124.2" r="1.6" fill="#1f77b4" fill-opacity="0.75"/><circle cx="73.3" cy="134.6" r="1.6" fill="#1f77b4" fill-opacity="0.75"/><circle cx="60.8" cy="114.8" r="1.6" fill="#1f77b4" fill-opacity="0.75"/><circle cx="72.3" cy="114.2" r="1.6" fill="#1f77b4" fill-opacity="0.75"/><circle cx="64.0" cy="131.9" r="1.6" fill="#1f77b4" fill-opacity="0.75"/><circle cx="72.4" cy="123.8" r="1.6" fill="#1f77b4" fill-opacity="0.75"/><circle cx="85.3" cy="128.1" r="1.6" fill="#1f77b4" fill-opacity="0.76"/><circle cx="67.8" cy="113.1" r="1.6" fill="#1f77b4" fill-opacity="0.76"/><circle cx="94.7" cy="130.2" r="1.6" fill="#1f77b4" fill-opacity="0.76"/><circle cx="67.4" cy="111.6" r="1.6" fill="#1f77b4" fill-opacity="0.76"/><circle cx="75.7" cy="125.7" r="1.6" fill="#1f77b4" fill-opacity="0.76"/><circle cx="85.4" cy="122.1" r="1.6" fill="#1f77b4" fill-opacity="0.76"/><circle cx="109.0" cy="148.6" r="1.6" fill="#1f77b4" fill-opacity="0.76"/><circle cx="90.7" cy="128.4" r="1.6" fill="#1f77b4" fill-opacity="0.76"/><circle cx="78.4" cy="128.1" r="1.6" fill="#1f77b4" fill-opacity="0.76"/><circle cx="74.0" cy="132.6" r="1.6" fill="#1f77b4" fill-opacity="0.77"/><circle cx="57.7" cy="128.4" r="1.6" fill="#1f77b4" fill-opacity="0.77"/><circle cx="77.8" cy="124.2" r="1.6" fill="#1f77b4" fill-opacity="0.77"/><circle cx="101.1" cy="144.0" r="1.6" fill="#1f77b4" fill-opacity="0.77"/><circle cx="90.6" cy="139.6" r="1.6" fill="#1f77b4" fill-opacity="0.77"/><circle cx="85.8" cy="132.1" r="1.6" fill="#1f77b4" fill-opacity="0.77"/><circle cx="101.7" cy="140.0" r="1.6" fill="#1f77b4" fill-opacity="0.77"/><circle cx="91.8" cy="129.3" r="1.6" fill="#1f77b4" fill-opacity="0.77"/><circle cx="81.6" cy="127.3" r="1.6" fill="#1f77b4" fill-opacity="0.77"/><circle cx="72.4" cy="121.0" r="1.6" fill="#1f77b4" fill-opacity="0.77"/><circle cx="68.4" cy="135.1" r="1.6" fill="#1f77b4" fill-opacity="0.77"/><circle cx="64.1" cy="113.9" r="1.6" fill="#1f77b4" fill-opacity="0.77"/><circle cx="66.3" cy="110.7" r="1.6" fill="#1f77b4" fill-opacity="0.77"/><circle cx="71.1" cy="94.0" r="1.6" fill="#1f77b4" fill-opacity="0.77"/><circle cx="66.1" cy="115.8" r="1.6" fill="#1f77b4" fill-opacity="0.77"/><circle cx="66.4" cy="128.0" r="1.6" fill="#1f77b4" fill-opacity="0.77"/><circle cx="78.2" cy="122.6" r="1.6" fill="#1f77b4" fill-opacity="0.78"/><circle cx="96.5" cy="149.7" r="1.6" fill="#1f77b4" fill-opacity="0.78"/><circle cx="83.2" cy="133.5" r="1.6" fill="#1f77b4" fill-opacity="0.78"/><circle cx="79.0" cy="139.0" r="1.6" fill="#1f77b4" fill-opacity="0.78"/><circle cx="79.7" cy="147.7" r="1.6" fill="#1f77b4" fill-opacity="0.78"/><circle cx="74.1" cy="124.3" r="1.6" fill="#1f77b4" fill-opacity="0.78"/><circle cx="90.2" cy="147.5" r="1.6" fill="#1f77b4" fill-opacity="0.79"/><circle cx="104.0" cy="138.3" r="1.6" fill="#1f77b4" fill-opacity="0.79"/><circle cx="96.0" cy="131.3" r="1.6" fill="#1f77b4" fill-opacity="0.79"/><circle cx="64.2" cy="128.0" r="1.6" fill="#1f77b4" fill-opacity="0.79"/><circle cx="94.1" cy="139.6" r="1.6" fill="#1f77b4" fill-opacity="0.79"/><circle cx="73.6" cy="121.2" r="1.6" fill="#1f77b4" fill-opacity="0.79"/><circle cx="106.4" cy="136.2" r="1.6" fill="#1f77b4" fill-opacity="0.79"/><circle cx="95.5" cy="127.8" r="1.6" fill="#1f77b4" fill-opacity="0.79"/><circle cx="62.0" cy="121.4" r="1.6" fill="#1f77b4" fill-opacity="0.80"/><circle cx="82.0" cy="131.0" r="1.6" fill="#1f77b4" fill-opacity="0.80"/><circle cx="67.8" cy="130.6" r="1.6" fill="#1f77b4" fill-opacity="0.80"/><circle cx="81.3" cy="125.6" r="1.6" fill="#1f77b4" fill-opacity="0.80"/><circle cx="85.4" cy="119.0" r="1.6" fill="#1f77b4" fill-opacity="0.80"/><circle cx="100.9" cy="147.7" r="1.6" fill="#1f77b4" fill-opacity="0.80"/><circle cx="79.9" cy="124.2" r="1.6" fill="#1f77b4" fill-opacity="0.80"/><circle cx="82.6" cy="113.3" r="1.6" fill="#1f77b4" fill-opacity="0.80"/><circle cx="86.5" cy="130.2" r="1.6" fill="#1f77b4" fill-opacity="0.80"/><circle cx="87.1" cy="123.8" r="1.6" fill="#1f77b4" fill-opacity="0.80"/><circle cx="100.2" cy="149.9" r="1.6" fill="#1f77b4" fill-opacity="0.80"/><circle cx="76.7" cy="125.2" r="1.6" fill="#1f77b4" fill-opacity="0.80"/><circle cx="62.7" cy="119.3" r="1.6" fill="#1f77b4" fill-opacity="0.80"/><circle cx="90.9" cy="152.7" r="1.6" fill="#1f77b4" fill-opacity="0.80"/><circle cx="99.5" cy="129.8" r="1.6" fill="#1f77b4" fill-opacity="0.80"/><circle cx="65.8" cy="119.9" r="1.6" fill="#1f77b4" fill-opacity="0.80"/><circle cx="67.3" cy="116.5" r="1.6" fill="#1f77b4" fill-opacity="0.81"/><circle cx="75.5" cy="129.2" r="1.6" fill="#1f77b4" fill-opacity="0.81"/><circle cx="91.6" cy="145.6" r="1.6" fill="#1f77b4" fill-opacity="0.81"/><circle cx="80.1" cy="120.5" r="1.6" fill="#1f77b4" fill-opacity="0.81"/><circle cx="104.3" cy="138.7" r="1.6" fill="#1f77b4" fill-opacity="0.81"/><circle cx="84.0" cy="121.0" r="1.6" fill="#1f77b4" fill-opacity="0.81"/><circle cx="83.4" cy="127.3" r="1.6" fill="#1f77b4" fill-opacity="0.81"/><circle cx="85.9" cy="126.7" r="1.6" fill="#1f77b4" fill-opacity="0.81"/><circle cx="71.3" cy="132.8" r="1.6" fill="#1f77b4" fill-opacity="0.81"/><circle cx="105.9" cy="149.0" r="1.6" fill="#1f77b4" fill-opacity="0.81"/><circle cx="107.8" cy="146.0" r="1.6" fill="#1f77b4" fill-opacity="0.81"/><circle cx="99.1" cy="135.2" r="1.6" fill="#1f77b4" fill-opacity="0.81"/><circle cx="97.9" cy="128.7" r="1.6" fill="#1f77b4" fill-opacity="0.81"/><circle cx="102.9" cy="130.5" r="1.6" fill="#1f77b4" fill-opacity="0.82"/><circle cx="96.8" cy="154.3" r="1.6" fill="#1f77b4" fill-opacity="0.82"/><circle cx="90.5" cy="127.0" r="1.6" fill="#1f77b4" fill-opacity="0.82"/><circle cx="101.2" cy="148.8" r="1.6" fill="#1f77b4" fill-opacity="0.82"/><circle cx="84.7" cy="117.9" r="1.6" fill="#1f77b4" fill-opacity="0.82"/><circle cx="92.0" cy="120.9" r="1.6" fill="#1f77b4" fill-opacity="0.82"/><circle cx="80.0" cy="134.5" r="1.6" fill="#1f77b4" fill-opacity="0.82"/><circle cx="100.0" cy="155.1" r="1.6" fill="#1f77b4" fill-opacity="0.83"/><circle cx="87.9" cy="120.5" r="1.6" fill="#1f77b4" fill-opacity="0.83"/><circle cx="71.8" cy="130.6" r="1.6" fill="#1f77b4" fill-opacity="0.83"/><circle cx="98.1" cy="123.6" r="1.6" fill="#1f77b4" fill-opacity="0.83"/><circle cx="91.4" cy="129.9" r="1.6" fill="#1f77b4" fill-opacity="0.83"/><circle cx="80.1" cy="134.2" r="1.6" fill="#1f77b4" fill-opacity="0.83"/><circle cx="105.4" cy="158.3" r="1.6" fill="#1f77b4" fill-opacity="0.83"/><circle cx="88.8" cy="128.5" r="1.6" fill="#1f77b4" fill-opacity="0.84"/><circle cx="71.2" cy="133.0" r="1.6" fill="#1f77b4" fill-opacity="0.84"/><circle cx="113.5" cy="140.0" r="1.6" fill="#1f77b4" fill-opacity="0.84"/><circle cx="110.1" cy="127.7" r="1.6" fill="#1f77b4" fill-opacity="0.84"/><circle cx="90.0" cy="121.0" r="1.6" fill="#1f77b4" fill-opacity="0.84"/><circle cx="83.2" cy="116.2" r="1.6" fill="#1f77b4" fill-opacity="0.84"/><circle cx="105.8" cy="121.9" r="1.6" fill="#1f77b4" fill-opacity="0.84"/><circle cx="99.2" cy="129.9" r="1.6" fill="#1f77b4" fill-opacity="0.84"/><circle cx="90.7" cy="123.6" r="1.6" fill="#1f77b4" fill-opacity="0.84"/><circle cx="94.9" cy="155.2" r="1.6" fill="#1f77b4" fill-opacity="0.85"/><circle cx="97.8" cy="124.8" r="1.6" fill="#1f77b4" fill-opacity="0.85"/><circle cx="96.7" cy="143.4" r="1.6" fill="#1f77b4" fill-opacity="0.85"/><circle cx="92.0" cy="136.9" r="1.6" fill="#1f77b4" fill-opacity="0.85"/><circle cx="105.4" cy="150.6" r="1.6" fill="#1f77b4" fill-opacity="0.85"/><circle cx="103.3" cy="136.9" r="1.6" fill="#1f77b4" fill-opacity="0.85"/><circle cx="105.8" cy="137.6" r="1.6" fill="#1f77b4" fill-opacity="0.86"/><circle cx="99.7" cy="139.8" r="1.6" fill="#1f77b4" fill-opacity="0.86"/><circle cx="93.3" cy="121.8" r="1.6" fill="#1f77b4" fill-opacity="0.86"/><circle cx="103.3" cy="152.3" r="1.6" fill="#1f77b4" fill-opacity="0.86"/><circle cx="90.7" cy="124.5" r="1.6" fill="#1f77b4" fill-opacity="0.86"/><circle cx="98.7" cy="111.7" r="1.6" fill="#1f77b4" fill-opacity="0.86"/><circle cx="103.5" cy="130.2" r="1.6" fill="#1f77b4" fill-opacity="0.86"/><circle cx="76.2" cy="115.3" r="1.6" fill="#1f77b4" fill-opacity="0.86"/><circle cx="110.6" cy="146.0" r="1.6" fill="#1f77b4" fill-opacity="0.86"/><circle cx="97.5" cy="138.7" r="1.6" fill="#1f77b4" fill-opacity="0.86"/><circle cx="87.5" cy="132.9" r="1.6" fill="#1f77b4" fill-opacity="0.86"/><circle cx="75.9" cy="126.5" r="1.6" fill="#1f77b4" fill-opacity="0.86"/><circle cx="86.7" cy="127.0" r="1.6" fill="#1f77b4" fill-opacity="0.86"/><circle cx="91.6" cy="125.8" r="1.6" fill="#1f77b4" fill-opacity="0.87"/><circle cx="74.9" cy="134.0" r="1.6" fill="#1f77b4" fill-opacity="0.87"/><circle cx="106.1" cy="147.7" r="1.6" fill="#1f77b4" fill-opacity="0.87"/><circle cx="88.3" cy="127.9" r="1.6" fill="#1f77b4" fill-opacity="0.87"/><circle cx="102.2" cy="155.9" r="1.6" fill="#1f77b4" fill-opacity="0.88"/><circle cx="87.8" cy="136.6" r="1.6" fill="#1f77b4" fill-opacity="0.88"/><circle cx="77.6" cy="121.2" r="1.6" fill="#1f77b4" fill-opacity="0.88"/><circle cx="109.5" cy="133.8" r="1.6" fill="#1f77b4" fill-opacity="0.88"/><circle cx="117.5" cy="155.0" r="1.6" fill="#1f77b4" fill-opacity="0.88"/><circle cx="98.4" cy="147.6" r="1.6" fill="#1f77b4" fill-opacity="0.89"/><circle cx="101.2" cy="149.4" r="1.6" fill="#1f77b4" fill-opacity="0.89"/><circle cx="101.3" cy="142.4" r="1.6" fill="#1f77b4" fill-opacity="0.90"/><circle cx="108.9" cy="143.2" r="1.6" fill="#1f77b4" fill-opacity="0.90"/><circle cx="111.8" cy="139.1" r="1.6" fill="#1f77b4" fill-opacity="0.90"/><circle cx="103.3" cy="124.3" r="1.6" fill="#1f77b4" fill-opacity="0.90"/><circle cx="87.5" cy="124.5" r="1.6" fill="#1f77b4" fill-opacity="0.90"/><circle cx="109.3" cy="146.3" r="1.6" fill="#1f77b4" fill-opacity="0.91"/><circle cx="96.0" cy="124.4" r="1.6" fill="#1f77b4" fill-opacity="0.91"/><circle cx="97.1" cy="129.2" r="1.6" fill="#1f77b4" fill-opacity="0.92"/><circle cx="108.7" cy="127.0" r="1.6" fill="#1f77b4" fill-opacity="0.92"/><circle cx="118.2" cy="132.4" r="1.6" fill="#1f77b4" fill-opacity="0.92"/><circle cx="108.0" cy="115.8" r="1.6" fill="#1f77b4" fill-opacity="0.93"/><circle cx="110.2" cy="139.6" r="1.6" fill="#1f77b4" fill-opacity="0.93"/><circle cx="105.8" cy="139.5" r="1.6" fill="#1f77b4" fill-opacity="0.93"/><circle cx="101.2" cy="114.8" r="1.6" fill="#1f77b4" fill-opacity="0.93"/><circle cx="117.8" cy="149.6" r="1.6" fill="#1f77b4" fill-opacity="0.93"/><circle cx="109.6" cy="139.2" r="1.6" fill="#1f77b4" fill-opacity="0.95"/><circle cx="112.9" cy="138.0" r="1.6" fill="#1f77b4" fill-opacity="0.96"/><circle cx="104.1" cy="137.4" r="1.6" fill="#1f77b4" fill-opacity="0.98"/><circle cx="101.4" cy="128.7" r="1.6" fill="#1f77b4" fill-opacity="0.98"/><circle cx="92.4" cy="123.7" r="1.6" fill="#1f77b4"/><rect x="127.9" y="9.6" width="79.5" height="32.8" rx="2.2" fill="#fff" fill-opacity="0.8" stroke="#d6d6d6" stroke-width="0.6"/><circle cx="141.6" cy="18.5" r="1.5" fill="#1f77b4"/><circle cx="141.6" cy="33.3" r="1.5" fill="#ff7f0e"/><text x="181.32" y="21.52" font-size="10.76" textLength="43.17" lengthAdjust="spacingAndGlyphs" text-anchor="middle" fill="#000" stroke="#000" stroke-width="0.15">Negative</text><text x="178.27" y="35.83" font-size="10.76" textLength="37.07" lengthAdjust="spacingAndGlyphs" text-anchor="middle" fill="#000" stroke="#000" stroke-width="0.15">Positive</text></svg><div class="lbl" style="left:4.699999999999989px;top:4.5px">D</div></div>
</body></html>
